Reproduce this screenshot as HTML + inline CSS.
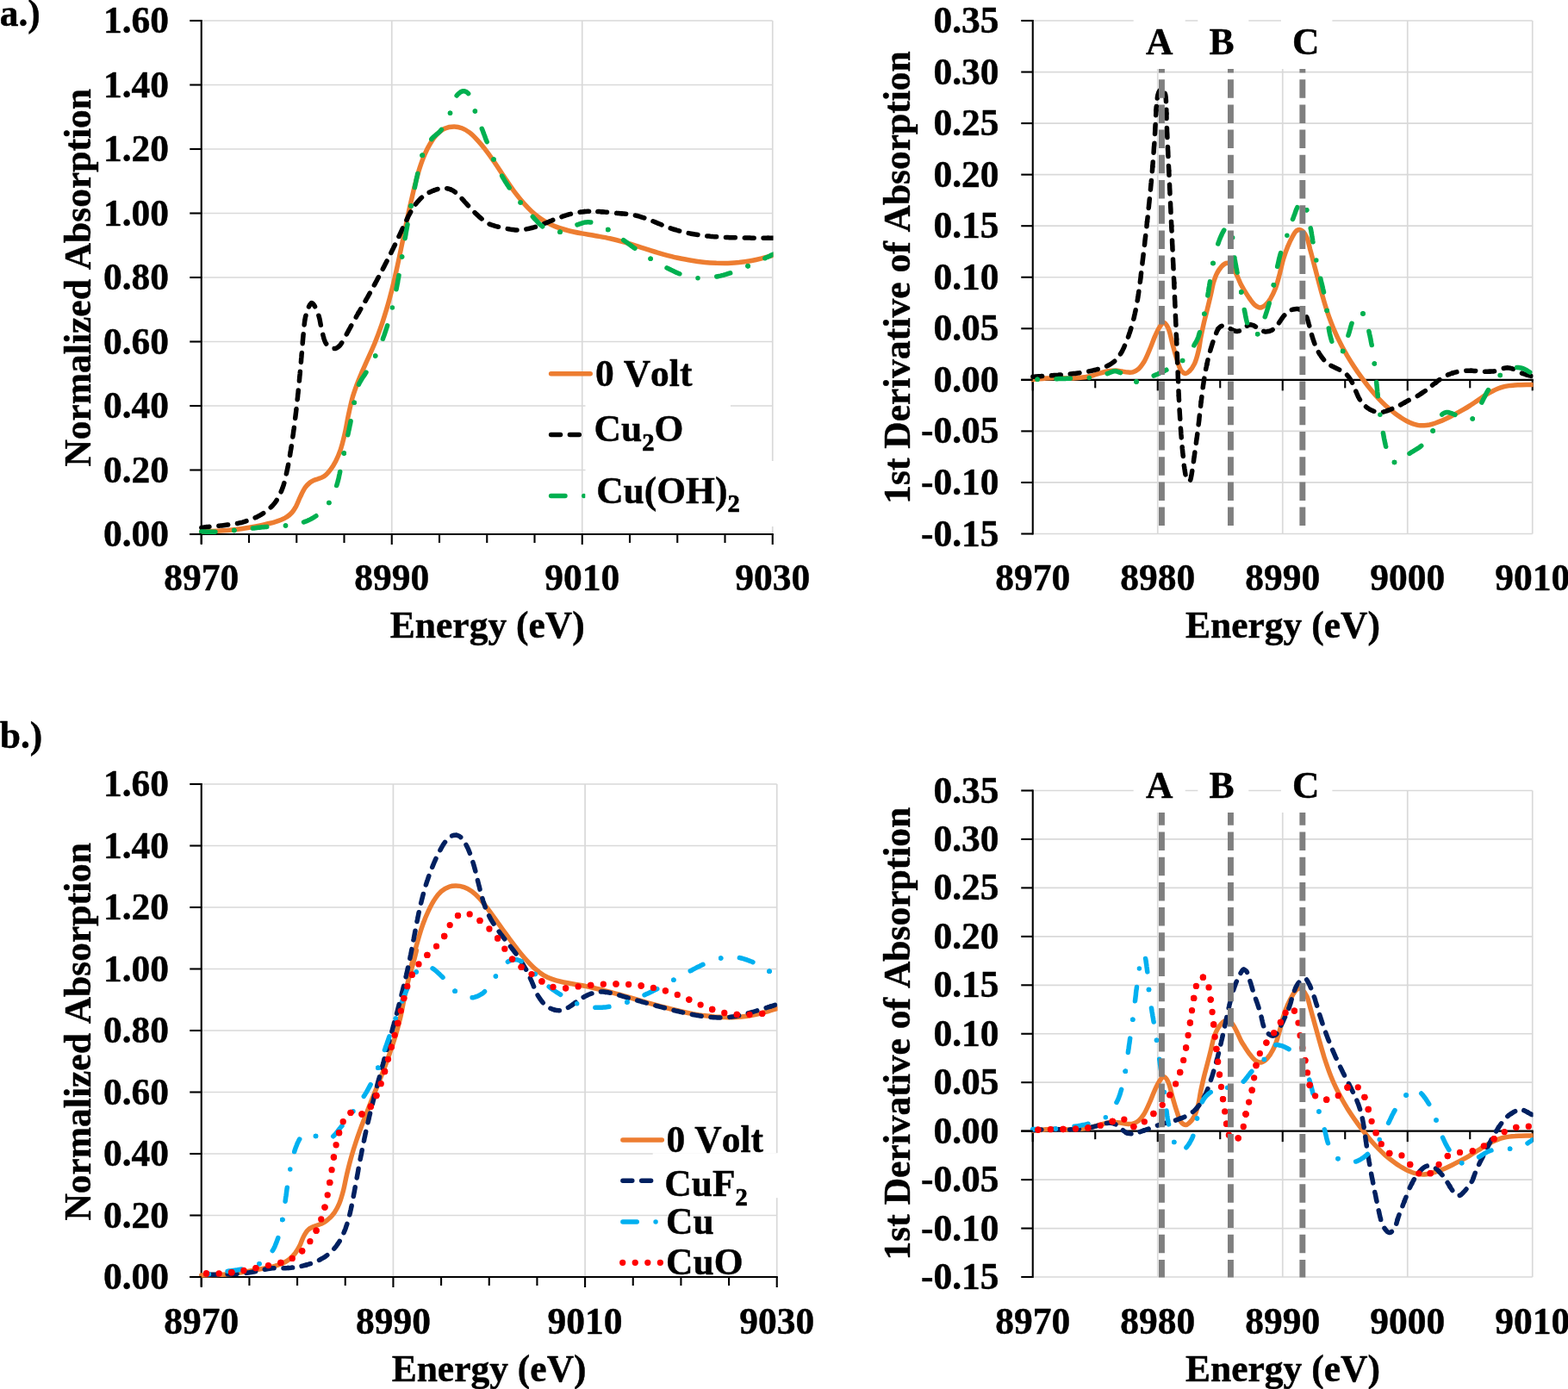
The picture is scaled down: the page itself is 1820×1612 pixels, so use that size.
<!DOCTYPE html>
<html><head><meta charset="utf-8"><title>Figure</title><style>html,body{margin:0;padding:0;background:#fff}svg{display:block}text{font-kerning:none;font-variant-ligatures:none;stroke:#000;stroke-width:.45px;stroke-linejoin:round}</style></head><body>
<svg width="1820" height="1612" viewBox="0 0 1820 1612" font-family="Liberation Serif, serif" font-weight="bold" fill="#000">
<rect width="1820" height="1612" fill="#fff"/>
<line x1="233.75" y1="24.00" x2="896.75" y2="24.00" stroke="#d9d9d9" stroke-width="1.70" />
<line x1="233.75" y1="98.50" x2="896.75" y2="98.50" stroke="#d9d9d9" stroke-width="1.70" />
<line x1="233.75" y1="173.00" x2="896.75" y2="173.00" stroke="#d9d9d9" stroke-width="1.70" />
<line x1="233.75" y1="247.50" x2="896.75" y2="247.50" stroke="#d9d9d9" stroke-width="1.70" />
<line x1="233.75" y1="322.00" x2="896.75" y2="322.00" stroke="#d9d9d9" stroke-width="1.70" />
<line x1="233.75" y1="396.50" x2="896.75" y2="396.50" stroke="#d9d9d9" stroke-width="1.70" />
<line x1="233.75" y1="471.00" x2="896.75" y2="471.00" stroke="#d9d9d9" stroke-width="1.70" />
<line x1="233.75" y1="545.50" x2="896.75" y2="545.50" stroke="#d9d9d9" stroke-width="1.70" />
<line x1="454.75" y1="24.00" x2="454.75" y2="620.00" stroke="#d9d9d9" stroke-width="1.70" />
<line x1="675.75" y1="24.00" x2="675.75" y2="620.00" stroke="#d9d9d9" stroke-width="1.70" />
<line x1="896.75" y1="24.00" x2="896.75" y2="620.00" stroke="#d9d9d9" stroke-width="1.70" />
<rect x="679.5" y="455.0" width="168.5" height="80.0" fill="#fff"/>
<rect x="679.5" y="535.0" width="230.0" height="76.0" fill="#fff"/>
<line x1="233.75" y1="22.95" x2="233.75" y2="631.00" stroke="#000" stroke-width="2.10" />
<line x1="220.25" y1="620.00" x2="897.80" y2="620.00" stroke="#000" stroke-width="2.10" />
<line x1="233.75" y1="620.00" x2="233.75" y2="632.00" stroke="#000" stroke-width="2.10" />
<line x1="289.00" y1="620.00" x2="289.00" y2="630.00" stroke="#000" stroke-width="2.10" />
<line x1="344.25" y1="620.00" x2="344.25" y2="630.00" stroke="#000" stroke-width="2.10" />
<line x1="399.50" y1="620.00" x2="399.50" y2="630.00" stroke="#000" stroke-width="2.10" />
<line x1="454.75" y1="620.00" x2="454.75" y2="632.00" stroke="#000" stroke-width="2.10" />
<line x1="510.00" y1="620.00" x2="510.00" y2="630.00" stroke="#000" stroke-width="2.10" />
<line x1="565.25" y1="620.00" x2="565.25" y2="630.00" stroke="#000" stroke-width="2.10" />
<line x1="620.50" y1="620.00" x2="620.50" y2="630.00" stroke="#000" stroke-width="2.10" />
<line x1="675.75" y1="620.00" x2="675.75" y2="632.00" stroke="#000" stroke-width="2.10" />
<line x1="731.00" y1="620.00" x2="731.00" y2="630.00" stroke="#000" stroke-width="2.10" />
<line x1="786.25" y1="620.00" x2="786.25" y2="630.00" stroke="#000" stroke-width="2.10" />
<line x1="841.50" y1="620.00" x2="841.50" y2="630.00" stroke="#000" stroke-width="2.10" />
<line x1="896.75" y1="620.00" x2="896.75" y2="632.00" stroke="#000" stroke-width="2.10" />
<clipPath id="cp1"><rect x="228.75" y="4.00" width="668.80" height="700.00"/></clipPath><g clip-path="url(#cp1)">
<path d="M233.8 616.8C241.0 616.6 248.8 616.5 255.5 616.1C261.3 615.8 266.3 615.4 271.8 614.8C277.5 614.1 284.1 613.2 289.3 612.3C293.5 611.6 296.8 611.0 300.6 610.2C304.5 609.4 309.1 608.4 312.4 607.5C314.9 606.9 316.7 606.5 318.9 605.8C321.3 605.1 324.0 604.3 326.4 603.3C328.6 602.3 330.6 601.5 332.6 600.1C334.7 598.7 337.0 597.0 338.8 594.9C340.7 592.7 342.2 590.1 343.8 587.3C345.5 584.0 346.9 579.9 348.6 576.4C350.3 572.9 351.9 569.1 353.9 566.2C355.7 563.8 357.8 561.6 359.8 560.0C361.4 558.8 363.0 558.0 364.6 557.3C366.2 556.6 367.8 556.3 369.4 555.7C370.9 555.2 372.6 554.7 374.1 553.9C375.7 553.1 377.2 552.1 378.7 550.7C380.5 549.1 382.2 547.0 383.9 544.7C385.9 541.9 387.9 538.7 389.7 535.2C391.7 531.2 393.6 526.6 395.3 521.8C397.1 516.4 398.6 510.3 400.0 504.1C401.6 497.5 402.7 490.2 404.1 483.3C405.6 476.4 407.0 469.2 408.8 462.6C410.5 456.5 412.7 450.6 414.7 445.1C416.5 440.2 418.5 435.7 420.3 431.4C422.0 427.5 423.4 424.5 425.3 420.2C428.0 414.1 431.9 405.7 434.9 398.5C437.8 391.3 440.5 384.0 443.0 376.8C445.5 369.6 447.7 362.2 449.8 355.1C451.8 348.3 453.5 341.7 455.2 335.0C456.9 328.2 458.4 321.7 459.9 314.8C461.6 307.4 463.2 299.6 464.8 292.0C466.4 284.4 468.0 276.8 469.5 269.2C471.1 261.8 472.6 254.2 474.1 247.2C475.5 241.0 476.7 235.4 478.1 229.6C479.4 223.7 480.8 217.8 482.4 211.9C483.9 206.0 485.5 199.9 487.3 194.3C489.1 189.0 490.9 183.9 493.0 179.1C495.0 174.6 497.1 170.3 499.6 166.3C501.9 162.5 504.3 158.7 507.2 155.8C509.9 153.1 512.7 150.6 516.0 149.2C519.4 147.7 523.7 147.0 527.2 147.0C530.3 147.0 533.2 147.6 536.1 148.7C539.2 149.8 542.2 151.7 545.1 153.9C548.2 156.2 551.1 159.3 553.9 162.4C557.0 165.7 560.1 169.4 563.0 173.2C566.0 177.1 569.0 181.2 571.8 185.3C574.8 189.5 577.6 193.8 580.4 198.1C583.3 202.4 586.0 206.6 589.0 210.9C592.2 215.6 595.8 220.9 599.1 225.2C602.1 229.1 604.8 232.5 607.9 235.9C610.9 239.2 614.1 242.6 617.2 245.5C620.2 248.2 623.1 250.6 626.1 252.8C628.9 254.8 631.5 256.5 634.5 258.1C637.5 259.8 640.4 261.2 644.0 262.6C648.4 264.4 654.0 266.1 659.2 267.5C664.4 268.9 669.8 269.9 675.1 270.9C680.6 271.9 686.1 272.7 691.5 273.7C697.0 274.7 702.5 275.6 707.9 276.8C713.3 278.0 718.5 279.4 723.8 280.9C729.0 282.3 734.2 284.0 739.4 285.6C744.6 287.2 749.7 288.9 754.9 290.6C760.1 292.2 765.3 293.8 770.6 295.3C775.8 296.7 781.1 298.1 786.4 299.3C791.7 300.4 797.0 301.5 802.3 302.3C807.6 303.2 813.2 303.9 818.2 304.4C822.9 304.9 827.1 305.1 831.5 305.3C835.9 305.4 840.3 305.5 844.6 305.4C849.0 305.2 853.5 305.0 857.9 304.6C862.3 304.1 866.7 303.5 871.1 302.8C875.5 302.0 879.9 301.0 884.2 299.9C888.6 298.8 893.0 297.6 897.4 296.4" fill="none" stroke="#ED7D31" stroke-width="5.5" stroke-linecap="round" stroke-linejoin="round"/>
<path d="M233.8 612.4L235.4 612.2L236.9 612.0L238.5 611.8L240.1 611.6L241.6 611.4L243.2 611.3L244.8 611.1L246.5 610.9L248.0 610.7L249.5 610.6L251.1 610.5L252.6 610.3L254.2 610.2L255.8 610.1L257.4 609.9L259.1 609.7L260.8 609.5L262.4 609.3L263.9 609.1L265.4 608.9L267.0 608.7L268.6 608.5L270.2 608.3L271.8 608.0L273.4 607.7L275.1 607.5L276.7 607.2L278.3 606.8L279.9 606.5L281.5 606.1L283.1 605.6L284.7 605.1L286.2 604.6L287.8 604.1L289.4 603.6L291.0 603.0L292.5 602.4L294.1 601.7L295.6 601.1L297.1 600.4L298.6 599.7L300.1 598.9L301.5 598.2L302.9 597.4L304.3 596.5L305.7 595.6L307.0 594.7L308.4 593.7L309.7 592.7L311.0 591.7L312.2 590.7L313.4 589.6L314.6 588.5L315.8 587.3L316.9 586.1L317.9 584.9L318.9 583.7L319.9 582.4L320.8 581.1L321.6 579.8L322.4 578.4L323.2 577.0L324.0 575.6L324.7 574.2L325.4 572.7L326.0 571.2L326.7 569.7L327.3 568.1L327.9 566.6L328.4 565.1L329.0 563.6L329.4 562.0L329.9 560.4L330.3 558.8L330.7 557.2L331.1 555.6L331.5 553.9L331.9 552.3L332.2 550.6L332.6 549.0L332.9 547.3L333.3 545.7L333.6 544.1L334.0 542.5L334.3 540.9L334.6 539.3L334.9 537.7L335.2 536.2L335.5 534.6L335.8 533.0L336.0 531.4L336.3 529.9L336.6 528.3L336.8 526.7L337.1 525.1L337.3 523.5L337.6 521.9L337.9 520.3L338.1 518.7L338.4 517.1L338.6 515.4L338.9 513.8L339.1 512.2L339.3 510.5L339.6 508.9L339.8 507.3L340.0 505.6L340.3 504.0L340.5 502.3L340.7 500.7L340.9 499.1L341.2 497.4L341.4 495.8L341.6 494.2L341.8 492.6L342.0 490.9L342.2 489.3L342.4 487.7L342.6 486.1L342.8 484.4L343.0 482.8L343.2 481.2L343.4 479.6L343.6 478.0L343.8 476.3L344.0 474.7L344.1 473.1L344.3 471.5L344.5 469.8L344.7 468.2L344.9 466.6L345.0 465.0L345.2 463.4L345.4 461.7L345.6 460.1L345.7 458.5L345.9 456.9L346.1 455.3L346.2 453.6L346.4 452.0L346.6 450.4L346.7 448.8L346.9 447.1L347.0 445.5L347.2 443.9L347.4 442.2L347.5 440.5L347.7 438.8L347.8 437.1L348.0 435.4L348.2 433.7L348.3 432.0L348.5 430.3L348.6 428.7L348.8 427.0L348.9 425.4L349.0 423.9L349.2 422.4L349.3 420.9L349.5 419.3L349.6 417.6L349.7 416.0L349.9 414.5L350.0 412.9L350.1 411.4L350.3 409.9L350.4 408.4L350.5 406.8L350.7 405.2L350.8 403.6L350.9 402.1L351.1 400.5L351.2 398.9L351.3 397.2L351.4 395.6L351.6 393.9L351.7 392.3L351.9 390.6L352.0 389.0L352.2 387.4L352.3 385.7L352.5 384.1L352.7 382.5L352.8 380.8L353.0 379.1L353.1 377.5L353.3 375.8L353.5 374.2L353.7 372.6L354.0 371.0L354.2 369.5L354.5 368.0L354.9 366.5L355.4 364.7L355.9 363.0L356.4 361.3L357.0 359.6L357.6 358.1L358.1 356.7L358.7 355.5L359.3 354.4L360.3 352.9L361.3 351.8L361.8 351.7" fill="none" stroke="#000000" stroke-width="5.5" stroke-linecap="round" stroke-linejoin="round" stroke-dasharray="10.9 10.9" stroke-dashoffset="1.62"/>
<path d="M361.8 351.7L362.9 352.2L364.0 353.4L365.1 354.9L365.7 356.1L366.4 357.4L367.1 358.8L367.8 360.4L368.4 362.1L369.0 363.8L369.6 365.5L370.2 367.2L370.6 368.7L371.0 370.2L371.3 371.8L371.6 373.4L371.9 375.0L372.2 376.7L372.5 378.3L372.8 379.9L373.1 381.5L373.4 383.1L373.8 384.7L374.3 386.3L374.7 388.0L375.1 389.7L375.6 391.3L376.0 393.0L376.5 394.5L377.1 396.0L377.7 397.4L378.4 398.6L379.3 399.8L380.5 401.1L381.8 402.1L383.1 403.0L384.4 403.7L385.6 404.2L387.3 404.6L388.9 404.5L390.3 404.1L391.6 403.4L392.8 402.5L394.0 401.4L395.0 400.3L395.8 399.2L396.6 398.0L397.4 396.6L398.2 395.2L399.0 393.7L399.8 392.2L400.7 390.6L401.5 389.2L402.3 387.9L403.0 386.5L403.8 385.1L404.6 383.6L405.4 382.2L406.2 380.7L407.0 379.2L407.9 377.6L408.7 376.1L409.5 374.6L410.3 373.2L411.1 371.7L411.9 370.3L412.8 368.8L413.6 367.4L414.5 365.9L415.3 364.5L416.1 363.1" fill="none" stroke="#000000" stroke-width="5.5" stroke-linecap="round" stroke-linejoin="round" stroke-dasharray="10.9 10.9" stroke-dashoffset="5.45" pathLength="109.00"/>
<path d="M416.1 363.1L417.0 361.7L417.8 360.2L418.6 358.8L419.5 357.4L420.3 355.9L421.2 354.5L422.0 353.1L422.8 351.7L423.6 350.3L424.4 348.9L425.2 347.4L426.0 346.0L426.8 344.6L427.6 343.2L428.4 341.7L429.2 340.3L430.0 338.9L430.8 337.5L431.6 336.1L432.3 334.6L433.1 333.2L433.9 331.8L434.7 330.4L435.5 328.9L436.2 327.5L437.0 326.1L437.8 324.7L438.5 323.2L439.3 321.8L440.1 320.4L440.8 318.9L441.6 317.5L442.4 316.0L443.1 314.5L443.9 313.1L444.6 311.6L445.4 310.1L446.2 308.6L446.9 307.1L447.7 305.6L448.5 304.2L449.2 302.7L450.0 301.2L450.7 299.7L451.5 298.2L452.2 296.7L452.9 295.3L453.7 293.8L454.4 292.3L455.1 290.8L455.9 289.4L456.6 287.9L457.3 286.4L458.0 285.0L458.7 283.5L459.4 282.1L460.1 280.6L460.8 279.2L461.5 277.7L462.2 276.1L462.9 274.6L463.6 273.1L464.3 271.6L465.0 270.1L465.7 268.6L466.4 267.1L467.1 265.6L467.8 264.1L468.5 262.7L469.2 261.2L469.9 259.6L470.7 258.1L471.4 256.6L472.1 255.0L472.8 253.5L473.5 252.0L474.2 250.6L474.9 249.2L475.6 247.9L476.3 246.6L477.2 245.0L478.0 243.5L478.8 242.2L479.7 240.8L480.6 239.5L481.5 238.2L482.4 236.9L483.4 235.7L484.4 234.5L485.5 233.3L486.6 232.1L487.6 231.0L488.7 229.9L489.9 228.9L491.1 227.9L492.3 226.9L493.5 226.0L494.8 225.2L496.1 224.4L497.5 223.6L499.0 222.9L500.6 222.2L502.2 221.5L503.0 221.2" fill="none" stroke="#000000" stroke-width="5.5" stroke-linecap="round" stroke-linejoin="round" stroke-dasharray="10.9 10.9" stroke-dashoffset="5.45" pathLength="174.40"/>
<path d="M503.0 221.2L504.6 220.6L506.2 220.0L507.7 219.6L509.3 219.2L510.9 218.9L512.5 218.7L514.1 218.6L515.6 218.5L517.1 218.6L518.7 218.7L520.2 219.0L521.6 219.4L523.1 219.9L523.7 220.2" fill="none" stroke="#000000" stroke-width="5.5" stroke-linecap="round" stroke-linejoin="round" stroke-dasharray="10.9 10.9" stroke-dashoffset="5.45" pathLength="21.80"/>
<path d="M523.7 220.2L525.1 220.9L526.5 221.7L527.8 222.6L529.1 223.6L530.3 224.6L531.4 225.6L532.5 226.8L533.6 227.9L534.8 229.2L535.9 230.3L536.9 231.4L538.0 232.6L539.0 233.8L540.1 235.0L541.2 236.2L542.3 237.4L543.4 238.6L544.4 239.7L545.5 240.9L546.6 242.1L547.7 243.3L548.8 244.4L549.9 245.5L551.1 246.7L552.2 247.8L553.4 248.9L554.6 250.0L555.8 251.1L557.0 252.2L558.3 253.2L559.5 254.3L560.7 255.2L562.0 256.2L563.1 257.1L564.3 258.0L565.6 258.8L567.2 259.6L568.6 260.3L569.8 260.7L571.1 261.2L572.6 261.6L574.1 262.1L575.8 262.6L577.5 263.0L579.3 263.5L581.1 263.9L583.0 264.3L584.8 264.7L586.7 265.1L588.6 265.5L590.4 265.8L592.1 266.1L593.8 266.4L595.4 266.6L596.9 266.8L598.3 267.0L599.6 267.1L601.5 267.1L603.2 267.1L604.8 266.9L606.3 266.7L607.8 266.5L609.3 266.2L610.9 265.9L612.5 265.6L614.0 265.3L615.6 264.9L617.2 264.5L618.8 264.1L620.3 263.7L621.9 263.2L623.4 262.7L624.9 262.2L626.4 261.7L627.9 261.1L629.4 260.5L630.8 259.9L632.3 259.3L633.8 258.7L635.3 258.1L636.8 257.5L638.3 256.8L639.8 256.2L641.3 255.6L642.9 255.0L644.3 254.4L645.7 253.8L647.2 253.3L648.6 252.7L650.1 252.2L651.6 251.7L653.0 251.2L654.6 250.7L656.2 250.1L657.8 249.7L659.4 249.2L661.0 248.7L662.6 248.3L664.2 247.9L665.8 247.6L667.4 247.2L669.0 246.9L670.6 246.6L672.2 246.3L673.8 246.1L675.4 245.9L677.0 245.7L678.5 245.5" fill="none" stroke="#000000" stroke-width="5.5" stroke-linecap="round" stroke-linejoin="round" stroke-dasharray="10.9 10.9" stroke-dashoffset="5.45" pathLength="174.40"/>
<path d="M678.5 245.5L680.2 245.4L681.7 245.3L683.3 245.3L684.8 245.2L686.4 245.2L687.9 245.3L689.5 245.3L691.1 245.3L692.6 245.4L694.2 245.5L695.7 245.6L697.3 245.7L698.9 245.8" fill="none" stroke="#000000" stroke-width="5.5" stroke-linecap="round" stroke-linejoin="round" stroke-dasharray="10.9 10.9" stroke-dashoffset="5.45" pathLength="21.80"/>
<path d="M698.9 245.8L700.5 245.9L702.1 246.1L703.6 246.2L705.2 246.4L706.8 246.5L708.4 246.7L710.0 246.8L711.6 247.0L713.2 247.1L714.8 247.3L716.4 247.4L718.0 247.5L719.6 247.7L721.2 247.8" fill="none" stroke="#000000" stroke-width="5.5" stroke-linecap="round" stroke-linejoin="round" stroke-dasharray="10.9 10.9" stroke-dashoffset="5.45" pathLength="21.80"/>
<path d="M721.2 247.8L722.8 247.9L724.3 248.0L725.8 248.2L727.4 248.4L729.0 248.6L730.5 248.8L732.0 249.0L733.6 249.2L735.1 249.5L736.6 249.8L738.1 250.1L739.7 250.5L741.2 250.9L742.8 251.3L744.3 251.8L745.9 252.3L747.4 252.8L748.9 253.3L750.4 253.8L751.8 254.4L753.3 254.9L754.8 255.5L756.3 256.1L757.7 256.7L759.2 257.3L760.7 257.9L762.2 258.5L763.6 259.1L765.1 259.7L766.6 260.3L768.0 260.9L769.4 261.5L770.8 262.1L772.2 262.6L773.7 263.2L775.1 263.7L776.6 264.3L778.1 264.8L779.6 265.3L781.1 265.8L782.7 266.3L783.4 266.5" fill="none" stroke="#000000" stroke-width="5.5" stroke-linecap="round" stroke-linejoin="round" stroke-dasharray="10.9 10.9" stroke-dashoffset="5.45" pathLength="65.40"/>
<path d="M783.4 266.5L785.0 267.0L786.6 267.5L788.2 267.9L789.7 268.4L791.3 268.8L792.8 269.2L794.4 269.6L796.0 269.9L797.6 270.3L799.1 270.6L800.7 270.9L802.2 271.2L803.8 271.5L805.4 271.8L807.0 272.1L808.5 272.3L810.1 272.6L811.7 272.8L813.3 273.0L814.9 273.2L816.5 273.4L818.0 273.6L819.6 273.8L821.2 274.0L822.8 274.1L824.4 274.3L826.0 274.4L827.5 274.6L829.1 274.7L830.7 274.8L832.3 274.9L833.9 275.0L835.5 275.1L837.1 275.2L838.7 275.3L840.3 275.4L841.9 275.5L843.5 275.5L845.1 275.6L846.7 275.7L848.2 275.7L849.8 275.8L851.4 275.8L853.0 275.8L854.6 275.9L856.2 275.9L857.8 276.0L859.4 276.0L861.0 276.0L862.6 276.0L864.2 276.0L865.7 276.1L867.3 276.1L868.9 276.1L870.4 276.1L872.0 276.2L873.5 276.2L875.1 276.2L876.7 276.2L878.3 276.2L880.0 276.2L881.5 276.2L883.1 276.2L884.7 276.2L886.4 276.2L888.0 276.2L889.7 276.2L891.5 276.2" fill="none" stroke="#000000" stroke-width="5.5" stroke-linecap="round" stroke-linejoin="round" stroke-dasharray="10.9 10.9" stroke-dashoffset="5.45" pathLength="109.00"/>
<path d="M891.5 276.2L893.2 276.2L894.9 276.2L896.6 276.2L898.2 276.2" fill="none" stroke="#000000" stroke-width="5.5" stroke-linecap="round" stroke-linejoin="round" stroke-dasharray="10.9 10.9" stroke-dashoffset="5.45"/>
<path d="M233.8 617.1L235.4 617.1L237.0 617.1L238.6 617.2L240.1 617.2L241.7 617.2L243.3 617.3L244.9 617.3L246.6 617.3L248.3 617.2L249.9 617.2L251.4 617.1L253.0 617.1L254.5 617.0L256.2 616.9L257.8 616.8L259.4 616.7L261.1 616.5L262.8 616.4L264.4 616.3L266.1 616.1L267.7 616.0L269.4 615.8L271.0 615.7L271.8 615.6" fill="none" stroke="#00B050" stroke-width="5.5" stroke-linecap="round" stroke-linejoin="round" stroke-dasharray="16.36 21.82 0 21.82" stroke-dashoffset="0.12"/>
<path d="M271.8 615.6L273.5 615.4L275.1 615.3L276.8 615.1L278.4 614.9L280.1 614.7L281.7 614.5L283.4 614.2L285.0 614.0L286.6 613.8L288.2 613.6L289.8 613.4L291.4 613.2L293.0 613.0L294.7 612.9L296.3 612.7L298.0 612.5L299.6 612.3L301.2 612.2L302.8 612.0L304.5 611.8L306.1 611.7L307.7 611.5L309.4 611.4L311.1 611.2L312.7 611.1L314.3 611.0L315.9 611.0L317.5 610.9L319.2 610.8L320.8 610.7L322.5 610.7L324.1 610.6L325.8 610.5L327.4 610.4L329.1 610.3L330.7 610.1L331.5 610.0" fill="none" stroke="#00B050" stroke-width="5.5" stroke-linecap="round" stroke-linejoin="round" stroke-dasharray="16.36 21.82 0 21.82" stroke-dashoffset="38.18" pathLength="60.00"/>
<path d="M331.5 610.0L333.2 609.8L334.8 609.6L336.5 609.4L338.1 609.2L339.8 608.9L341.4 608.7L343.1 608.4L344.7 608.1L346.3 607.7L347.9 607.4L349.4 607.0L350.9 606.5L352.5 606.0L354.0 605.4L355.5 604.9L357.0 604.3L358.5 603.6L359.9 602.9L361.3 602.2L362.7 601.4L364.1 600.6L365.4 599.7L366.8 598.8L368.1 597.9L369.3 596.9L370.6 595.9L371.8 594.8L373.1 593.7L374.3 592.5L375.5 591.3L376.7 590.1L377.8 588.8L378.9 587.6L379.9 586.2L380.9 584.9L381.9 583.5" fill="none" stroke="#00B050" stroke-width="5.5" stroke-linecap="round" stroke-linejoin="round" stroke-dasharray="16.36 21.82 0 21.82" stroke-dashoffset="38.18" pathLength="60.00"/>
<path d="M381.9 583.5L382.8 582.2L383.6 580.8L384.4 579.4L385.1 577.9L385.8 576.4L386.5 574.9L387.1 573.4L387.7 571.8L388.3 570.3L388.9 568.7L389.4 567.2L389.9 565.7L390.5 564.2L391.0 562.7L391.5 561.1L391.9 559.6L392.3 558.0L392.7 556.5L393.1 555.0L393.4 553.4L393.7 551.9L394.1 550.3L394.4 548.7L394.8 547.1L395.1 545.6L395.5 544.0L395.8 542.4L396.2 540.8L396.5 539.2L396.9 537.6L397.2 535.9L397.6 534.3L397.9 532.7L398.2 531.0L398.6 529.4L398.9 527.7L399.3 526.1" fill="none" stroke="#00B050" stroke-width="5.5" stroke-linecap="round" stroke-linejoin="round" stroke-dasharray="16.36 21.82 0 21.82" stroke-dashoffset="38.18" pathLength="60.00"/>
<path d="M399.3 526.1L399.6 524.5L400.0 522.8L400.3 521.2L400.7 519.5L401.0 517.9L401.4 516.2L401.7 514.6L402.1 512.9L402.4 511.3L402.7 509.7L403.1 508.1L403.4 506.5L403.7 505.0L404.1 503.3L404.4 501.7L404.7 500.2L405.1 498.6L405.4 497.1L405.7 495.6L406.0 494.0L406.4 492.5L406.7 490.9L407.0 489.3L407.3 487.7L407.7 486.1L407.9 484.6L408.2 483.0L408.5 481.3L408.8 479.7L409.1 478.0L409.4 476.4L409.7 474.7L410.1 473.1L410.4 471.4L410.7 469.8L411.1 468.2L411.2 467.3" fill="none" stroke="#00B050" stroke-width="5.5" stroke-linecap="round" stroke-linejoin="round" stroke-dasharray="16.36 21.82 0 21.82" stroke-dashoffset="38.18" pathLength="60.00"/>
<path d="M411.2 467.3L411.6 465.7L411.9 464.1L412.2 462.4L412.6 460.7L412.9 459.1L413.2 457.4L413.6 455.8L414.0 454.1L414.4 452.5L414.8 451.0L415.3 449.4L415.8 447.9L416.4 446.5L417.0 444.9L417.8 443.5L418.6 442.1L419.4 440.7L420.2 439.4L421.1 438.0L422.0 436.7L422.9 435.4L423.8 434.0L424.7 432.6L425.5 431.2L426.3 429.8L427.1 428.4L428.0 427.0L428.8 425.6L429.6 424.1L430.5 422.7L431.3 421.2L432.2 419.7L433.0 418.3L433.8 416.8L434.6 415.3L435.3 413.9L435.7 413.1" fill="none" stroke="#00B050" stroke-width="5.5" stroke-linecap="round" stroke-linejoin="round" stroke-dasharray="16.36 21.82 0 21.82" stroke-dashoffset="38.18" pathLength="60.00"/>
<path d="M435.7 413.1L436.4 411.7L437.2 410.2L437.9 408.6L438.6 407.1L439.3 405.6L439.9 404.1L440.6 402.6L441.2 401.1L441.9 399.5L442.5 398.0L443.1 396.5L443.7 395.0L444.3 393.5L444.8 392.0L445.4 390.5L446.0 388.9L446.5 387.4L447.0 385.9L447.5 384.4L448.0 382.9L448.5 381.3L449.0 379.8L449.5 378.2L450.0 376.6L450.5 375.1L450.9 373.6L451.4 372.1L451.8 370.5L452.3 368.9L452.7 367.3L453.1 365.7L453.6 364.1L454.0 362.5L454.4 360.9L454.8 359.3L455.2 357.8L455.4 357.0" fill="none" stroke="#00B050" stroke-width="5.5" stroke-linecap="round" stroke-linejoin="round" stroke-dasharray="16.36 21.82 0 21.82" stroke-dashoffset="38.18" pathLength="60.00"/>
<path d="M455.4 357.0L455.8 355.4L456.1 353.8L456.5 352.2L456.9 350.6L457.2 349.0L457.6 347.4L457.9 345.8L458.3 344.2L458.6 342.6L458.9 341.0L459.2 339.5L459.6 337.9L459.9 336.4L460.2 334.8L460.5 333.2L460.8 331.7L461.1 330.1L461.4 328.6L461.7 327.1L461.9 325.5L462.2 324.0L462.5 322.4L462.8 320.8L463.1 319.2L463.3 317.6L463.6 316.1L463.9 314.5L464.1 312.9L464.4 311.3L464.7 309.6L465.0 308.0L465.2 306.3L465.5 304.7L465.8 303.0L466.0 301.4L466.3 299.8L466.6 298.1" fill="none" stroke="#00B050" stroke-width="5.5" stroke-linecap="round" stroke-linejoin="round" stroke-dasharray="16.36 21.82 0 21.82" stroke-dashoffset="38.18" pathLength="60.00"/>
<path d="M466.6 298.1L466.8 296.5L467.1 294.9L467.4 293.3L467.6 291.7L467.9 290.0L468.2 288.4L468.4 286.8L468.7 285.2L469.0 283.6L469.2 282.0L469.5 280.4L469.8 278.9L470.0 277.4L470.3 275.7L470.6 274.0L470.9 272.4L471.1 270.8L471.4 269.2L471.7 267.6L472.0 266.0L472.3 264.4L472.6 262.8L472.9 261.1L473.2 259.4L473.5 257.9L473.8 256.3L474.1 254.7L474.4 253.1L474.7 251.4L475.0 249.8L475.3 248.1L475.6 246.5L475.9 244.8L476.3 243.1L476.6 241.5L476.9 239.9L477.1 239.1" fill="none" stroke="#00B050" stroke-width="5.5" stroke-linecap="round" stroke-linejoin="round" stroke-dasharray="16.36 21.82 0 21.82" stroke-dashoffset="38.18" pathLength="60.00"/>
<path d="M477.1 239.1L477.4 237.4L477.7 235.8L478.0 234.2L478.3 232.6L478.7 231.0L479.0 229.4L479.3 227.8L479.6 226.2L480.0 224.6L480.3 223.1L480.6 221.5L480.9 219.9L481.2 218.4L481.6 216.7L481.9 215.1L482.2 213.4L482.6 211.8L482.9 210.2L483.2 208.6L483.6 207.0L483.9 205.4L484.3 203.8L484.6 202.1L485.0 200.5L485.4 198.9L485.7 197.4L486.0 195.8L486.4 194.3L486.7 192.7L487.0 191.1L487.4 189.5L487.8 187.9L488.2 186.3L488.7 184.8L489.1 183.2L489.7 181.7L490.2 180.2" fill="none" stroke="#00B050" stroke-width="5.5" stroke-linecap="round" stroke-linejoin="round" stroke-dasharray="16.36 21.82 0 21.82" stroke-dashoffset="38.18" pathLength="60.00"/>
<path d="M490.2 180.2L490.8 178.7L491.5 177.2L492.2 175.7L492.9 174.2L493.7 172.7L494.5 171.2L495.3 169.8L496.1 168.4L497.0 167.0L497.8 165.6L498.7 164.3L499.6 163.0L500.6 161.8L501.6 160.5L502.7 159.4L503.9 158.3L505.1 157.3L506.3 156.3L507.5 155.3L508.7 154.3L509.9 153.2L511.0 152.1L512.1 150.8L513.0 149.6L513.9 148.3L514.8 147.0L515.6 145.6L516.4 144.2L517.2 142.7L517.9 141.2L518.7 139.7L519.4 138.2L520.1 136.7L520.8 135.1L521.5 133.6L522.2 132.1L522.5 131.3" fill="none" stroke="#00B050" stroke-width="5.5" stroke-linecap="round" stroke-linejoin="round" stroke-dasharray="16.36 21.82 0 21.82" stroke-dashoffset="38.18" pathLength="60.00"/>
<path d="M522.5 131.3L523.2 129.8L523.8 128.2L524.4 126.5L524.9 124.8L525.5 123.0L526.0 121.3L526.5 119.6L527.1 117.9L527.6 116.3L528.2 114.8L528.8 113.4L529.4 112.1L530.1 111.0L531.1 109.8L532.4 108.6L533.7 107.5L535.0 106.6L536.4 106.0L537.7 105.7L539.2 105.8L540.8 106.3L542.2 107.2L543.3 108.2L544.0 109.1L544.6 110.2L545.3 111.5L545.9 113.0L546.5 114.5L547.1 116.1L547.7 117.8L548.3 119.6L548.8 121.4L549.4 123.1L550.0 124.8L550.6 126.5L551.1 128.1L551.4 128.9" fill="none" stroke="#00B050" stroke-width="5.5" stroke-linecap="round" stroke-linejoin="round" stroke-dasharray="16.36 21.82 0 21.82" stroke-dashoffset="38.18" pathLength="60.00"/>
<path d="M551.4 128.9L552.0 130.4L552.6 131.9L553.2 133.5L553.8 135.0L554.4 136.6L555.0 138.1L555.6 139.6L556.2 141.1L556.8 142.7L557.4 144.2L557.9 145.6L558.5 147.1L559.1 148.6L559.6 150.1L560.2 151.6L560.8 153.1L561.3 154.6L561.9 156.0L562.4 157.5L563.0 158.9L563.5 160.4L564.1 161.9L564.7 163.4L565.3 164.9L565.8 166.4L566.4 167.9L567.0 169.5L567.5 171.0L568.1 172.6L568.7 174.1L569.3 175.7L569.9 177.3L570.5 178.8L571.1 180.4L571.7 181.9L572.4 183.5L573.0 185.0" fill="none" stroke="#00B050" stroke-width="5.5" stroke-linecap="round" stroke-linejoin="round" stroke-dasharray="16.36 21.82 0 21.82" stroke-dashoffset="38.18" pathLength="60.00"/>
<path d="M573.0 185.0L573.7 186.5L574.4 188.0L575.0 189.5L575.7 190.9L576.5 192.4L577.2 193.9L577.9 195.4L578.7 196.8L579.4 198.2L580.1 199.7L580.9 201.1L581.6 202.4L582.4 203.8L583.2 205.2L584.0 206.6L584.9 208.0L585.7 209.4L586.5 210.7L587.4 212.1L588.2 213.4L589.1 214.7L590.0 216.1L590.9 217.5L591.8 218.8L592.7 220.1L593.6 221.4L594.6 222.7L595.5 224.0L596.5 225.3L597.5 226.6L598.5 227.9L599.5 229.3L600.5 230.6L601.5 231.9L602.6 233.2L603.6 234.5L604.1 235.1" fill="none" stroke="#00B050" stroke-width="5.5" stroke-linecap="round" stroke-linejoin="round" stroke-dasharray="16.36 21.82 0 21.82" stroke-dashoffset="38.18" pathLength="60.00"/>
<path d="M604.1 235.1L605.1 236.4L606.2 237.7L607.2 238.9L608.3 240.2L609.4 241.5L610.4 242.7L611.5 244.0L612.6 245.2L613.7 246.4L614.8 247.7L615.9 248.8L616.9 250.0L618.0 251.1L619.1 252.3L620.2 253.6L621.4 254.8L622.5 256.0L623.6 257.2L624.7 258.4L625.8 259.5L627.0 260.6L628.2 261.6L629.4 262.6L630.8 263.5L632.2 264.3L633.6 265.0L635.0 265.8L636.5 266.5L638.1 267.2L639.7 267.8L641.3 268.3L642.9 268.7L644.5 269.1L646.1 269.3L647.7 269.4L649.2 269.3L650.0 269.3" fill="none" stroke="#00B050" stroke-width="5.5" stroke-linecap="round" stroke-linejoin="round" stroke-dasharray="16.36 21.82 0 21.82" stroke-dashoffset="38.18" pathLength="60.00"/>
<path d="M650.0 269.3L651.5 269.0L653.1 268.5L654.7 268.0L656.3 267.3L657.9 266.6L659.5 265.9L661.1 265.1L662.6 264.3L664.1 263.5L665.6 262.8L667.0 262.2L668.3 261.6L669.8 261.0L671.5 260.4L673.0 259.8L674.5 259.3L676.0 258.8L677.4 258.4L678.8 258.1L680.4 257.9L681.9 257.8L683.4 257.7L685.0 257.9L686.8 258.2L688.1 258.5L689.4 258.9L690.8 259.3L692.3 259.9L693.9 260.5L695.5 261.2L697.1 261.9L698.7 262.7L700.3 263.5L701.9 264.3L703.5 265.1L705.0 266.0L705.7 266.4" fill="none" stroke="#00B050" stroke-width="5.5" stroke-linecap="round" stroke-linejoin="round" stroke-dasharray="16.36 21.82 0 21.82" stroke-dashoffset="38.18" pathLength="60.00"/>
<path d="M705.7 266.4L707.1 267.2L708.5 268.0L709.9 268.9L711.2 269.8L712.6 270.7L714.0 271.6L715.3 272.6L716.6 273.6L717.9 274.5L719.3 275.5L720.5 276.4L721.8 277.3L723.1 278.2L724.4 279.2L725.8 280.1L727.1 281.1L728.4 282.0L729.6 283.0L730.9 283.9L732.2 284.8L733.4 285.8L734.7 286.7L736.1 287.7L737.5 288.6L738.7 289.5L740.0 290.4L741.3 291.3L742.7 292.2L744.0 293.1L745.4 294.0L746.8 294.9L748.1 295.8L749.5 296.7L750.9 297.6L752.3 298.5L753.7 299.4L755.1 300.2" fill="none" stroke="#00B050" stroke-width="5.5" stroke-linecap="round" stroke-linejoin="round" stroke-dasharray="16.36 21.82 0 21.82" stroke-dashoffset="38.18" pathLength="60.00"/>
<path d="M755.1 300.2L756.5 301.1L757.9 301.9L759.3 302.7L760.7 303.5L762.1 304.4L763.5 305.2L764.9 306.0L766.3 306.8L767.8 307.6L769.2 308.3L770.6 309.1L771.9 309.8L773.3 310.5L774.8 311.3L776.3 312.0L777.9 312.8L779.4 313.6L781.0 314.3L782.5 315.0L784.0 315.7L785.5 316.4L786.9 317.0L788.4 317.6L789.7 318.1L791.4 318.7L792.9 319.3L794.5 319.8L796.0 320.2L797.5 320.7L799.0 321.0L800.4 321.4L802.1 321.7L803.7 322.0L805.2 322.2L806.8 322.4L808.4 322.6L810.0 322.7" fill="none" stroke="#00B050" stroke-width="5.5" stroke-linecap="round" stroke-linejoin="round" stroke-dasharray="16.36 21.82 0 21.82" stroke-dashoffset="38.18" pathLength="60.00"/>
<path d="M810.0 322.7L811.6 322.8L813.1 322.9L814.7 322.9L816.2 322.9L817.8 322.8L819.4 322.7L821.0 322.6L822.5 322.5L824.0 322.3L825.6 322.1L827.1 321.9L828.7 321.7L830.4 321.4L831.9 321.0L833.4 320.7L834.8 320.4L836.3 320.1L837.9 319.7L839.4 319.3L841.0 318.8L842.6 318.4L844.2 317.9L845.8 317.4L847.4 316.9L848.9 316.4L850.4 315.9L851.9 315.3L853.4 314.8L855.0 314.2L856.5 313.6L858.1 312.9L859.6 312.3L861.2 311.7L862.8 311.0L864.3 310.4L865.8 309.7L867.4 309.1L868.1 308.8" fill="none" stroke="#00B050" stroke-width="5.5" stroke-linecap="round" stroke-linejoin="round" stroke-dasharray="16.36 21.82 0 21.82" stroke-dashoffset="38.18" pathLength="60.00"/>
<path d="M868.1 308.8L869.6 308.1L871.1 307.5L872.7 306.8L874.2 306.1L875.7 305.4L877.2 304.7L878.7 304.0L880.2 303.3L881.6 302.6L883.1 302.0L884.4 301.3L885.8 300.7L887.1 300.1L888.7 299.3L890.3 298.6L891.7 297.9L893.2 297.2L894.6 296.5L896.0 295.8L897.5 295.2L898.2 294.8" fill="none" stroke="#00B050" stroke-width="5.5" stroke-linecap="round" stroke-linejoin="round" stroke-dasharray="16.36 21.82 0 21.82" stroke-dashoffset="38.18"/>
<g fill="#00B050"><circle cx="271.8" cy="615.6" r="2.73"/><circle cx="331.5" cy="610.0" r="2.73"/><circle cx="381.9" cy="583.5" r="2.73"/><circle cx="399.3" cy="526.1" r="2.73"/><circle cx="411.2" cy="467.3" r="2.73"/><circle cx="435.7" cy="413.1" r="2.73"/><circle cx="455.4" cy="357.0" r="2.73"/><circle cx="466.6" cy="298.1" r="2.73"/><circle cx="477.1" cy="239.1" r="2.73"/><circle cx="490.2" cy="180.2" r="2.73"/><circle cx="522.5" cy="131.3" r="2.73"/><circle cx="551.4" cy="128.9" r="2.73"/><circle cx="573.0" cy="185.0" r="2.73"/><circle cx="604.1" cy="235.1" r="2.73"/><circle cx="650.0" cy="269.3" r="2.73"/><circle cx="705.7" cy="266.4" r="2.73"/><circle cx="755.1" cy="300.2" r="2.73"/><circle cx="810.0" cy="322.7" r="2.73"/><circle cx="868.1" cy="308.8" r="2.73"/></g>
</g>
<line x1="220.25" y1="24.00" x2="233.75" y2="24.00" stroke="#000" stroke-width="2.10" />
<text x="196.00" y="38.00" font-size="43.50" text-anchor="end" >1.60</text>
<line x1="220.25" y1="98.50" x2="233.75" y2="98.50" stroke="#000" stroke-width="2.10" />
<text x="196.00" y="112.50" font-size="43.50" text-anchor="end" >1.40</text>
<line x1="220.25" y1="173.00" x2="233.75" y2="173.00" stroke="#000" stroke-width="2.10" />
<text x="196.00" y="187.00" font-size="43.50" text-anchor="end" >1.20</text>
<line x1="220.25" y1="247.50" x2="233.75" y2="247.50" stroke="#000" stroke-width="2.10" />
<text x="196.00" y="261.50" font-size="43.50" text-anchor="end" >1.00</text>
<line x1="220.25" y1="322.00" x2="233.75" y2="322.00" stroke="#000" stroke-width="2.10" />
<text x="196.00" y="336.00" font-size="43.50" text-anchor="end" >0.80</text>
<line x1="220.25" y1="396.50" x2="233.75" y2="396.50" stroke="#000" stroke-width="2.10" />
<text x="196.00" y="410.50" font-size="43.50" text-anchor="end" >0.60</text>
<line x1="220.25" y1="471.00" x2="233.75" y2="471.00" stroke="#000" stroke-width="2.10" />
<text x="196.00" y="485.00" font-size="43.50" text-anchor="end" >0.40</text>
<line x1="220.25" y1="545.50" x2="233.75" y2="545.50" stroke="#000" stroke-width="2.10" />
<text x="196.00" y="559.50" font-size="43.50" text-anchor="end" >0.20</text>
<line x1="220.25" y1="620.00" x2="233.75" y2="620.00" stroke="#000" stroke-width="2.10" />
<text x="196.00" y="634.00" font-size="43.50" text-anchor="end" >0.00</text>
<text x="233.75" y="685.00" font-size="43.50" text-anchor="middle" >8970</text>
<text x="454.75" y="685.00" font-size="43.50" text-anchor="middle" >8990</text>
<text x="675.75" y="685.00" font-size="43.50" text-anchor="middle" >9010</text>
<text x="896.75" y="685.00" font-size="43.50" text-anchor="middle" >9030</text>
<text x="565.80" y="739.80" font-size="43.50" text-anchor="middle" >Energy (eV)</text>
<text transform="translate(104.50 322.30) rotate(-90)" font-size="43.50" text-anchor="middle">Normalized Absorption</text>
<text x="-0.30" y="30.00" font-size="43.50" text-anchor="start" >a.)</text>
<path d="M639.6 433.7H685.2" fill="none" stroke="#ED7D31" stroke-width="5.5" stroke-linecap="round"/>
<text x="691.00" y="447.50" font-size="43.50" text-anchor="start" >0 Volt</text>
<path d="M639.6 504.6H676.0" fill="none" stroke="#000000" stroke-width="5.5" stroke-linecap="round" stroke-dasharray="10.9 10.9"/>
<text x="689.60" y="511.80" font-size="43.50" text-anchor="start" >Cu<tspan font-size="28.5" dy="11.0" stroke="#000" stroke-width="0.7" stroke-linejoin="round">2</tspan><tspan dy="-11">O</tspan></text>
<path d="M639.6 575.6H678.5" fill="none" stroke="#00B050" stroke-width="5.5" stroke-linecap="round" stroke-dasharray="16.36 21.82 0 21.82"/>
<rect x="679.3" y="570" width="8" height="12" fill="#fff"/>
<text x="692.20" y="583.80" font-size="43.50" text-anchor="start" >Cu(OH)<tspan font-size="28.5" dy="10.3" stroke="#000" stroke-width="0.7" stroke-linejoin="round">2</tspan></text>
<line x1="233.75" y1="910.00" x2="901.75" y2="910.00" stroke="#d9d9d9" stroke-width="1.70" />
<line x1="233.75" y1="981.50" x2="901.75" y2="981.50" stroke="#d9d9d9" stroke-width="1.70" />
<line x1="233.75" y1="1053.00" x2="901.75" y2="1053.00" stroke="#d9d9d9" stroke-width="1.70" />
<line x1="233.75" y1="1124.50" x2="901.75" y2="1124.50" stroke="#d9d9d9" stroke-width="1.70" />
<line x1="233.75" y1="1196.00" x2="901.75" y2="1196.00" stroke="#d9d9d9" stroke-width="1.70" />
<line x1="233.75" y1="1267.50" x2="901.75" y2="1267.50" stroke="#d9d9d9" stroke-width="1.70" />
<line x1="233.75" y1="1339.00" x2="901.75" y2="1339.00" stroke="#d9d9d9" stroke-width="1.70" />
<line x1="233.75" y1="1410.50" x2="901.75" y2="1410.50" stroke="#d9d9d9" stroke-width="1.70" />
<line x1="456.42" y1="910.00" x2="456.42" y2="1482.00" stroke="#d9d9d9" stroke-width="1.70" />
<line x1="679.08" y1="910.00" x2="679.08" y2="1482.00" stroke="#d9d9d9" stroke-width="1.70" />
<line x1="901.75" y1="910.00" x2="901.75" y2="1482.00" stroke="#d9d9d9" stroke-width="1.70" />
<rect x="757.7" y="1338.2" width="160.0" height="52.0" fill="#fff"/>
<line x1="233.75" y1="908.95" x2="233.75" y2="1493.00" stroke="#000" stroke-width="2.10" />
<line x1="220.25" y1="1482.00" x2="902.80" y2="1482.00" stroke="#000" stroke-width="2.10" />
<line x1="233.75" y1="1482.00" x2="233.75" y2="1494.00" stroke="#000" stroke-width="2.10" />
<line x1="289.42" y1="1482.00" x2="289.42" y2="1492.00" stroke="#000" stroke-width="2.10" />
<line x1="345.08" y1="1482.00" x2="345.08" y2="1492.00" stroke="#000" stroke-width="2.10" />
<line x1="400.75" y1="1482.00" x2="400.75" y2="1492.00" stroke="#000" stroke-width="2.10" />
<line x1="456.42" y1="1482.00" x2="456.42" y2="1494.00" stroke="#000" stroke-width="2.10" />
<line x1="512.08" y1="1482.00" x2="512.08" y2="1492.00" stroke="#000" stroke-width="2.10" />
<line x1="567.75" y1="1482.00" x2="567.75" y2="1492.00" stroke="#000" stroke-width="2.10" />
<line x1="623.42" y1="1482.00" x2="623.42" y2="1492.00" stroke="#000" stroke-width="2.10" />
<line x1="679.08" y1="1482.00" x2="679.08" y2="1494.00" stroke="#000" stroke-width="2.10" />
<line x1="734.75" y1="1482.00" x2="734.75" y2="1492.00" stroke="#000" stroke-width="2.10" />
<line x1="790.42" y1="1482.00" x2="790.42" y2="1492.00" stroke="#000" stroke-width="2.10" />
<line x1="846.08" y1="1482.00" x2="846.08" y2="1492.00" stroke="#000" stroke-width="2.10" />
<line x1="901.75" y1="1482.00" x2="901.75" y2="1494.00" stroke="#000" stroke-width="2.10" />
<clipPath id="cp2"><rect x="228.75" y="890.00" width="673.80" height="700.00"/></clipPath><g clip-path="url(#cp2)">
<path d="M233.8 1480.1C245.2 1479.5 258.1 1479.5 268.1 1478.4C276.0 1477.6 282.6 1476.3 289.2 1475.1C295.1 1474.1 300.7 1473.1 305.9 1472.1C310.6 1471.1 315.0 1470.4 319.0 1469.3C322.6 1468.3 325.9 1467.3 328.8 1465.8C331.4 1464.5 333.7 1463.1 335.9 1461.3C338.3 1459.4 340.6 1457.0 342.6 1454.5C344.6 1451.8 346.3 1448.8 348.0 1445.6C349.7 1442.1 350.9 1437.7 352.7 1434.5C354.2 1431.7 355.7 1429.0 357.7 1427.2C359.4 1425.6 361.5 1424.7 363.4 1423.8C365.0 1423.0 366.6 1422.6 368.2 1422.0C369.8 1421.4 371.4 1420.9 372.9 1420.2C374.5 1419.4 376.1 1418.6 377.6 1417.6C379.4 1416.4 381.1 1415.1 382.8 1413.4C384.8 1411.5 386.7 1409.3 388.5 1406.8C390.5 1403.8 392.2 1400.5 393.8 1396.7C395.7 1392.2 397.2 1386.7 398.6 1381.4C400.1 1375.5 401.1 1369.1 402.6 1362.8C404.2 1356.1 406.0 1348.9 407.9 1342.3C409.7 1335.8 411.7 1329.5 413.7 1323.5C415.6 1318.0 417.6 1312.6 419.4 1307.5C421.1 1302.9 422.6 1299.0 424.4 1294.4C426.5 1289.1 428.8 1283.2 431.1 1277.5C433.5 1271.6 435.9 1265.6 438.3 1259.6C440.8 1253.3 443.3 1246.9 445.8 1240.5C448.3 1233.8 450.8 1227.0 453.1 1220.2C455.4 1213.5 457.6 1206.9 459.6 1200.2C461.5 1193.5 463.3 1186.8 464.9 1180.0C466.4 1173.3 467.6 1166.6 469.0 1159.7C470.6 1152.7 472.0 1145.4 473.8 1138.3C475.6 1131.1 478.2 1123.2 479.9 1116.8C481.3 1111.6 483.5 1102.8 483.4 1102.8C483.2 1102.7 476.6 1126.2 476.4 1126.1C476.2 1126.0 478.8 1115.3 480.2 1109.5C481.8 1102.9 483.8 1095.3 485.8 1088.7C487.5 1082.8 489.2 1077.2 491.2 1071.8C493.1 1066.6 495.1 1061.6 497.4 1056.9C499.6 1052.2 502.0 1047.4 504.7 1043.5C507.0 1040.0 509.5 1036.8 512.3 1034.4C514.9 1032.2 518.0 1030.3 521.0 1029.3C523.6 1028.3 526.3 1028.0 529.1 1028.0C532.2 1028.0 535.6 1028.6 538.6 1029.6C541.8 1030.7 544.8 1032.4 547.7 1034.4C550.8 1036.6 553.8 1039.6 556.6 1042.7C559.6 1045.9 562.4 1049.8 565.2 1053.5C568.2 1057.4 571.2 1061.6 574.1 1065.7C577.1 1069.8 580.0 1074.0 583.0 1078.1C586.0 1082.2 588.9 1086.4 591.9 1090.4C594.9 1094.4 597.8 1098.3 600.9 1102.2C604.0 1106.0 607.1 1109.9 610.5 1113.6C613.8 1117.2 617.2 1121.0 620.8 1124.1C624.1 1127.0 627.5 1129.7 631.0 1131.8C634.2 1133.7 637.6 1135.1 641.0 1136.4C644.3 1137.6 647.7 1138.5 651.1 1139.3C654.4 1140.1 657.8 1140.6 661.2 1141.2C664.6 1141.9 668.0 1142.4 671.4 1143.0C674.8 1143.6 678.2 1144.2 681.6 1144.9C685.0 1145.7 688.4 1146.4 691.8 1147.2C695.2 1148.0 698.5 1148.8 701.8 1149.7C705.2 1150.5 708.4 1151.4 711.9 1152.3C715.9 1153.4 720.3 1154.6 724.5 1155.8C728.7 1157.0 732.7 1158.2 737.1 1159.5C742.2 1161.0 748.1 1162.7 753.1 1164.1C757.6 1165.4 761.6 1166.5 765.9 1167.7C770.1 1168.8 774.4 1170.0 778.6 1171.0C782.9 1172.1 787.1 1173.1 791.3 1174.0C795.5 1174.9 799.8 1175.8 804.0 1176.6C808.2 1177.3 812.5 1178.0 816.7 1178.6C820.9 1179.1 825.1 1179.6 829.3 1180.0C833.5 1180.3 837.7 1180.5 841.9 1180.6C846.1 1180.7 850.3 1180.6 854.5 1180.4C858.7 1180.2 862.9 1179.8 867.1 1179.2C871.3 1178.6 875.6 1177.9 879.8 1176.9C884.1 1175.9 888.7 1174.4 892.6 1173.3C895.8 1172.3 898.6 1171.4 901.6 1170.5" fill="none" stroke="#ED7D31" stroke-width="5.5" stroke-linecap="round" stroke-linejoin="round"/>
<path d="M233.8 1479.5L235.4 1479.4L237.1 1479.4L238.7 1479.4L240.4 1479.3L242.0 1479.3L243.6 1479.3L245.3 1479.3L246.9 1479.2L248.6 1479.2L250.2 1479.2L251.9 1479.1L253.6 1479.1L255.3 1479.0L256.9 1479.0L258.5 1478.9L260.2 1478.9L261.9 1478.8L263.6 1478.8L265.3 1478.8L267.0 1478.7L268.7 1478.7L270.4 1478.6L272.0 1478.5L273.7 1478.5L275.3 1478.4L276.9 1478.3L278.4 1478.2L279.9 1478.1L281.5 1477.9L283.2 1477.7L284.9 1477.5L286.6 1477.3L288.2 1477.1L289.8 1476.8L291.3 1476.6L292.8 1476.3L294.3 1476.1L295.8 1475.8L297.5 1475.5L299.1 1475.1L300.7 1474.7L302.3 1474.3L303.9 1473.9L305.4 1473.6L307.0 1473.3L308.5 1473.0L310.0 1472.7L311.6 1472.4L313.1 1472.2L314.6 1472.0L316.2 1471.8L317.7 1471.7L319.2 1471.7L320.8 1471.7L322.3 1471.7L323.9 1471.8L325.5 1471.8L327.0 1471.8L328.7 1471.8L330.3 1471.7L331.9 1471.7L333.6 1471.6L334.4 1471.5" fill="none" stroke="#002060" stroke-width="5.5" stroke-linecap="round" stroke-linejoin="round" stroke-dasharray="10.9 10.9" stroke-dashoffset="13.23"/>
<path d="M334.4 1471.5L336.0 1471.4L337.7 1471.3L339.3 1471.1L340.9 1471.0L342.5 1470.8L344.1 1470.5L345.7 1470.3L347.3 1470.0L349.0 1469.6L350.5 1469.3L352.1 1468.9L353.6 1468.5L355.2 1468.1" fill="none" stroke="#002060" stroke-width="5.5" stroke-linecap="round" stroke-linejoin="round" stroke-dasharray="10.9 10.9" stroke-dashoffset="5.45" pathLength="21.80"/>
<path d="M355.2 1468.1L356.8 1467.6L358.4 1467.2L359.9 1466.7L361.4 1466.2L362.9 1465.7L364.4 1465.1L365.8 1464.6L367.2 1464.0L368.6 1463.3L370.0 1462.7L371.3 1462.0L372.7 1461.2L374.1 1460.4L375.5 1459.6L376.8 1458.8L378.2 1457.9L379.5 1456.9L380.7 1456.0L381.9 1455.0L383.1 1453.9L384.3 1452.8L385.4 1451.7L386.5 1450.6L387.6 1449.4L388.6 1448.2L389.7 1447.0L390.6 1445.7L391.5 1444.4L392.4 1443.1L393.3 1441.8L394.2 1440.4L394.9 1439.0L395.7 1437.7L396.4 1436.3L397.2 1434.8L397.9 1433.4L398.5 1431.9L399.2 1430.3L399.8 1428.8L400.4 1427.4L401.0 1425.9L401.5 1424.4L402.0 1422.8L402.6 1421.2L403.1 1419.7L403.5 1418.1L404.0 1416.5L404.5 1414.9L404.9 1413.4L405.3 1411.8L405.7 1410.2L406.1 1408.6L406.5 1407.0L406.8 1405.4L407.2 1403.8L407.5 1402.3L407.9 1400.7L408.2 1399.0L408.5 1397.4L408.9 1395.8L409.2 1394.2L409.5 1392.5L409.8 1390.9L410.1 1389.3L410.4 1387.7L410.7 1386.1L411.0 1384.5L411.3 1382.9L411.6 1381.3L411.9 1379.7L412.2 1378.1L412.4 1376.5L412.8 1374.8L413.0 1373.2L413.3 1371.7L413.6 1370.2L413.9 1368.6L414.2 1367.0L414.5 1365.4L414.8 1363.8L415.1 1362.2L415.4 1360.6L415.7 1359.0L415.9 1357.4L416.2 1355.8L416.5 1354.2L416.8 1352.6L417.1 1351.0L417.4 1349.4L417.7 1347.8L418.0 1346.2L418.3 1344.6L418.6 1343.1L418.9 1341.5L419.3 1339.8L419.6 1338.2L419.9 1336.6L420.2 1335.0L420.5 1333.4L420.8 1331.8L421.1 1330.2L421.5 1328.6L421.8 1327.0L422.1 1325.4L422.5 1323.8L422.8 1322.2L423.1 1320.6L423.5 1319.0L423.8 1317.4L424.2 1315.7L424.5 1314.1L424.9 1312.5L425.2 1310.9L425.6 1309.3L425.9 1307.6L426.3 1306.0L426.7 1304.4L427.0 1302.8L427.4 1301.3L427.8 1299.6L428.2 1298.0L428.5 1296.4L428.9 1294.8L429.3 1293.2L429.7 1291.6L430.1 1290.0L430.4 1288.5L430.8 1287.0L431.2 1285.4L431.6 1283.9L432.0 1282.3L432.4 1280.8L432.8 1279.1L433.2 1277.4L433.6 1276.0L433.9 1274.5L434.3 1273.0L434.7 1271.5L435.1 1269.9L435.5 1268.3L436.0 1266.7L436.4 1265.1L436.8 1263.5L437.2 1261.8L437.7 1260.2L438.1 1258.5L438.5 1257.0L438.9 1255.5L439.3 1253.9L439.8 1252.4L440.2 1250.8L440.6 1249.2L441.0 1247.6L441.5 1246.0L441.9 1244.4L442.3 1242.8L442.8 1241.2L443.2 1239.6L443.6 1238.1L444.0 1236.6L444.5 1235.0L444.9 1233.3L445.4 1231.7L445.8 1230.1L446.2 1228.5L446.7 1226.9L447.1 1225.3L447.6 1223.7L448.0 1222.1L448.4 1220.6L448.9 1219.0L449.3 1217.4L449.7 1215.8L450.2 1214.2L450.6 1212.6L451.0 1211.1L451.5 1209.5L451.9 1207.9L452.3 1206.3L452.8 1204.8L453.2 1203.2L453.7 1201.5L454.1 1199.9L454.6 1198.2L455.0 1196.6L455.4 1195.1L455.8 1193.6L456.2 1192.0L456.7 1190.4L457.1 1188.9L457.5 1187.2L458.0 1185.6L458.4 1184.0L458.8 1182.4L459.3 1180.8L459.7 1179.2L460.1 1177.5L460.6 1175.9L461.0 1174.4L461.4 1172.8L461.8 1171.2L462.2 1169.6L462.6 1168.0L463.1 1166.4L463.5 1164.8L463.9 1163.3L464.3 1161.7L464.7 1160.1L465.1 1158.5L465.5 1157.0L465.9 1155.4L466.2 1153.9L466.6 1152.3L467.0 1150.8L467.4 1149.2L467.8 1147.6L468.2 1146.0L468.6 1144.4L469.0 1142.8L469.3 1141.2L469.7 1139.6L470.1 1138.0L470.5 1136.4L470.9 1134.8L471.2 1133.2L471.6 1131.6L471.9 1130.1L472.3 1128.5L472.7 1126.9L473.0 1125.3L473.4 1123.7L473.7 1122.1L474.1 1120.5L474.4 1118.9L474.8 1117.3L475.1 1115.7L475.4 1114.1L475.8 1112.5L476.1 1110.8L476.4 1109.2L476.8 1107.6L477.1 1106.0L477.4 1104.4L477.7 1102.8L478.0 1101.2L478.3 1099.6L478.6 1097.9L478.9 1096.3L479.2 1094.7L479.5 1093.0L479.8 1091.4L480.2 1089.8L480.5 1088.2L480.8 1086.6L481.1 1085.0L481.4 1083.3L481.7 1081.7L482.0 1080.1L482.3 1078.5L482.6 1076.9L482.9 1075.3L483.2 1073.7L483.5 1072.1L483.8 1070.5L484.1 1068.9L484.5 1067.3L484.8 1065.7L485.1 1064.1L485.5 1062.5L485.8 1060.8L486.1 1059.2L486.5 1057.6L486.8 1056.0L487.2 1054.4L487.6 1052.7L487.9 1051.1L488.3 1049.5L488.7 1047.9L489.1 1046.3L489.5 1044.7L489.9 1043.1L490.3 1041.5L490.7 1039.9L491.1 1038.4L491.5 1036.8L492.0 1035.2L492.4 1033.6L492.8 1032.1L493.3 1030.5L493.8 1028.9L494.2 1027.4L494.7 1025.9L495.2 1024.3L495.7 1022.7L496.3 1021.1L496.8 1019.6L497.3 1018.0L497.9 1016.4L498.4 1014.9L499.0 1013.3L499.6 1011.8L500.2 1010.3L500.8 1008.7L501.4 1007.2L502.0 1005.7L502.6 1004.2L503.3 1002.6L503.9 1001.1L504.6 999.5L505.3 998.0L506.0 996.4L506.7 994.9L507.4 993.5L508.1 992.0L508.8 990.6L509.6 989.2L510.3 987.7L511.2 986.2L512.0 984.6L512.8 983.2L513.6 981.7L514.5 980.3L515.3 979.0L516.2 977.7L517.2 976.5L518.3 975.2L519.5 973.9L520.7 972.7L522.0 971.7L523.2 970.8L524.4 970.1L526.0 969.5L527.6 969.2L529.2 969.2L529.9 969.3" fill="none" stroke="#002060" stroke-width="5.5" stroke-linecap="round" stroke-linejoin="round" stroke-dasharray="10.9 10.9" stroke-dashoffset="5.45" pathLength="545.00"/>
<path d="M529.9 969.3L531.4 969.7L532.9 970.3L534.3 971.2L535.3 972.1L536.3 973.1L537.2 974.4L538.2 975.7L539.1 977.1L540.0 978.6L540.8 980.0L541.5 981.4L542.2 982.8L542.9 984.2L543.6 985.7L544.2 987.3L544.8 988.8L545.4 990.3L546.0 991.9L546.5 993.4L547.1 995.0L547.6 996.5L548.1 998.0L548.6 999.6L549.1 1001.2L549.6 1002.8L550.0 1004.4L550.5 1006.0L550.9 1007.6L551.4 1009.2L551.8 1010.8L552.2 1012.4L552.6 1014.0L553.0 1015.6L553.4 1017.2L553.8 1018.8L554.1 1020.4L554.5 1022.0L554.9 1023.6L555.3 1025.2L555.7 1026.8L556.1 1028.3L556.5 1029.9L556.9 1031.5L557.2 1033.0L557.6 1034.5L558.0 1036.1L558.4 1037.6L558.8 1039.0L559.3 1040.7L559.8 1042.3L560.3 1043.9L560.7 1045.5L561.2 1047.1L561.8 1048.6L562.3 1050.2L562.8 1051.7L563.4 1053.2L564.0 1054.8L564.6 1056.3L565.3 1057.7L565.9 1059.2L566.6 1060.6L567.3 1062.1L568.0 1063.5L568.7 1064.9L569.5 1066.4L570.3 1067.8L571.1 1069.1L571.9 1070.5L572.8 1071.8L573.6 1073.2L574.5 1074.5L575.3 1075.8L576.2 1077.1L577.1 1078.3L578.0 1079.6L579.0 1080.9L579.9 1082.1L580.8 1083.4L581.8 1084.7L582.8 1086.0L583.7 1087.2L584.7 1088.5L585.7 1089.7L586.6 1090.9L587.6 1092.1L588.5 1093.3L589.4 1094.5L590.3 1095.7L591.3 1096.9L592.2 1098.1L593.2 1099.4L594.2 1100.7L595.2 1102.0L596.2 1103.3L597.3 1104.7L598.3 1106.0L599.3 1107.4L600.2 1108.8L601.2 1110.1L602.1 1111.5L603.0 1112.9L604.0 1114.3L604.9 1115.6L605.7 1117.0L606.6 1118.4L607.4 1119.8L608.2 1121.1L609.0 1122.5L609.8 1123.9L610.6 1125.2L611.3 1126.6L612.1 1128.1L612.8 1129.5L613.5 1131.0L614.3 1132.5L615.0 1134.0L615.6 1135.5L616.3 1137.1L617.0 1138.6L617.6 1140.1L618.3 1141.7L618.9 1143.2L619.5 1144.8L620.2 1146.3L620.8 1147.8L621.5 1149.3L622.2 1150.8L622.8 1152.2L623.5 1153.7L624.2 1155.1L625.0 1156.5L625.9 1157.8L626.8 1159.2L627.8 1160.6L628.9 1162.0L629.9 1163.3L631.0 1164.5L632.2 1165.6L633.4 1166.7L634.7 1167.7L636.0 1168.6L637.4 1169.4L638.8 1170.2L640.2 1170.8L641.7 1171.4L643.3 1171.9L644.0 1172.1" fill="none" stroke="#002060" stroke-width="5.5" stroke-linecap="round" stroke-linejoin="round" stroke-dasharray="10.9 10.9" stroke-dashoffset="5.45" pathLength="239.80"/>
<path d="M644.0 1172.1L645.5 1172.4L647.0 1172.6L648.5 1172.7L649.9 1172.7L651.4 1172.5L652.9 1172.2L654.4 1171.7L655.9 1171.1L657.4 1170.4L659.0 1169.6L660.4 1168.8L661.6 1168.0L662.9 1167.2L664.2 1166.2L665.5 1165.2L666.8 1164.3L668.1 1163.3L669.4 1162.5L670.7 1161.6L672.0 1160.7L673.3 1159.8L674.6 1158.9L676.0 1158.1L677.3 1157.3L678.7 1156.5L680.2 1155.8L681.7 1155.0L683.2 1154.3L684.7 1153.7L686.2 1153.2L687.7 1152.7L689.3 1152.2L690.8 1151.8L692.4 1151.5L693.9 1151.3L695.4 1151.1L697.1 1151.0L698.7 1151.0L700.4 1151.1L702.0 1151.3L702.8 1151.4" fill="none" stroke="#002060" stroke-width="5.5" stroke-linecap="round" stroke-linejoin="round" stroke-dasharray="10.9 10.9" stroke-dashoffset="5.45" pathLength="65.40"/>
<path d="M702.8 1151.4L704.3 1151.5L705.8 1151.8L707.3 1152.1L708.8 1152.4L710.4 1152.8L711.8 1153.1L713.3 1153.5L714.8 1153.9L716.3 1154.3L717.9 1154.8L719.5 1155.2L720.9 1155.7L722.4 1156.1L723.9 1156.5L725.4 1157.0L726.9 1157.4L728.5 1157.9L730.2 1158.3L731.7 1158.8L733.2 1159.2L734.7 1159.6L736.3 1160.1L737.9 1160.5L739.5 1161.0L741.1 1161.5L742.7 1161.9L744.2 1162.3L745.7 1162.8L747.2 1163.2L748.9 1163.7L750.5 1164.1L752.0 1164.5L753.6 1165.0L755.1 1165.4L756.6 1165.8L758.2 1166.2L759.7 1166.6L761.3 1167.1L762.8 1167.5L764.3 1167.9L765.9 1168.3L767.4 1168.7L769.0 1169.1L770.5 1169.5L772.1 1169.9L773.7 1170.3L775.2 1170.8L776.8 1171.2L778.4 1171.6L780.0 1172.0L781.6 1172.4L783.2 1172.8L784.8 1173.2L786.4 1173.5L788.0 1173.9L789.6 1174.3L791.2 1174.7L792.8 1175.1L794.4 1175.4L796.0 1175.8L797.6 1176.1L799.2 1176.5L800.8 1176.8L802.4 1177.1L804.0 1177.5L805.6 1177.8L807.2 1178.1L808.8 1178.4L810.4 1178.6L811.9 1178.9L813.5 1179.1L815.1 1179.4L816.7 1179.6L818.3 1179.8L819.8 1180.0L821.4 1180.2L823.0 1180.3L824.6 1180.4L826.1 1180.6L827.7 1180.7L829.3 1180.8L830.8 1180.8L832.4 1180.9L834.0 1180.9L835.6 1180.9L837.1 1180.9L838.7 1180.9L840.3 1180.8L841.8 1180.7L843.4 1180.6L845.0 1180.5L846.6 1180.4L848.1 1180.2L849.7 1180.0L851.3 1179.8L852.9 1179.5L854.5 1179.2L856.1 1178.9L857.7 1178.6L859.3 1178.3L860.9 1177.9L862.5 1177.5L864.1 1177.1L865.7 1176.7L867.2 1176.3L868.8 1175.9L870.4 1175.4L872.0 1174.9L873.6 1174.5L875.2 1174.0L876.8 1173.5L878.4 1173.0L880.0 1172.5L881.6 1172.0L883.2 1171.5L884.7 1171.0L886.2 1170.6L887.8 1170.1L889.3 1169.6L890.8 1169.2L892.3 1168.7L893.7 1168.3L894.4 1168.0" fill="none" stroke="#002060" stroke-width="5.5" stroke-linecap="round" stroke-linejoin="round" stroke-dasharray="10.9 10.9" stroke-dashoffset="5.45" pathLength="196.20"/>
<path d="M894.4 1168.0L895.9 1167.6L897.4 1167.1L898.8 1166.6L900.2 1166.2L901.6 1165.7" fill="none" stroke="#002060" stroke-width="5.5" stroke-linecap="round" stroke-linejoin="round" stroke-dasharray="10.9 10.9" stroke-dashoffset="5.45"/>
<path d="M233.8 1479.5L235.4 1479.3L237.1 1479.2L238.7 1479.0L240.4 1478.9L242.0 1478.7L243.6 1478.6L245.3 1478.4L246.9 1478.2L248.4 1478.0L250.1 1477.8L251.7 1477.5L253.3 1477.3L254.9 1477.0L256.5 1476.7L258.1 1476.4L259.7 1476.1L261.4 1475.8L263.1 1475.5L264.6 1475.3L266.1 1475.1L267.7 1474.9L269.3 1474.7L271.0 1474.5L272.6 1474.3L274.3 1474.1L276.0 1473.8L277.6 1473.5L279.3 1473.2L281.0 1472.9L282.5 1472.5L284.0 1472.2L285.6 1471.8L287.2 1471.5L288.8 1471.1L290.5 1470.7L292.1 1470.2L293.6 1469.8L295.2 1469.3L296.7 1468.7L298.2 1468.1L299.6 1467.5L301.0 1466.7" fill="none" stroke="#00B0F0" stroke-width="5.5" stroke-linecap="round" stroke-linejoin="round" stroke-dasharray="16.36 21.82 0 21.82" stroke-dashoffset="29.49"/>
<path d="M301.0 1466.7L302.4 1465.9L303.7 1465.0L305.1 1464.0L306.4 1462.9L307.6 1461.8L308.8 1460.7L310.0 1459.5L311.1 1458.2L312.2 1457.0L313.3 1455.7L314.2 1454.4L315.2 1453.1L316.1 1451.8L317.0 1450.4L317.8 1449.0L318.5 1447.6L319.2 1446.1L319.8 1444.6L320.4 1443.1L321.0 1441.5L321.6 1439.9L322.2 1438.3L322.7 1436.8L323.2 1435.3L323.6 1433.8L324.0 1432.3L324.4 1430.7L324.8 1429.2L325.2 1427.6L325.6 1425.9L326.0 1424.3L326.3 1422.7L326.6 1421.1L327.0 1419.4L327.3 1417.8L327.6 1416.2L327.8 1415.5" fill="none" stroke="#00B0F0" stroke-width="5.5" stroke-linecap="round" stroke-linejoin="round" stroke-dasharray="16.36 21.82 0 21.82" stroke-dashoffset="38.18" pathLength="60.00"/>
<path d="M327.8 1415.5L328.1 1413.8L328.4 1412.2L328.7 1410.5L328.9 1408.9L329.2 1407.2L329.5 1405.6L329.7 1404.0L329.9 1402.3L330.2 1400.7L330.4 1399.1L330.6 1397.5L330.8 1396.0L331.1 1394.4L331.3 1392.7L331.5 1391.1L331.7 1389.5L332.0 1387.9L332.2 1386.3L332.4 1384.8L332.6 1383.2L332.8 1381.6L333.0 1380.0L333.3 1378.3L333.5 1376.7L333.7 1375.2L334.0 1373.6L334.2 1372.1L334.4 1370.5L334.7 1368.9L334.9 1367.3L335.2 1365.7L335.5 1364.1L335.7 1362.5L336.0 1360.9L336.3 1359.3L336.6 1357.7L336.8 1356.9" fill="none" stroke="#00B0F0" stroke-width="5.5" stroke-linecap="round" stroke-linejoin="round" stroke-dasharray="16.36 21.82 0 21.82" stroke-dashoffset="38.18" pathLength="60.00"/>
<path d="M336.8 1356.9L337.1 1355.3L337.4 1353.7L337.8 1352.0L338.1 1350.4L338.5 1348.8L338.8 1347.1L339.2 1345.5L339.6 1343.9L340.0 1342.3L340.4 1340.7L340.8 1339.2L341.3 1337.7L341.8 1336.2L342.3 1334.6L342.9 1332.9L343.5 1331.2L344.2 1329.5L344.8 1327.8L345.5 1326.2L346.3 1324.7L347.0 1323.2L347.8 1321.9L348.6 1320.8L349.4 1319.8L350.7 1318.7L352.1 1317.8L353.5 1317.2L355.1 1316.8L356.5 1316.6L358.0 1316.6L359.5 1316.9L361.0 1317.2L362.6 1317.6L364.2 1318.0L365.7 1318.4L366.5 1318.6" fill="none" stroke="#00B0F0" stroke-width="5.5" stroke-linecap="round" stroke-linejoin="round" stroke-dasharray="16.36 21.82 0 21.82" stroke-dashoffset="38.18" pathLength="60.00"/>
<path d="M366.5 1318.6L368.1 1319.0L369.7 1319.5L371.3 1320.0L372.9 1320.4L374.4 1320.8L375.9 1321.0L377.6 1321.2L379.3 1321.3L380.9 1321.3L382.5 1321.1L384.2 1320.5L385.2 1319.9L386.3 1319.1L387.3 1318.2L388.3 1317.2L389.4 1316.0L390.4 1314.8L391.5 1313.4L392.5 1312.0L393.7 1310.6L394.8 1309.1L396.0 1307.6L396.9 1306.6L397.8 1305.5L398.7 1304.4L399.7 1303.2L400.7 1301.9L401.7 1300.6L402.7 1299.3L403.8 1297.9L404.9 1296.5L405.9 1295.1L407.0 1293.7L408.1 1292.2L409.2 1290.7L410.3 1289.3L411.4 1287.8L412.5 1286.4L413.6 1284.9L414.6 1283.5L415.6 1282.1L416.6 1280.7L417.5 1279.4L418.4 1278.1L419.3 1276.9L420.1 1275.7L420.9 1274.5L421.6 1273.4L422.7 1271.8L423.7 1270.3L424.5 1268.8L425.4 1267.5L426.1 1266.1L426.9 1264.8L427.6 1263.4L428.3 1262.1L429.1 1260.6L429.9 1259.1L430.6 1257.7L431.2 1256.4L431.9 1254.9L432.6 1253.5L433.3 1252.0L433.9 1250.5L434.6 1249.0L435.3 1247.5L435.9 1246.0L436.6 1244.5L437.2 1242.9L437.9 1241.4L438.5 1239.9L438.8 1239.2" fill="none" stroke="#00B0F0" stroke-width="5.5" stroke-linecap="round" stroke-linejoin="round" stroke-dasharray="16.36 21.82 0 21.82" stroke-dashoffset="38.18" pathLength="120.00"/>
<path d="M438.8 1239.2L439.4 1237.6L440.0 1236.1L440.6 1234.5L441.2 1232.9L441.8 1231.3L442.4 1229.7L443.0 1228.1L443.6 1226.5L444.2 1225.0L444.7 1223.4L445.3 1221.9L445.8 1220.4L446.3 1218.9L446.9 1217.4L447.4 1215.8L448.0 1214.3L448.5 1212.8L449.0 1211.4L449.5 1209.9L450.0 1208.5L450.5 1207.0L451.1 1205.5L451.6 1203.9L452.1 1202.4L452.7 1200.9L453.2 1199.4L453.7 1197.9L454.3 1196.3L454.8 1194.7L455.4 1193.1L455.9 1191.5L456.5 1189.9L457.0 1188.3L457.6 1186.7L458.2 1185.2L458.7 1183.6L459.3 1182.0" fill="none" stroke="#00B0F0" stroke-width="5.5" stroke-linecap="round" stroke-linejoin="round" stroke-dasharray="16.36 21.82 0 21.82" stroke-dashoffset="38.18" pathLength="60.00"/>
<path d="M459.3 1182.0L459.9 1180.4L460.4 1178.9L461.0 1177.3L461.6 1175.7L462.2 1174.1L462.8 1172.6L463.4 1171.0L463.9 1169.4L464.5 1167.9L465.1 1166.3L465.7 1164.8L466.3 1163.3L466.9 1161.8L467.4 1160.3L468.0 1158.8L468.6 1157.3L469.1 1155.8L469.7 1154.4L470.3 1152.9L470.9 1151.4L471.5 1150.0L472.2 1148.5L472.8 1147.0L473.5 1145.5L474.2 1144.0L475.0 1142.5L475.7 1140.9L476.4 1139.4L477.2 1137.8L478.0 1136.2L478.8 1134.6L479.7 1133.1L480.5 1131.7L481.4 1130.4L482.2 1129.1L483.1 1128.0" fill="none" stroke="#00B0F0" stroke-width="5.5" stroke-linecap="round" stroke-linejoin="round" stroke-dasharray="16.36 21.82 0 21.82" stroke-dashoffset="38.18" pathLength="60.00"/>
<path d="M483.1 1128.0L484.0 1127.0L485.3 1125.8L486.7 1124.8L488.1 1123.9L489.6 1123.1L491.0 1122.5L492.4 1122.1L493.8 1121.8L495.4 1121.7L496.9 1121.8L498.4 1122.1L500.1 1122.7L501.2 1123.3L502.4 1124.0L503.7 1124.9L504.9 1125.9L506.2 1127.0L507.5 1128.1L508.9 1129.4L510.2 1130.6L511.5 1131.9L512.8 1133.1L514.0 1134.3L515.1 1135.5L516.2 1136.7L517.3 1138.0L518.4 1139.3L519.5 1140.6L520.5 1142.0L521.6 1143.3L522.7 1144.6L523.7 1145.9L524.8 1147.1L525.9 1148.3L527.0 1149.3L528.1 1150.3" fill="none" stroke="#00B0F0" stroke-width="5.5" stroke-linecap="round" stroke-linejoin="round" stroke-dasharray="16.36 21.82 0 21.82" stroke-dashoffset="38.18" pathLength="60.00"/>
<path d="M528.1 1150.3L529.5 1151.4L531.0 1152.4L532.4 1153.3L533.9 1154.1L535.4 1154.9L536.8 1155.5L538.2 1156.1L539.6 1156.6L541.2 1157.1L542.8 1157.5L544.3 1157.8L545.8 1157.9L547.4 1157.9L548.9 1157.8L550.4 1157.4L552.0 1156.9L553.6 1156.3L555.2 1155.7L556.7 1154.9L558.0 1154.2L559.2 1153.5L560.6 1152.6L561.6 1151.6L562.8 1150.5L563.8 1149.3L564.6 1148.3L565.4 1147.2L566.3 1146.0L567.3 1144.7L568.2 1143.3L569.2 1141.8L570.2 1140.3L571.2 1138.8L572.3 1137.3L573.3 1135.9L574.3 1134.4L575.4 1133.1" fill="none" stroke="#00B0F0" stroke-width="5.5" stroke-linecap="round" stroke-linejoin="round" stroke-dasharray="16.36 21.82 0 21.82" stroke-dashoffset="38.18" pathLength="60.00"/>
<path d="M575.4 1133.1L576.4 1131.8L577.4 1130.4L578.4 1129.0L579.5 1127.6L580.5 1126.1L581.6 1124.7L582.7 1123.3L583.7 1121.9L584.8 1120.7L585.9 1119.5L586.9 1118.4L588.0 1117.4L589.0 1116.5L590.3 1115.7L591.9 1114.9L593.4 1114.3L595.0 1114.0L596.5 1113.7L598.0 1113.7L599.5 1113.8L601.0 1114.0L602.4 1114.5L603.9 1115.1L605.5 1115.9L606.5 1116.6L607.6 1117.4L608.8 1118.4L609.9 1119.5L611.1 1120.6L612.4 1121.8L613.6 1123.1L614.8 1124.4L616.1 1125.7L617.3 1127.0L618.5 1128.2L619.8 1129.5L621.0 1130.6" fill="none" stroke="#00B0F0" stroke-width="5.5" stroke-linecap="round" stroke-linejoin="round" stroke-dasharray="16.36 21.82 0 21.82" stroke-dashoffset="38.18" pathLength="60.00"/>
<path d="M621.0 1130.6L622.2 1131.7L623.4 1132.9L624.6 1134.0L625.8 1135.1L627.0 1136.3L628.3 1137.4L629.5 1138.5L630.7 1139.6L631.9 1140.7L633.1 1141.8L634.4 1142.8L635.6 1143.8L636.9 1144.9L638.2 1145.8L639.5 1146.8L640.7 1147.7L642.0 1148.7L643.3 1149.6L644.6 1150.5L645.9 1151.3L647.3 1152.2L648.6 1153.1L650.0 1153.9L651.4 1154.8L652.8 1155.7L654.2 1156.5L655.6 1157.4L657.0 1158.3L658.4 1159.1L659.9 1160.0L661.4 1160.8L662.9 1161.6L664.4 1162.4L665.9 1163.1L667.4 1163.8L668.9 1164.5L669.7 1164.8" fill="none" stroke="#00B0F0" stroke-width="5.5" stroke-linecap="round" stroke-linejoin="round" stroke-dasharray="16.36 21.82 0 21.82" stroke-dashoffset="38.18" pathLength="60.00"/>
<path d="M669.7 1164.8L671.2 1165.3L672.8 1165.8L674.4 1166.3L676.0 1166.8L677.6 1167.2L679.3 1167.6L680.9 1167.9L682.6 1168.2L684.2 1168.5L685.8 1168.7L687.4 1168.9L689.0 1169.1L690.7 1169.2L692.3 1169.3L694.0 1169.3L695.7 1169.3L697.3 1169.2L698.9 1169.2L700.6 1169.0L702.2 1168.9L703.9 1168.7L705.5 1168.4L707.2 1168.2L708.8 1167.9L710.4 1167.6L712.0 1167.3L713.6 1167.0L715.2 1166.6L716.8 1166.2L718.4 1165.8L720.0 1165.4L721.6 1164.9L723.2 1164.4L724.8 1163.9L726.3 1163.4L727.9 1162.9" fill="none" stroke="#00B0F0" stroke-width="5.5" stroke-linecap="round" stroke-linejoin="round" stroke-dasharray="16.36 21.82 0 21.82" stroke-dashoffset="38.18" pathLength="60.00"/>
<path d="M727.9 1162.9L729.5 1162.4L731.0 1161.9L732.5 1161.3L734.0 1160.7L735.6 1160.1L737.1 1159.5L738.6 1158.9L740.1 1158.2L741.6 1157.6L743.1 1157.0L744.6 1156.3L746.0 1155.7L747.5 1155.0L749.0 1154.3L750.5 1153.6L752.0 1152.9L753.5 1152.2L755.0 1151.5L756.5 1150.8L757.9 1150.0L759.4 1149.3L760.9 1148.6L762.4 1147.8L763.9 1147.0L765.3 1146.3L766.7 1145.5L768.1 1144.8L769.6 1144.0L771.0 1143.3L772.5 1142.5L773.9 1141.7L775.4 1140.9L776.8 1140.1L778.3 1139.3L779.7 1138.5L781.2 1137.7L781.9 1137.3" fill="none" stroke="#00B0F0" stroke-width="5.5" stroke-linecap="round" stroke-linejoin="round" stroke-dasharray="16.36 21.82 0 21.82" stroke-dashoffset="38.18" pathLength="60.00"/>
<path d="M781.9 1137.3L783.3 1136.6L784.7 1135.8L786.2 1135.0L787.6 1134.2L789.0 1133.4L790.5 1132.6L791.9 1131.8L793.3 1131.0L794.8 1130.3L796.2 1129.5L797.6 1128.7L799.0 1128.0L800.4 1127.2L801.9 1126.5L803.4 1125.7L804.8 1124.9L806.3 1124.1L807.7 1123.4L809.1 1122.6L810.6 1121.9L812.1 1121.2L813.5 1120.5L815.0 1119.8L816.5 1119.1L818.1 1118.5L819.6 1117.8L821.2 1117.2L822.8 1116.6L824.4 1116.0L826.0 1115.4L827.7 1114.8L829.3 1114.3L830.9 1113.7L832.4 1113.3L833.9 1112.8L835.4 1112.4L836.7 1112.1" fill="none" stroke="#00B0F0" stroke-width="5.5" stroke-linecap="round" stroke-linejoin="round" stroke-dasharray="16.36 21.82 0 21.82" stroke-dashoffset="38.18" pathLength="60.00"/>
<path d="M836.7 1112.1L838.5 1111.7L840.1 1111.4L841.7 1111.1L843.2 1110.9L844.7 1110.8L846.3 1110.7L847.9 1110.6L849.4 1110.6L851.0 1110.6L852.6 1110.6L854.2 1110.8L855.9 1111.0L857.5 1111.3L858.9 1111.6L860.4 1112.0L861.9 1112.4L863.5 1112.8L865.1 1113.3L866.7 1113.9L868.3 1114.5L870.0 1115.1L871.6 1115.7L873.2 1116.3L874.7 1117.0L876.2 1117.7L877.6 1118.4L879.1 1119.2L880.6 1120.0L882.1 1120.8L883.6 1121.6L885.1 1122.5L886.5 1123.4L887.9 1124.2L889.3 1125.0L890.6 1125.8L891.8 1126.6L893.0 1127.3" fill="none" stroke="#00B0F0" stroke-width="5.5" stroke-linecap="round" stroke-linejoin="round" stroke-dasharray="16.36 21.82 0 21.82" stroke-dashoffset="38.18" pathLength="60.00"/>
<path d="M893.0 1127.3L894.5 1128.2L895.9 1129.0L897.2 1129.8L898.5 1130.6L899.7 1131.3L901.0 1132.1L901.6 1132.5" fill="none" stroke="#00B0F0" stroke-width="5.5" stroke-linecap="round" stroke-linejoin="round" stroke-dasharray="16.36 21.82 0 21.82" stroke-dashoffset="38.18"/>
<g fill="#00B0F0"><circle cx="301.0" cy="1466.7" r="2.73"/><circle cx="327.8" cy="1415.5" r="2.73"/><circle cx="336.8" cy="1356.9" r="2.73"/><circle cx="366.5" cy="1318.6" r="2.73"/><circle cx="438.8" cy="1239.2" r="2.73"/><circle cx="459.3" cy="1182.0" r="2.73"/><circle cx="483.1" cy="1128.0" r="2.73"/><circle cx="528.1" cy="1150.3" r="2.73"/><circle cx="575.4" cy="1133.1" r="2.73"/><circle cx="621.0" cy="1130.6" r="2.73"/><circle cx="669.7" cy="1164.8" r="2.73"/><circle cx="727.9" cy="1162.9" r="2.73"/><circle cx="781.9" cy="1137.3" r="2.73"/><circle cx="836.7" cy="1112.1" r="2.73"/><circle cx="893.0" cy="1127.3" r="2.73"/></g>
<path d="M239.5 1477.9" fill="none" stroke="#FF0000" stroke-width="7.3" stroke-linecap="round" stroke-linejoin="round" stroke-dasharray="0 14.55" stroke-dashoffset="0.00"/>
<path d="M239.5 1477.9L241.1 1478.0L242.8 1478.0L244.4 1478.0L246.1 1478.0L247.7 1478.0L249.4 1478.0L251.0 1478.0L252.7 1478.0L254.3 1477.9L255.9 1477.8L257.5 1477.7L259.2 1477.6L260.8 1477.5L262.4 1477.4L264.0 1477.2L265.6 1477.1L267.2 1476.9L268.8 1476.7" fill="none" stroke="#FF0000" stroke-width="7.3" stroke-linecap="round" stroke-linejoin="round" stroke-dasharray="0 14.55" stroke-dashoffset="0.00" pathLength="29.10"/>
<path d="M268.8 1476.7L270.3 1476.5L271.9 1476.3L273.5 1476.0L275.1 1475.8L276.7 1475.5L278.2 1475.3L279.8 1475.0L281.4 1474.7L282.9 1474.4L284.5 1474.1L286.1 1473.8L287.6 1473.5L289.2 1473.2L290.8 1472.9L292.3 1472.6L293.9 1472.2L295.5 1471.9L297.0 1471.6" fill="none" stroke="#FF0000" stroke-width="7.3" stroke-linecap="round" stroke-linejoin="round" stroke-dasharray="0 14.55" stroke-dashoffset="0.00" pathLength="29.10"/>
<path d="M297.0 1471.6L298.7 1471.2L300.3 1470.9L301.9 1470.6L303.5 1470.2L305.2 1469.9L306.8 1469.5L308.5 1469.2L310.1 1468.8L311.7 1468.5L313.3 1468.2L314.9 1467.8L316.5 1467.5L318.1 1467.2L319.6 1466.9L321.2 1466.6L322.8 1466.2L324.3 1465.8L325.9 1465.4" fill="none" stroke="#FF0000" stroke-width="7.3" stroke-linecap="round" stroke-linejoin="round" stroke-dasharray="0 14.55" stroke-dashoffset="0.00" pathLength="29.10"/>
<path d="M325.9 1465.4L327.4 1465.0L328.9 1464.5L330.5 1464.0L332.0 1463.5L333.5 1463.0L335.0 1462.4L336.5 1461.8L337.9 1461.2L339.3 1460.4L340.7 1459.6L342.0 1458.8L343.3 1457.9L344.6 1457.0L345.9 1456.0L347.1 1455.0L348.3 1454.0L349.5 1452.9L350.7 1451.8" fill="none" stroke="#FF0000" stroke-width="7.3" stroke-linecap="round" stroke-linejoin="round" stroke-dasharray="0 14.55" stroke-dashoffset="0.00" pathLength="29.10"/>
<path d="M350.7 1451.8L351.8 1450.7L352.9 1449.6L354.0 1448.3L355.0 1447.1L356.0 1445.9L357.0 1444.6L358.0 1443.3L358.9 1442.0L359.9 1440.7L360.8 1439.3L361.6 1438.0L362.5 1436.6L363.3 1435.2L364.1 1433.8L364.9 1432.4L365.7 1431.0L366.4 1429.6L367.1 1428.2" fill="none" stroke="#FF0000" stroke-width="7.3" stroke-linecap="round" stroke-linejoin="round" stroke-dasharray="0 14.55" stroke-dashoffset="0.00" pathLength="29.10"/>
<path d="M367.1 1428.2L367.8 1426.7L368.5 1425.3L369.2 1423.8L369.8 1422.3L370.5 1420.8L371.1 1419.3L371.6 1417.8L372.2 1416.3L372.8 1414.8L373.3 1413.3L373.8 1411.7L374.3 1410.2L374.8 1408.7L375.2 1407.2L375.7 1405.7L376.1 1404.1L376.5 1402.6L377.0 1401.1" fill="none" stroke="#FF0000" stroke-width="7.3" stroke-linecap="round" stroke-linejoin="round" stroke-dasharray="0 14.55" stroke-dashoffset="0.00" pathLength="29.10"/>
<path d="M377.0 1401.1L377.4 1399.5L377.7 1398.0L378.1 1396.4L378.5 1394.8L378.8 1393.3L379.2 1391.7L379.5 1390.1L379.8 1388.5L380.2 1386.9L380.5 1385.3L380.8 1383.7L381.1 1382.1L381.4 1380.5L381.7 1378.9L382.0 1377.3L382.2 1375.6L382.5 1374.0L382.8 1372.4" fill="none" stroke="#FF0000" stroke-width="7.3" stroke-linecap="round" stroke-linejoin="round" stroke-dasharray="0 14.55" stroke-dashoffset="0.00" pathLength="29.10"/>
<path d="M382.8 1372.4L383.1 1370.8L383.3 1369.1L383.6 1367.5L383.8 1365.8L384.1 1364.2L384.3 1362.5L384.6 1360.9L384.8 1359.2L385.1 1357.6L385.4 1356.0L385.6 1354.3L385.9 1352.7L386.1 1351.1L386.4 1349.5L386.6 1347.9L386.9 1346.3L387.2 1344.6L387.4 1343.0" fill="none" stroke="#FF0000" stroke-width="7.3" stroke-linecap="round" stroke-linejoin="round" stroke-dasharray="0 14.55" stroke-dashoffset="0.00" pathLength="29.10"/>
<path d="M387.4 1343.0L387.7 1341.4L388.0 1339.8L388.3 1338.3L388.6 1336.7L388.8 1335.1L389.1 1333.5L389.5 1331.9L389.8 1330.4L390.1 1328.8L390.5 1327.2L390.8 1325.6L391.2 1324.1L391.5 1322.5L391.9 1320.9L392.3 1319.4L392.7 1317.8L393.1 1316.3L393.6 1314.7" fill="none" stroke="#FF0000" stroke-width="7.3" stroke-linecap="round" stroke-linejoin="round" stroke-dasharray="0 14.55" stroke-dashoffset="0.00" pathLength="29.10"/>
<path d="M393.6 1314.7L394.1 1313.1L394.6 1311.5L395.1 1309.9L395.6 1308.3L396.1 1306.7L396.7 1305.1L397.3 1303.6L398.0 1302.1L398.8 1300.7L399.6 1299.3L400.5 1297.9L401.4 1296.5L402.4 1295.2L403.4 1293.9L404.6 1292.8L405.8 1292.0L407.0 1291.3" fill="none" stroke="#FF0000" stroke-width="7.3" stroke-linecap="round" stroke-linejoin="round" stroke-dasharray="0 14.55" stroke-dashoffset="0.00" pathLength="29.10"/>
<path d="M407.0 1291.3L408.4 1291.0L410.0 1291.1L411.6 1291.4L413.4 1291.9L415.1 1292.4L416.8 1292.8L418.5 1293.0L420.0 1293.0" fill="none" stroke="#FF0000" stroke-width="7.3" stroke-linecap="round" stroke-linejoin="round" stroke-dasharray="0 14.55" stroke-dashoffset="0.00" pathLength="14.55"/>
<path d="M420.0 1293.0L421.5 1292.5L422.8 1291.8L424.1 1290.9L425.4 1289.9L426.6 1288.7L427.7 1287.4L428.8 1286.1L429.8 1284.8L430.3 1284.2" fill="none" stroke="#FF0000" stroke-width="7.3" stroke-linecap="round" stroke-linejoin="round" stroke-dasharray="0 14.55" stroke-dashoffset="0.00" pathLength="14.55"/>
<path d="M430.3 1284.2L431.2 1282.9L432.1 1281.6L432.8 1280.2L433.6 1278.8L434.3 1277.4L434.9 1275.9L435.6 1274.4L436.2 1273.0L436.9 1271.5" fill="none" stroke="#FF0000" stroke-width="7.3" stroke-linecap="round" stroke-linejoin="round" stroke-dasharray="0 14.55" stroke-dashoffset="0.00" pathLength="14.55"/>
<path d="M436.9 1271.5L437.5 1270.0L438.2 1268.5L438.8 1267.0L439.4 1265.4L440.0 1263.9L440.6 1262.4L441.1 1260.8L441.7 1259.2L442.2 1257.7L442.8 1256.1L443.3 1254.6L443.8 1253.0L444.3 1251.4L444.8 1249.8L445.3 1248.3L445.7 1246.7L446.2 1245.1L446.6 1243.5" fill="none" stroke="#FF0000" stroke-width="7.3" stroke-linecap="round" stroke-linejoin="round" stroke-dasharray="0 14.55" stroke-dashoffset="0.00" pathLength="29.10"/>
<path d="M446.6 1243.5L447.1 1241.9L447.5 1240.4L448.0 1238.8L448.4 1237.2L448.8 1235.6L449.3 1234.1L449.7 1232.5L450.1 1230.9L450.5 1229.3L451.0 1227.8L451.4 1226.2L451.8 1224.6L452.3 1223.0L452.7 1221.4L453.1 1219.8L453.5 1218.3L454.0 1216.7L454.4 1215.1" fill="none" stroke="#FF0000" stroke-width="7.3" stroke-linecap="round" stroke-linejoin="round" stroke-dasharray="0 14.55" stroke-dashoffset="0.00" pathLength="29.10"/>
<path d="M454.4 1215.1L454.8 1213.6L455.2 1212.0L455.6 1210.5L456.0 1209.0L456.5 1207.4L456.9 1205.9L457.3 1204.4L457.7 1202.8L458.1 1201.3L458.5 1199.8L458.9 1198.3L459.3 1196.7L459.7 1195.2L460.1 1193.7L460.5 1192.2L460.9 1190.6L461.3 1189.1L461.7 1187.5" fill="none" stroke="#FF0000" stroke-width="7.3" stroke-linecap="round" stroke-linejoin="round" stroke-dasharray="0 14.55" stroke-dashoffset="0.00" pathLength="29.10"/>
<path d="M461.7 1187.5L462.1 1185.9L462.5 1184.3L462.9 1182.7L463.3 1181.1L463.7 1179.5L464.1 1177.9L464.5 1176.3L464.9 1174.7L465.3 1173.1L465.7 1171.5L466.1 1169.9L466.5 1168.2L466.8 1166.6L467.2 1165.0L467.6 1163.4L468.0 1161.8L468.4 1160.2L468.8 1158.6" fill="none" stroke="#FF0000" stroke-width="7.3" stroke-linecap="round" stroke-linejoin="round" stroke-dasharray="0 14.55" stroke-dashoffset="0.00" pathLength="29.10"/>
<path d="M468.8 1158.6L469.2 1157.0L469.6 1155.5L470.1 1153.9L470.5 1152.3L470.9 1150.8L471.4 1149.2L471.8 1147.7L472.3 1146.1L472.8 1144.6L473.4 1143.1L473.9 1141.6L474.5 1140.1L475.0 1138.6L475.6 1137.1L476.2 1135.6L476.9 1134.1L477.6 1132.7L478.3 1131.2" fill="none" stroke="#FF0000" stroke-width="7.3" stroke-linecap="round" stroke-linejoin="round" stroke-dasharray="0 14.55" stroke-dashoffset="0.00" pathLength="29.10"/>
<path d="M478.3 1131.2L479.0 1129.8L479.8 1128.4L480.6 1127.0L481.4 1125.6L482.2 1124.3L483.1 1123.0L484.0 1121.6L484.9 1120.3L485.9 1119.1L486.9 1117.8L487.9 1116.6L489.0 1115.4L490.1 1114.2L491.3 1113.0L492.4 1111.9L493.6 1110.7L494.8 1109.6L495.9 1108.4" fill="none" stroke="#FF0000" stroke-width="7.3" stroke-linecap="round" stroke-linejoin="round" stroke-dasharray="0 14.55" stroke-dashoffset="0.00" pathLength="29.10"/>
<path d="M495.9 1108.4L497.1 1107.3L498.2 1106.2L499.4 1105.0L500.7 1103.9L501.9 1102.8L503.1 1101.7L504.2 1100.6L505.4 1099.4L506.5 1098.2L507.6 1097.0L508.7 1095.7L509.8 1094.5L510.8 1093.2L511.8 1091.9L512.8 1090.6L513.8 1089.2L514.8 1087.9L515.7 1086.5" fill="none" stroke="#FF0000" stroke-width="7.3" stroke-linecap="round" stroke-linejoin="round" stroke-dasharray="0 14.55" stroke-dashoffset="0.00" pathLength="29.10"/>
<path d="M515.7 1086.5L516.5 1085.1L517.3 1083.7L518.0 1082.2L518.7 1080.7L519.4 1079.2L520.0 1077.7L520.7 1076.2L521.5 1074.8L522.3 1073.4L523.2 1072.1L524.1 1070.7L525.0 1069.4L526.0 1068.0L527.0 1066.7L528.0 1065.5L529.1 1064.4L530.3 1063.4L531.5 1062.6" fill="none" stroke="#FF0000" stroke-width="7.3" stroke-linecap="round" stroke-linejoin="round" stroke-dasharray="0 14.55" stroke-dashoffset="0.00" pathLength="29.10"/>
<path d="M531.5 1062.6L533.0 1062.0L534.5 1061.4L536.1 1060.9L537.7 1060.6L539.4 1060.4L541.1 1060.3L542.7 1060.4L544.3 1060.7L545.8 1061.1L547.2 1061.6L548.7 1062.4L550.1 1063.3L551.5 1064.2L552.9 1065.3L554.3 1066.3L555.7 1067.3L557.0 1068.4" fill="none" stroke="#FF0000" stroke-width="7.3" stroke-linecap="round" stroke-linejoin="round" stroke-dasharray="0 14.55" stroke-dashoffset="0.00" pathLength="29.10"/>
<path d="M557.0 1068.4L558.3 1069.4L559.6 1070.4L560.9 1071.4L562.1 1072.5L563.4 1073.7L564.6 1074.8L565.8 1075.9L567.0 1077.1L568.1 1078.2L569.2 1079.4L570.3 1080.5L571.4 1081.7L572.5 1082.8L573.5 1084.0L574.6 1085.2L575.6 1086.4L576.6 1087.7L577.6 1088.9" fill="none" stroke="#FF0000" stroke-width="7.3" stroke-linecap="round" stroke-linejoin="round" stroke-dasharray="0 14.55" stroke-dashoffset="0.00" pathLength="29.10"/>
<path d="M577.6 1088.9L578.6 1090.2L579.5 1091.5L580.4 1092.9L581.3 1094.3L582.2 1095.7L583.1 1097.0L584.0 1098.4L584.9 1099.8L585.8 1101.2L586.7 1102.5L587.7 1103.9L588.6 1105.3L589.6 1106.6L590.5 1108.0L591.5 1109.3L592.5 1110.6L593.6 1111.9L594.6 1113.1" fill="none" stroke="#FF0000" stroke-width="7.3" stroke-linecap="round" stroke-linejoin="round" stroke-dasharray="0 14.55" stroke-dashoffset="0.00" pathLength="29.10"/>
<path d="M594.6 1113.1L595.8 1114.3L596.9 1115.5L598.1 1116.6L599.4 1117.6L600.6 1118.7L601.9 1119.7L603.2 1120.7L604.5 1121.7L605.1 1122.3" fill="none" stroke="#FF0000" stroke-width="7.3" stroke-linecap="round" stroke-linejoin="round" stroke-dasharray="0 14.55" stroke-dashoffset="0.00" pathLength="14.55"/>
<path d="M605.1 1122.3L606.4 1123.2L607.7 1124.2L609.0 1125.1L610.4 1126.0L611.7 1126.9L613.1 1127.8L614.4 1128.7L615.8 1129.7L617.1 1130.6L618.4 1131.5L619.7 1132.5L621.0 1133.4L622.3 1134.4L623.6 1135.3L624.9 1136.3L626.2 1137.2L627.5 1138.1L628.9 1138.9" fill="none" stroke="#FF0000" stroke-width="7.3" stroke-linecap="round" stroke-linejoin="round" stroke-dasharray="0 14.55" stroke-dashoffset="0.00" pathLength="29.10"/>
<path d="M628.9 1138.9L630.3 1139.8L631.7 1140.6L633.1 1141.4L634.6 1142.2L636.0 1143.0L637.5 1143.7L639.0 1144.4L640.5 1145.0L642.0 1145.5L643.6 1145.9L645.1 1146.2L646.7 1146.5L648.4 1146.7L650.0 1146.8L651.6 1146.8L653.3 1146.9L654.9 1146.8L656.6 1146.8" fill="none" stroke="#FF0000" stroke-width="7.3" stroke-linecap="round" stroke-linejoin="round" stroke-dasharray="0 14.55" stroke-dashoffset="0.00" pathLength="29.10"/>
<path d="M656.6 1146.8L658.2 1146.7L659.7 1146.6L661.3 1146.4L662.9 1146.2L664.5 1146.0L666.1 1145.7L667.7 1145.5L669.3 1145.3L670.9 1145.0L672.6 1144.8L674.2 1144.6L675.8 1144.4L677.5 1144.2L679.1 1144.0L680.8 1143.8L682.4 1143.6L684.1 1143.4L685.7 1143.3" fill="none" stroke="#FF0000" stroke-width="7.3" stroke-linecap="round" stroke-linejoin="round" stroke-dasharray="0 14.55" stroke-dashoffset="0.00" pathLength="29.10"/>
<path d="M685.7 1143.3L687.3 1143.1L689.0 1143.0L690.6 1142.8L692.2 1142.7L693.8 1142.6L695.5 1142.5L697.1 1142.4L698.7 1142.3L700.4 1142.2L702.0 1142.2L703.6 1142.1L705.2 1142.0L706.9 1142.0L708.5 1142.0L710.1 1141.9L711.7 1141.9L713.4 1141.9L715.0 1141.9" fill="none" stroke="#FF0000" stroke-width="7.3" stroke-linecap="round" stroke-linejoin="round" stroke-dasharray="0 14.55" stroke-dashoffset="0.00" pathLength="29.10"/>
<path d="M715.0 1141.9L716.6 1142.0L718.2 1142.0L719.8 1142.0L721.4 1142.1L723.1 1142.1L724.7 1142.2L726.3 1142.3L727.9 1142.4L729.5 1142.5L731.1 1142.6L732.8 1142.7L734.4 1142.9L736.1 1143.0L737.7 1143.2L739.3 1143.4L741.0 1143.5L742.6 1143.7L744.2 1144.0" fill="none" stroke="#FF0000" stroke-width="7.3" stroke-linecap="round" stroke-linejoin="round" stroke-dasharray="0 14.55" stroke-dashoffset="0.00" pathLength="29.10"/>
<path d="M744.2 1144.0L745.8 1144.2L747.4 1144.4L749.0 1144.7L750.6 1144.9L752.2 1145.2L753.8 1145.5L755.4 1145.8L756.9 1146.1L758.5 1146.4L760.1 1146.7L761.6 1147.1L763.2 1147.4L764.7 1147.8L766.2 1148.2L767.8 1148.6L769.3 1149.0L770.9 1149.4L772.4 1149.8" fill="none" stroke="#FF0000" stroke-width="7.3" stroke-linecap="round" stroke-linejoin="round" stroke-dasharray="0 14.55" stroke-dashoffset="0.00" pathLength="29.10"/>
<path d="M772.4 1149.8L773.9 1150.3L775.5 1150.8L777.1 1151.3L778.6 1151.8L780.2 1152.3L781.7 1152.8L783.3 1153.4L784.8 1154.0L786.4 1154.5L787.9 1155.1L789.4 1155.7L790.9 1156.3L792.4 1156.9L793.8 1157.6L795.3 1158.2L796.8 1158.8L798.3 1159.5L799.8 1160.1" fill="none" stroke="#FF0000" stroke-width="7.3" stroke-linecap="round" stroke-linejoin="round" stroke-dasharray="0 14.55" stroke-dashoffset="0.00" pathLength="29.10"/>
<path d="M799.8 1160.1L801.2 1160.8L802.7 1161.4L804.2 1162.1L805.7 1162.8L807.2 1163.5L808.6 1164.1L810.1 1164.8L811.6 1165.4L813.1 1166.1L814.6 1166.7L816.1 1167.4L817.6 1168.0L819.1 1168.6L820.6 1169.2L822.1 1169.8L823.6 1170.4L825.2 1171.0L826.7 1171.5" fill="none" stroke="#FF0000" stroke-width="7.3" stroke-linecap="round" stroke-linejoin="round" stroke-dasharray="0 14.55" stroke-dashoffset="0.00" pathLength="29.10"/>
<path d="M826.7 1171.5L828.2 1172.0L829.8 1172.5L831.3 1173.0L832.9 1173.5L834.5 1173.9L836.0 1174.4L837.6 1174.8L839.2 1175.2L840.8 1175.5L842.4 1175.8L844.0 1176.1L845.6 1176.3L847.2 1176.6L848.8 1176.8L850.4 1177.0L852.0 1177.1L853.7 1177.3L855.3 1177.4" fill="none" stroke="#FF0000" stroke-width="7.3" stroke-linecap="round" stroke-linejoin="round" stroke-dasharray="0 14.55" stroke-dashoffset="0.00" pathLength="29.10"/>
<path d="M855.3 1177.4L856.9 1177.5L858.6 1177.5L860.2 1177.6L861.9 1177.6L863.5 1177.6L865.1 1177.6L866.8 1177.6L868.4 1177.5L870.1 1177.5L871.7 1177.4L873.3 1177.3L875.0 1177.2L876.6 1177.1L878.2 1176.9L879.9 1176.8L881.5 1176.6L883.1 1176.5L884.7 1176.3" fill="none" stroke="#FF0000" stroke-width="7.3" stroke-linecap="round" stroke-linejoin="round" stroke-dasharray="0 14.55" stroke-dashoffset="0.00" pathLength="29.10"/>
<path d="M884.7 1176.3L886.3 1176.1L887.9 1175.8L889.5 1175.6L891.0 1175.4L892.6 1175.1L894.2 1174.8L895.7 1174.6L897.3 1174.3L898.9 1174.1" fill="none" stroke="#FF0000" stroke-width="7.3" stroke-linecap="round" stroke-linejoin="round" stroke-dasharray="0 14.55" stroke-dashoffset="0.00"/>
<g fill="#FF0000"><circle cx="239.5" cy="1477.9" r="3.63"/><circle cx="268.8" cy="1476.7" r="3.63"/><circle cx="297.0" cy="1471.6" r="3.63"/><circle cx="325.9" cy="1465.4" r="3.63"/><circle cx="350.7" cy="1451.8" r="3.63"/><circle cx="367.1" cy="1428.2" r="3.63"/><circle cx="377.0" cy="1401.1" r="3.63"/><circle cx="382.8" cy="1372.4" r="3.63"/><circle cx="387.4" cy="1343.0" r="3.63"/><circle cx="393.6" cy="1314.7" r="3.63"/><circle cx="407.0" cy="1291.3" r="3.63"/><circle cx="420.0" cy="1293.0" r="3.63"/><circle cx="430.3" cy="1284.2" r="3.63"/><circle cx="436.9" cy="1271.5" r="3.63"/><circle cx="446.6" cy="1243.5" r="3.63"/><circle cx="454.4" cy="1215.1" r="3.63"/><circle cx="461.7" cy="1187.5" r="3.63"/><circle cx="468.8" cy="1158.6" r="3.63"/><circle cx="478.3" cy="1131.2" r="3.63"/><circle cx="495.9" cy="1108.4" r="3.63"/><circle cx="515.7" cy="1086.5" r="3.63"/><circle cx="531.5" cy="1062.6" r="3.63"/><circle cx="557.0" cy="1068.4" r="3.63"/><circle cx="577.6" cy="1088.9" r="3.63"/><circle cx="594.6" cy="1113.1" r="3.63"/><circle cx="605.1" cy="1122.3" r="3.63"/><circle cx="628.9" cy="1138.9" r="3.63"/><circle cx="656.6" cy="1146.8" r="3.63"/><circle cx="685.7" cy="1143.3" r="3.63"/><circle cx="715.0" cy="1141.9" r="3.63"/><circle cx="744.2" cy="1144.0" r="3.63"/><circle cx="772.4" cy="1149.8" r="3.63"/><circle cx="799.8" cy="1160.1" r="3.63"/><circle cx="826.7" cy="1171.5" r="3.63"/><circle cx="855.3" cy="1177.4" r="3.63"/><circle cx="884.7" cy="1176.3" r="3.63"/></g>
</g>
<line x1="220.25" y1="910.00" x2="233.75" y2="910.00" stroke="#000" stroke-width="2.10" />
<text x="196.00" y="924.00" font-size="43.50" text-anchor="end" >1.60</text>
<line x1="220.25" y1="981.50" x2="233.75" y2="981.50" stroke="#000" stroke-width="2.10" />
<text x="196.00" y="995.50" font-size="43.50" text-anchor="end" >1.40</text>
<line x1="220.25" y1="1053.00" x2="233.75" y2="1053.00" stroke="#000" stroke-width="2.10" />
<text x="196.00" y="1067.00" font-size="43.50" text-anchor="end" >1.20</text>
<line x1="220.25" y1="1124.50" x2="233.75" y2="1124.50" stroke="#000" stroke-width="2.10" />
<text x="196.00" y="1138.50" font-size="43.50" text-anchor="end" >1.00</text>
<line x1="220.25" y1="1196.00" x2="233.75" y2="1196.00" stroke="#000" stroke-width="2.10" />
<text x="196.00" y="1210.00" font-size="43.50" text-anchor="end" >0.80</text>
<line x1="220.25" y1="1267.50" x2="233.75" y2="1267.50" stroke="#000" stroke-width="2.10" />
<text x="196.00" y="1281.50" font-size="43.50" text-anchor="end" >0.60</text>
<line x1="220.25" y1="1339.00" x2="233.75" y2="1339.00" stroke="#000" stroke-width="2.10" />
<text x="196.00" y="1353.00" font-size="43.50" text-anchor="end" >0.40</text>
<line x1="220.25" y1="1410.50" x2="233.75" y2="1410.50" stroke="#000" stroke-width="2.10" />
<text x="196.00" y="1424.50" font-size="43.50" text-anchor="end" >0.20</text>
<line x1="220.25" y1="1482.00" x2="233.75" y2="1482.00" stroke="#000" stroke-width="2.10" />
<text x="196.00" y="1496.00" font-size="43.50" text-anchor="end" >0.00</text>
<text x="233.75" y="1547.50" font-size="43.50" text-anchor="middle" >8970</text>
<text x="456.42" y="1547.50" font-size="43.50" text-anchor="middle" >8990</text>
<text x="679.08" y="1547.50" font-size="43.50" text-anchor="middle" >9010</text>
<text x="901.75" y="1547.50" font-size="43.50" text-anchor="middle" >9030</text>
<text x="567.60" y="1603.30" font-size="43.50" text-anchor="middle" >Energy (eV)</text>
<text transform="translate(104.50 1197.30) rotate(-90)" font-size="43.50" text-anchor="middle">Normalized Absorption</text>
<text x="-0.30" y="867.50" font-size="43.50" text-anchor="start" >b.)</text>
<path d="M722.9 1323.1H768.3" fill="none" stroke="#ED7D31" stroke-width="5.5" stroke-linecap="round"/>
<text x="773.60" y="1336.60" font-size="43.50" text-anchor="start" >0 Volt</text>
<path d="M722.9 1370.3H757.0" fill="none" stroke="#002060" stroke-width="5.5" stroke-linecap="round" stroke-dasharray="10.9 10.9"/>
<text x="771.30" y="1388.20" font-size="43.50" text-anchor="start" >CuF<tspan font-size="28.5" dy="10.7" stroke="#000" stroke-width="0.7" stroke-linejoin="round">2</tspan></text>
<path d="M722.9 1418.0H762.0" fill="none" stroke="#00B0F0" stroke-width="5.5" stroke-linecap="round" stroke-dasharray="16.36 21.82 0 21.82"/>
<text x="773.10" y="1431.50" font-size="43.50" text-anchor="start" >Cu</text>
<path d="M722.7 1465.3H767.5" fill="none" stroke="#FF0000" stroke-width="7.3" stroke-linecap="round" stroke-dasharray="0 14.55"/>
<text x="773.10" y="1479.20" font-size="43.50" text-anchor="start" >CuO</text>
<line x1="1198.75" y1="24.00" x2="1778.75" y2="24.00" stroke="#d9d9d9" stroke-width="1.70" />
<line x1="1198.75" y1="83.55" x2="1778.75" y2="83.55" stroke="#d9d9d9" stroke-width="1.70" />
<line x1="1198.75" y1="143.10" x2="1778.75" y2="143.10" stroke="#d9d9d9" stroke-width="1.70" />
<line x1="1198.75" y1="202.65" x2="1778.75" y2="202.65" stroke="#d9d9d9" stroke-width="1.70" />
<line x1="1198.75" y1="262.20" x2="1778.75" y2="262.20" stroke="#d9d9d9" stroke-width="1.70" />
<line x1="1198.75" y1="321.75" x2="1778.75" y2="321.75" stroke="#d9d9d9" stroke-width="1.70" />
<line x1="1198.75" y1="381.30" x2="1778.75" y2="381.30" stroke="#d9d9d9" stroke-width="1.70" />
<line x1="1198.75" y1="440.85" x2="1778.75" y2="440.85" stroke="#d9d9d9" stroke-width="1.70" />
<line x1="1198.75" y1="500.40" x2="1778.75" y2="500.40" stroke="#d9d9d9" stroke-width="1.70" />
<line x1="1198.75" y1="559.95" x2="1778.75" y2="559.95" stroke="#d9d9d9" stroke-width="1.70" />
<line x1="1198.75" y1="619.50" x2="1778.75" y2="619.50" stroke="#d9d9d9" stroke-width="1.70" />
<line x1="1343.75" y1="24.00" x2="1343.75" y2="619.50" stroke="#d9d9d9" stroke-width="1.70" />
<line x1="1488.75" y1="24.00" x2="1488.75" y2="619.50" stroke="#d9d9d9" stroke-width="1.70" />
<line x1="1633.75" y1="24.00" x2="1633.75" y2="619.50" stroke="#d9d9d9" stroke-width="1.70" />
<line x1="1778.75" y1="24.00" x2="1778.75" y2="619.50" stroke="#d9d9d9" stroke-width="1.70" />
<line x1="1198.75" y1="22.95" x2="1198.75" y2="620.55" stroke="#000" stroke-width="2.10" />
<line x1="1185.25" y1="440.85" x2="1779.80" y2="440.85" stroke="#000" stroke-width="2.10" />
<line x1="1198.75" y1="440.85" x2="1198.75" y2="453.35" stroke="#000" stroke-width="2.10" />
<line x1="1271.25" y1="440.85" x2="1271.25" y2="450.35" stroke="#000" stroke-width="2.10" />
<line x1="1343.75" y1="440.85" x2="1343.75" y2="453.35" stroke="#000" stroke-width="2.10" />
<line x1="1416.25" y1="440.85" x2="1416.25" y2="450.35" stroke="#000" stroke-width="2.10" />
<line x1="1488.75" y1="440.85" x2="1488.75" y2="453.35" stroke="#000" stroke-width="2.10" />
<line x1="1561.25" y1="440.85" x2="1561.25" y2="450.35" stroke="#000" stroke-width="2.10" />
<line x1="1633.75" y1="440.85" x2="1633.75" y2="453.35" stroke="#000" stroke-width="2.10" />
<line x1="1706.25" y1="440.85" x2="1706.25" y2="450.35" stroke="#000" stroke-width="2.10" />
<line x1="1778.75" y1="440.85" x2="1778.75" y2="453.35" stroke="#000" stroke-width="2.10" />
<clipPath id="cp3"><rect x="1193.75" y="4.00" width="585.80" height="700.00"/></clipPath><g clip-path="url(#cp3)">
<path d="M1198.8 440.5C1205.9 439.9 1212.7 438.9 1220.2 438.7C1228.3 438.3 1237.9 439.3 1245.8 438.9C1252.6 438.5 1259.1 437.9 1264.7 436.7C1269.3 435.8 1273.2 434.1 1277.0 433.1C1280.3 432.2 1283.0 431.2 1286.1 430.7C1289.0 430.2 1292.1 430.0 1295.0 430.0C1297.7 430.1 1300.3 430.8 1302.7 431.1C1305.0 431.5 1307.2 432.0 1309.4 432.1C1311.3 432.2 1313.2 432.3 1315.0 431.8C1317.1 431.2 1319.3 430.1 1321.3 428.4C1323.7 426.3 1325.9 423.1 1328.0 419.8C1330.4 415.8 1332.4 410.6 1334.4 405.8C1336.5 401.0 1338.3 395.5 1340.3 390.9C1342.1 386.8 1343.9 382.6 1345.9 379.7C1347.4 377.4 1349.0 374.3 1350.6 374.3C1352.3 374.3 1354.3 377.6 1355.7 380.3C1358.0 384.7 1359.2 392.8 1360.9 398.9C1362.5 404.8 1364.0 410.8 1365.8 416.2C1367.4 421.1 1368.8 427.3 1371.1 430.2C1372.6 432.0 1374.6 433.4 1376.3 433.4C1377.7 433.4 1379.1 432.2 1380.4 430.9C1382.5 429.0 1384.8 425.6 1386.5 422.1C1388.6 417.9 1390.0 411.9 1391.2 406.8C1392.4 401.8 1392.7 397.2 1393.7 392.0C1394.8 386.4 1396.2 380.0 1397.5 374.2C1398.8 368.7 1400.2 363.6 1401.5 358.2C1402.8 352.8 1404.2 347.2 1405.4 341.9C1406.5 337.0 1407.4 331.9 1408.6 327.6C1409.8 323.8 1410.9 320.4 1412.5 317.3C1413.8 314.6 1415.5 312.1 1417.2 310.1C1418.5 308.5 1419.9 307.0 1421.4 306.2C1422.7 305.5 1424.2 304.9 1425.5 305.3C1427.1 305.7 1428.8 307.5 1430.3 309.4C1432.4 312.1 1434.3 316.6 1436.0 320.2C1437.7 323.7 1438.9 327.4 1440.6 330.6C1442.0 333.4 1443.5 335.6 1445.1 338.3C1446.9 341.1 1448.8 344.3 1450.8 347.0C1452.6 349.6 1454.6 352.4 1456.7 354.1C1458.2 355.4 1460.0 356.4 1461.5 356.8C1462.5 357.0 1463.4 357.0 1464.4 356.6C1465.7 356.2 1467.3 355.3 1468.7 354.1C1470.6 352.4 1472.7 349.7 1474.5 346.9C1476.7 343.3 1478.8 338.9 1480.6 334.3C1482.5 329.2 1483.9 323.2 1485.4 317.6C1486.9 312.1 1487.9 306.3 1489.5 301.0C1491.0 295.8 1492.8 290.7 1494.7 286.1C1496.5 281.9 1498.6 277.6 1500.4 274.3C1501.8 271.8 1503.1 269.3 1504.6 268.0C1505.7 267.1 1506.9 266.4 1508.1 266.4C1509.4 266.5 1510.8 267.3 1512.0 268.4C1513.8 270.0 1515.7 273.2 1517.1 276.2C1518.7 279.8 1519.4 284.5 1520.5 288.7C1521.7 292.9 1522.6 296.7 1523.9 301.5C1525.5 307.6 1527.9 316.8 1529.4 322.5C1530.4 326.4 1530.9 328.5 1532.0 332.3C1533.3 337.4 1535.5 345.1 1537.0 350.3C1538.2 354.3 1539.1 357.4 1540.3 360.9C1541.5 364.4 1542.7 368.0 1544.0 371.5C1545.3 375.1 1546.8 378.7 1548.2 382.2C1549.7 385.6 1551.1 388.8 1552.7 392.2C1554.4 395.7 1556.3 399.3 1558.1 402.8C1559.9 406.1 1561.7 409.3 1563.6 412.6C1565.6 415.9 1567.6 419.2 1569.7 422.5C1571.8 425.8 1574.1 429.1 1576.3 432.4C1578.5 435.5 1580.5 438.3 1582.9 441.5C1585.6 445.2 1588.8 449.4 1591.8 453.0C1594.5 456.3 1597.2 459.4 1600.0 462.4C1602.7 465.3 1605.1 467.8 1608.1 470.5C1611.6 473.7 1616.4 477.7 1619.8 480.2C1622.2 482.0 1624.0 483.2 1626.2 484.7C1628.4 486.1 1630.7 487.5 1633.0 488.7C1635.3 489.9 1637.7 491.0 1640.1 491.9C1642.3 492.6 1644.5 493.2 1646.6 493.6C1648.7 493.9 1650.9 493.9 1653.0 493.8C1655.1 493.7 1657.1 493.4 1659.3 493.0C1661.5 492.5 1663.9 491.8 1666.2 491.0C1668.4 490.2 1670.7 489.3 1673.0 488.4C1675.1 487.4 1677.2 486.4 1679.4 485.4C1681.5 484.4 1683.6 483.3 1685.7 482.2C1688.0 481.1 1690.3 479.8 1692.6 478.6C1694.9 477.4 1697.1 476.2 1699.3 474.9C1701.4 473.7 1703.4 472.5 1705.5 471.1C1707.7 469.7 1709.9 468.2 1712.1 466.8C1714.4 465.2 1716.7 463.6 1719.0 462.1C1721.2 460.6 1723.4 459.1 1725.7 457.7C1727.8 456.4 1730.0 455.1 1732.3 454.0C1734.4 452.9 1736.5 451.9 1738.7 451.0C1740.8 450.2 1743.0 449.5 1745.1 448.9C1747.3 448.3 1749.5 448.0 1751.7 447.6C1753.9 447.3 1756.2 447.2 1758.4 447.0C1760.7 446.9 1762.9 446.8 1765.2 446.7C1767.4 446.7 1769.5 446.7 1771.8 446.6C1774.1 446.6 1776.5 446.6 1778.8 446.6" fill="none" stroke="#ED7D31" stroke-width="5.5" stroke-linecap="round" stroke-linejoin="round"/>
<path d="M1198.8 437.3L1200.4 437.2L1202.0 437.1L1203.5 437.0L1204.3 436.9" fill="none" stroke="#000000" stroke-width="5.5" stroke-linecap="round" stroke-linejoin="round" stroke-dasharray="10.9 10.9" stroke-dashoffset="21.70"/>
<path d="M1204.3 436.9L1205.9 436.8L1207.5 436.7L1209.1 436.6L1210.7 436.5L1212.3 436.4L1213.9 436.2L1215.4 436.1L1217.0 436.0L1218.6 435.9L1220.1 435.8L1221.8 435.7L1223.4 435.6L1225.0 435.5L1226.7 435.4L1228.2 435.3L1229.8 435.1L1231.4 435.0L1233.0 434.9L1234.6 434.8L1236.3 434.6L1237.9 434.5L1239.6 434.3L1241.3 434.2L1242.9 434.0L1244.6 433.8L1246.2 433.6L1247.8 433.4L1249.4 433.2L1251.0 433.0L1252.7 432.8L1254.3 432.5L1255.9 432.3L1257.6 432.1L1259.2 431.8L1260.8 431.5L1262.4 431.2L1264.0 430.9L1265.6 430.6L1267.1 430.3L1268.7 429.9L1270.4 429.5L1272.0 429.1L1273.6 428.7L1275.2 428.3L1276.8 427.8L1278.3 427.4L1279.8 426.9L1281.3 426.4L1282.7 425.8L1284.0 425.2L1285.6 424.5L1287.1 423.7L1288.6 422.9L1290.0 422.0L1291.3 421.1L1292.6 420.1L1293.9 419.1L1295.0 418.0L1296.1 416.8L1297.2 415.5L1298.2 414.2L1299.1 412.9L1300.1 411.5L1300.9 410.2L1301.8 408.8L1302.6 407.4L1303.3 405.9L1304.0 404.4L1304.7 403.0L1305.3 401.4L1306.0 399.9L1306.6 398.5L1307.3 397.0L1307.9 395.4L1308.4 393.9L1309.0 392.4L1309.6 390.9L1310.1 389.4L1310.6 387.8L1311.2 386.3L1311.7 384.7L1312.2 383.2L1312.6 381.7L1313.1 380.1L1313.6 378.5L1314.0 377.0L1314.4 375.5L1314.8 373.9L1315.3 372.3L1315.7 370.7L1316.1 369.1L1316.5 367.5L1316.8 365.9L1317.2 364.3L1317.5 362.7L1317.9 361.2L1318.2 359.5L1318.5 357.9L1318.8 356.3L1319.1 354.7L1319.4 353.1L1319.7 351.5L1320.0 349.8L1320.3 348.2L1320.6 346.5L1320.9 344.8L1321.1 343.2L1321.4 341.5L1321.6 339.9L1321.8 338.3L1322.1 336.7L1322.3 335.0L1322.5 333.4L1322.8 331.8L1323.0 330.2L1323.2 328.6L1323.4 327.0L1323.6 325.2L1323.8 323.8L1324.0 322.3L1324.2 320.7L1324.3 319.2L1324.5 317.6L1324.7 316.0L1324.9 314.4L1325.1 312.7L1325.3 310.9L1325.5 309.3L1325.7 307.9L1325.9 306.4L1326.0 304.8L1326.2 303.2L1326.4 301.6L1326.6 299.9L1326.8 298.2L1327.0 296.5L1327.2 294.8L1327.4 293.1L1327.6 291.5L1327.8 289.8L1328.0 288.1L1328.2 286.5L1328.4 284.9L1328.6 283.3L1328.8 281.6L1328.9 280.0L1329.1 278.3L1329.3 276.7L1329.5 275.1L1329.7 273.5L1329.9 271.9L1330.1 270.3L1330.2 268.7L1330.4 267.1L1330.6 265.5L1330.8 263.9L1331.0 262.3L1331.1 260.7L1331.3 259.0L1331.5 257.4" fill="none" stroke="#000000" stroke-width="5.5" stroke-linecap="round" stroke-linejoin="round" stroke-dasharray="10.9 10.9" stroke-dashoffset="5.45" pathLength="261.60"/>
<path d="M1331.5 257.4L1331.7 255.7L1331.9 254.0L1332.1 252.4L1332.2 250.7L1332.4 249.1L1332.6 247.4L1332.8 245.8L1333.0 244.1L1333.1 242.5L1333.3 240.8L1333.5 239.2L1333.6 237.6L1333.8 236.0L1334.0 234.4L1334.1 232.8L1334.3 231.2L1334.5 229.6L1334.6 228.0L1334.8 226.4L1334.9 224.8L1335.1 223.2L1335.3 221.6L1335.4 220.0L1335.6 218.4L1335.7 216.8L1335.9 215.2L1336.0 213.6L1336.2 212.0L1336.3 210.4L1336.5 208.8L1336.6 207.2L1336.8 205.6L1336.9 204.0L1337.0 202.4L1337.2 200.8L1337.3 199.2L1337.5 197.6L1337.6 196.0L1337.7 194.3L1337.8 193.5" fill="none" stroke="#000000" stroke-width="5.5" stroke-linecap="round" stroke-linejoin="round" stroke-dasharray="10.9 10.9" stroke-dashoffset="5.45" pathLength="65.40"/>
<path d="M1337.8 193.5L1337.9 191.8L1338.1 190.1L1338.2 188.5L1338.3 186.8L1338.5 185.2L1338.6 183.5L1338.7 181.8L1338.8 180.2L1339.0 178.6L1339.1 176.9L1339.2 175.3L1339.3 173.7L1339.4 172.0L1339.5 170.4L1339.7 168.8L1339.8 167.2L1339.9 165.6L1340.0 164.0L1340.1 162.4L1340.2 160.8L1340.3 159.2L1340.4 157.6L1340.5 156.0L1340.6 154.4L1340.7 152.7L1340.8 151.1L1340.8 149.4L1340.9 147.8L1341.0 146.1L1341.1 144.5L1341.2 142.9L1341.3 141.2L1341.4 139.6L1341.5 138.0L1341.5 136.4L1341.6 134.7L1341.7 133.1L1341.8 131.4L1341.9 129.8L1341.9 128.2" fill="none" stroke="#000000" stroke-width="5.5" stroke-linecap="round" stroke-linejoin="round" stroke-dasharray="10.9 10.9" stroke-dashoffset="5.45" pathLength="65.40"/>
<path d="M1341.9 128.2L1342.0 126.5L1342.1 124.9L1342.3 123.4L1342.4 121.8L1342.6 120.3L1342.8 118.5L1343.0 116.7L1343.2 114.9L1343.4 113.1L1343.7 111.4L1344.0 109.8L1344.5 108.4L1344.9 107.2L1345.9 105.5L1347.0 104.0L1348.1 103.2L1349.1 103.2L1350.1 104.1L1351.0 105.7L1351.9 107.5L1352.4 109.0L1352.8 110.3L1353.0 111.8L1353.2 113.3L1353.3 115.0L1353.4 116.7L1353.5 118.5L1353.5 120.3L1353.5 122.1L1353.6 123.9L1353.7 125.5L1353.8 127.2L1353.8 128.8L1353.9 130.4L1353.9 132.0" fill="none" stroke="#000000" stroke-width="5.5" stroke-linecap="round" stroke-linejoin="round" stroke-dasharray="10.9 10.9" stroke-dashoffset="5.45" pathLength="65.40"/>
<path d="M1353.9 132.0L1353.9 133.6L1354.0 135.3L1354.0 136.9L1354.0 138.5L1354.1 140.2L1354.1 141.8L1354.2 143.4L1354.2 145.0L1354.3 146.6L1354.4 148.2L1354.5 149.9L1354.5 151.5L1354.6 153.1L1354.7 154.7L1354.8 156.3L1354.8 157.9L1354.9 159.5L1355.0 161.1L1355.1 162.7L1355.2 164.3L1355.2 165.9L1355.3 167.5L1355.4 169.1L1355.5 170.7L1355.5 172.3L1355.6 173.9L1355.7 175.5L1355.8 177.1L1355.8 178.8L1355.9 180.4L1356.0 182.0L1356.1 183.6L1356.1 185.2L1356.2 186.8L1356.3 188.4L1356.4 190.0L1356.4 191.6L1356.5 193.2L1356.6 194.8L1356.7 196.4L1356.7 198.0" fill="none" stroke="#000000" stroke-width="5.5" stroke-linecap="round" stroke-linejoin="round" stroke-dasharray="10.9 10.9" stroke-dashoffset="5.45" pathLength="65.40"/>
<path d="M1356.7 198.0L1356.8 199.7L1356.9 201.3L1357.0 202.9L1357.0 204.5L1357.1 206.1L1357.2 207.7L1357.3 209.3L1357.3 210.9L1357.4 212.5L1357.5 214.1L1357.6 215.7L1357.6 217.3L1357.7 219.0L1357.8 220.6L1357.9 222.2L1357.9 223.8L1358.0 225.4L1358.1 227.0L1358.2 228.6L1358.2 230.2L1358.3 231.8L1358.4 233.5L1358.5 235.1L1358.6 236.7L1358.6 238.3L1358.7 239.9L1358.8 241.5L1358.9 243.1L1358.9 244.7L1359.0 246.3L1359.1 248.0L1359.2 249.6L1359.2 251.2L1359.3 252.8L1359.4 254.4L1359.5 256.0L1359.5 257.7L1359.6 259.3L1359.7 260.9L1359.8 262.5" fill="none" stroke="#000000" stroke-width="5.5" stroke-linecap="round" stroke-linejoin="round" stroke-dasharray="10.9 10.9" stroke-dashoffset="5.45" pathLength="65.40"/>
<path d="M1359.8 262.5L1359.8 264.1L1359.9 265.7L1360.0 267.3L1360.1 268.9L1360.1 270.5L1360.2 272.0L1360.3 273.5L1360.3 275.0L1360.4 276.5L1360.5 278.1L1360.6 279.7L1360.6 281.4L1360.7 283.1L1360.8 284.7L1360.9 286.2L1360.9 287.7L1361.0 289.3L1361.1 291.0L1361.2 292.6L1361.2 294.3L1361.3 296.1L1361.4 297.8L1361.5 299.6L1361.5 301.3L1361.6 303.1L1361.7 304.8L1361.8 306.5L1361.9 308.2L1361.9 309.9L1362.0 311.5L1362.1 313.0L1362.1 314.5L1362.2 316.1L1362.3 317.9L1362.4 319.6L1362.4 321.2L1362.5 322.8L1362.6 324.4L1362.7 325.9L1362.7 327.5L1362.8 328.3" fill="none" stroke="#000000" stroke-width="5.5" stroke-linecap="round" stroke-linejoin="round" stroke-dasharray="10.9 10.9" stroke-dashoffset="5.45" pathLength="65.40"/>
<path d="M1362.8 328.3L1362.8 329.8L1362.9 331.4L1363.0 333.0L1363.0 334.6L1363.1 336.2L1363.2 337.8L1363.3 339.5L1363.3 341.1L1363.4 342.7L1363.5 344.3L1363.5 346.0L1363.6 347.6L1363.7 349.1L1363.8 350.7L1363.8 352.3L1363.9 354.0L1364.0 355.6L1364.0 357.1L1364.1 358.7L1364.2 360.3L1364.2 361.9L1364.3 363.5L1364.4 365.1L1364.4 366.7L1364.5 368.3L1364.6 369.9L1364.7 371.6L1364.7 373.2L1364.8 374.9L1364.9 376.5L1364.9 378.2L1365.0 379.8L1365.1 381.5L1365.1 383.1L1365.2 384.7L1365.3 386.3L1365.3 387.9L1365.4 389.5L1365.5 391.1L1365.5 392.7L1365.6 393.5" fill="none" stroke="#000000" stroke-width="5.5" stroke-linecap="round" stroke-linejoin="round" stroke-dasharray="10.9 10.9" stroke-dashoffset="5.45" pathLength="65.40"/>
<path d="M1365.6 393.5L1365.6 395.1L1365.7 396.8L1365.8 398.4L1365.8 400.0L1365.9 401.6L1366.0 403.3L1366.0 404.9L1366.1 406.6L1366.2 408.2L1366.2 409.9L1366.3 411.5L1366.4 413.2L1366.4 414.9L1366.5 416.5L1366.6 418.2L1366.6 419.8L1366.7 421.5L1366.8 423.1L1366.8 424.8L1366.9 426.4L1367.0 428.0L1367.0 429.7L1367.1 431.3L1367.2 433.0L1367.2 434.6L1367.3 436.3L1367.3 437.9L1367.4 439.6L1367.5 441.2L1367.6 442.9L1367.6 444.5L1367.7 446.1L1367.8 447.8L1367.8 449.4L1367.9 451.1L1368.0 452.7L1368.0 454.4L1368.1 456.0L1368.2 457.7L1368.3 459.3" fill="none" stroke="#000000" stroke-width="5.5" stroke-linecap="round" stroke-linejoin="round" stroke-dasharray="10.9 10.9" stroke-dashoffset="5.45" pathLength="65.40"/>
<path d="M1368.3 459.3L1368.3 461.0L1368.4 462.6L1368.5 464.3L1368.6 465.9L1368.7 467.6L1368.7 469.2L1368.8 470.9L1368.9 472.5L1369.0 474.2L1369.1 475.8L1369.2 477.5L1369.3 479.1L1369.4 480.8L1369.5 482.4L1369.6 484.1L1369.7 485.7L1369.8 487.4L1369.9 489.1L1370.0 490.7L1370.1 492.4L1370.2 494.0L1370.3 495.7L1370.4 497.3L1370.6 499.0L1370.7 500.7L1370.8 502.4L1370.9 504.0L1371.1 505.7L1371.2 507.4L1371.3 509.0L1371.5 510.7L1371.6 512.3L1371.7 513.9L1371.9 515.6L1372.0 517.2L1372.2 518.9L1372.3 520.5L1372.5 522.1L1372.6 523.7L1372.8 525.3L1373.0 526.8L1373.1 528.4L1373.3 529.9L1373.4 531.4L1373.6 533.0L1373.7 534.6L1373.9 536.2L1374.1 537.7L1374.2 539.2L1374.4 540.7L1374.7 542.2L1374.9 543.9L1375.2 545.6L1375.4 547.3L1375.7 549.0L1376.0 550.7L1376.4 552.2L1376.9 553.5L1377.6 555.3L1378.5 556.9L1379.4 558.0L1380.5 558.3L1381.4 557.5L1381.8 556.6L1382.2 555.3L1382.5 553.7L1382.9 551.9L1383.2 550.1L1383.5 548.1L1383.8 546.3L1384.1 544.5L1384.4 543.0L1384.6 541.4L1384.8 539.9L1385.1 538.2L1385.3 536.6L1385.5 535.0L1385.7 533.3L1385.9 531.7L1386.2 530.0L1386.4 528.4L1386.6 526.9L1386.8 525.3L1387.0 523.6L1387.3 522.0L1387.5 520.3L1387.7 518.7L1388.0 517.1L1388.2 515.6L1388.4 514.0L1388.6 512.3L1388.8 510.7L1389.1 509.1L1389.3 507.6L1389.5 506.0L1389.7 504.4L1389.9 502.8L1390.1 501.2L1390.3 499.6L1390.5 498.0L1390.7 496.4L1390.9 494.8L1391.1 493.1L1391.3 491.5L1391.5 489.9L1391.7 488.3L1391.9 486.7L1392.0 485.1L1392.2 483.4L1392.4 481.8L1392.6 480.2L1392.8 478.7L1393.0 477.0L1393.1 475.5L1393.3 473.9L1393.5 472.3L1393.7 470.7L1393.8 469.1L1394.0 467.5L1394.2 466.0" fill="none" stroke="#000000" stroke-width="5.5" stroke-linecap="round" stroke-linejoin="round" stroke-dasharray="10.9 10.9" stroke-dashoffset="5.45" pathLength="196.20"/>
<path d="M1394.2 466.0L1394.4 464.4L1394.6 462.8L1394.8 461.2L1395.0 459.6L1395.1 458.0L1395.3 456.4L1395.5 454.8L1395.8 453.2L1396.0 451.6L1396.2 450.0L1396.4 448.4L1396.6 446.8L1396.9 445.2L1397.1 443.5L1397.4 441.9L1397.6 440.3L1397.9 438.6L1398.1 437.0L1398.4 435.4L1398.7 433.7L1399.0 432.1L1399.3 430.5L1399.6 428.9L1399.9 427.2L1400.3 425.6L1400.6 424.0L1400.8 423.1" fill="none" stroke="#000000" stroke-width="5.5" stroke-linecap="round" stroke-linejoin="round" stroke-dasharray="10.9 10.9" stroke-dashoffset="5.45" pathLength="43.60"/>
<path d="M1400.8 423.1L1401.1 421.6L1401.5 420.0L1401.8 418.5L1402.1 417.1L1402.5 415.6L1402.8 414.0L1403.2 412.6L1403.6 411.2L1403.9 409.8L1404.3 408.3L1404.8 406.8L1405.2 405.3L1405.7 403.7L1406.2 402.1L1406.7 400.5L1407.2 398.9L1407.7 397.3L1408.2 395.8L1408.8 394.3L1409.3 392.7L1409.9 391.1L1410.4 389.7L1411.0 388.2L1411.6 386.8L1412.2 385.2L1412.9 383.7L1413.6 382.3L1414.0 381.6" fill="none" stroke="#000000" stroke-width="5.5" stroke-linecap="round" stroke-linejoin="round" stroke-dasharray="10.9 10.9" stroke-dashoffset="5.45" pathLength="43.60"/>
<path d="M1414.0 381.6L1414.9 380.5L1416.0 379.5L1417.3 378.6L1418.7 378.1L1420.1 378.1L1421.6 378.4L1423.2 379.1L1424.8 379.9L1426.3 380.6L1427.8 381.3L1429.3 382.2L1430.8 383.0L1432.3 383.7L1433.7 384.2L1435.3 384.4L1436.8 384.4L1438.4 384.1L1439.6 383.5L1440.8 382.7L1442.1 381.8L1443.4 380.8L1444.7 380.0L1446.0 379.1L1447.4 378.2L1448.8 377.5L1450.2 376.9L1451.6 376.8L1453.1 377.1L1454.6 377.6L1456.1 378.3L1457.4 379.1L1458.8 380.1L1460.2 381.2L1461.6 382.2L1462.9 383.1L1464.4 383.7L1466.0 384.3L1467.6 384.7L1469.1 384.9L1470.7 384.8L1472.4 384.6L1474.0 384.1L1475.6 383.5L1476.9 382.8L1478.1 381.9L1479.3 380.9L1480.4 379.8L1481.5 378.6L1482.5 377.4L1483.4 376.2L1484.4 375.0L1485.3 373.6L1486.2 372.2L1487.1 370.8L1488.1 369.4L1489.0 368.1L1489.9 366.9L1491.0 365.8L1492.1 364.6L1493.3 363.4L1494.5 362.3L1495.7 361.4L1496.9 360.6L1498.3 359.9L1499.9 359.3L1501.5 358.9L1503.2 358.7L1504.7 358.6L1506.2 358.6L1507.7 358.8L1509.1 359.3L1510.5 359.9L1511.6 360.7L1512.7 361.6L1513.8 362.7L1514.7 364.0L1515.5 365.3L1516.2 366.6L1516.7 368.1L1517.3 369.6L1517.8 371.3L1518.3 372.9L1518.8 374.6L1519.2 376.2L1519.7 377.8L1520.1 379.4L1520.6 381.0L1521.0 382.6L1521.4 384.2L1521.8 385.8L1522.2 387.4L1522.6 388.9L1523.1 390.5L1523.6 392.1L1524.1 393.7L1524.6 395.2L1525.1 396.8L1525.7 398.3L1526.2 399.8L1526.9 401.3L1527.5 402.7L1528.1 404.1L1528.8 405.6L1529.5 407.0L1530.2 408.3L1531.0 409.7L1531.8 411.0L1532.7 412.3L1533.6 413.6L1534.5 414.9L1535.4 416.1L1536.4 417.3L1537.5 418.5L1538.6 419.6L1539.8 420.7L1541.0 421.7L1542.3 422.7L1543.6 423.6L1544.9 424.3L1546.3 425.1L1547.8 425.8L1549.3 426.5L1550.8 427.2L1552.3 427.9L1553.7 428.6L1555.0 429.3L1556.5 430.1L1558.0 430.9L1559.4 431.7L1560.7 432.6L1562.0 433.6L1563.2 434.7L1564.2 435.9L1565.3 437.2L1566.2 438.5L1567.2 440.0L1568.0 441.4L1568.9 442.8L1569.6 444.3L1570.3 445.8L1570.9 447.3L1571.5 448.8L1572.1 450.3L1572.8 451.9L1573.5 453.4L1574.1 454.9L1574.8 456.4L1575.4 457.9L1576.1 459.5L1576.8 461.0L1577.6 462.4L1578.4 463.8L1579.3 465.2L1580.3 466.5L1581.4 467.8L1582.5 469.1L1583.6 470.3L1584.8 471.4L1585.9 472.4L1587.2 473.4L1588.6 474.3L1590.0 475.2L1591.4 475.9L1592.8 476.5L1594.2 477.1L1595.6 477.5L1597.1 477.9L1598.5 478.2L1599.9 478.4L1601.3 478.5L1602.8 478.5L1604.5 478.3L1605.6 478.1L1607.0 477.7L1608.4 477.3L1609.9 476.7L1610.7 476.5" fill="none" stroke="#000000" stroke-width="5.5" stroke-linecap="round" stroke-linejoin="round" stroke-dasharray="10.9 10.9" stroke-dashoffset="5.45" pathLength="283.40"/>
<path d="M1610.7 476.5L1612.3 475.8L1613.9 475.2L1615.6 474.5L1617.3 473.7L1618.9 473.0L1620.5 472.3L1622.0 471.6L1623.4 471.0L1625.0 470.2L1626.5 469.3L1628.1 468.5L1629.6 467.6L1630.3 467.2" fill="none" stroke="#000000" stroke-width="5.5" stroke-linecap="round" stroke-linejoin="round" stroke-dasharray="10.9 10.9" stroke-dashoffset="5.45" pathLength="21.80"/>
<path d="M1630.3 467.2L1631.8 466.4L1633.2 465.5L1634.5 464.8L1635.9 464.1L1637.3 463.3L1638.7 462.7L1640.1 462.1L1641.5 461.5L1642.9 460.8L1644.3 460.1L1645.6 459.3L1647.1 458.4L1648.5 457.5L1650.0 456.5" fill="none" stroke="#000000" stroke-width="5.5" stroke-linecap="round" stroke-linejoin="round" stroke-dasharray="10.9 10.9" stroke-dashoffset="5.45" pathLength="21.80"/>
<path d="M1650.0 456.5L1651.4 455.5L1652.8 454.6L1654.1 453.7L1655.3 452.8L1656.7 451.8L1657.9 450.8L1659.1 449.8L1660.3 448.8L1661.6 447.8L1662.7 446.9L1664.0 445.9L1665.3 444.9L1666.7 443.9" fill="none" stroke="#000000" stroke-width="5.5" stroke-linecap="round" stroke-linejoin="round" stroke-dasharray="10.9 10.9" stroke-dashoffset="5.45" pathLength="21.80"/>
<path d="M1666.7 443.9L1668.0 442.8L1669.4 441.8L1670.7 440.8L1671.9 439.9L1673.1 439.2L1674.6 438.2L1675.9 437.3L1677.3 436.6L1678.7 435.8L1680.2 435.2L1681.6 434.6L1683.1 434.0L1684.7 433.5L1685.6 433.2" fill="none" stroke="#000000" stroke-width="5.5" stroke-linecap="round" stroke-linejoin="round" stroke-dasharray="10.9 10.9" stroke-dashoffset="5.45" pathLength="21.80"/>
<path d="M1685.6 433.2L1687.2 432.7L1688.9 432.2L1690.4 431.8L1691.9 431.4L1693.4 431.1L1694.9 430.8L1696.4 430.6L1697.8 430.5L1699.3 430.4L1700.9 430.3L1702.3 430.2L1703.9 430.2L1705.6 430.2L1707.3 430.3" fill="none" stroke="#000000" stroke-width="5.5" stroke-linecap="round" stroke-linejoin="round" stroke-dasharray="10.9 10.9" stroke-dashoffset="5.45" pathLength="21.80"/>
<path d="M1707.3 430.3L1709.1 430.3L1710.7 430.4L1712.3 430.4L1713.8 430.5L1715.4 430.6L1717.0 430.8L1718.4 431.0L1719.9 431.1L1721.6 431.2L1723.1 431.2L1724.6 431.3L1726.3 431.3L1728.0 431.2L1728.9 431.2" fill="none" stroke="#000000" stroke-width="5.5" stroke-linecap="round" stroke-linejoin="round" stroke-dasharray="10.9 10.9" stroke-dashoffset="5.45" pathLength="21.80"/>
<path d="M1728.9 431.2L1730.6 431.1L1732.3 431.0L1733.9 430.9L1735.4 430.6L1737.1 430.2L1738.7 429.7L1740.2 429.1L1741.7 428.5L1743.2 428.1L1744.8 427.6L1746.4 427.2L1748.0 426.9L1749.7 426.8L1751.1 426.9L1752.7 427.2L1754.2 427.6L1755.7 428.0L1757.3 428.6L1758.7 429.2L1760.0 429.9L1761.4 430.7L1762.8 431.5L1764.3 432.2L1765.8 432.8L1767.2 433.4L1768.7 433.9L1770.3 434.3L1771.9 434.8" fill="none" stroke="#000000" stroke-width="5.5" stroke-linecap="round" stroke-linejoin="round" stroke-dasharray="10.9 10.9" stroke-dashoffset="5.45" pathLength="43.60"/>
<path d="M1771.9 434.8L1773.5 435.3L1775.1 435.8L1776.7 436.2L1778.2 436.7" fill="none" stroke="#000000" stroke-width="5.5" stroke-linecap="round" stroke-linejoin="round" stroke-dasharray="10.9 10.9" stroke-dashoffset="5.45"/>
<path d="M1198.8 440.3L1200.2 440.2L1201.6 440.2L1203.2 440.2L1204.1 440.2" fill="none" stroke="#00B050" stroke-width="5.5" stroke-linecap="round" stroke-linejoin="round" stroke-dasharray="16.36 21.82 0 21.82" stroke-dashoffset="32.84"/>
<path d="M1204.1 440.2L1205.3 440.1L1206.7 440.1L1208.2 440.1L1209.8 440.1L1211.5 440.0L1213.2 440.0L1215.0 440.0L1216.9 439.9L1218.7 439.9L1220.5 439.8L1222.2 439.8L1223.9 439.8L1225.6 439.7L1227.2 439.7L1228.8 439.6L1230.4 439.6L1231.9 439.5L1233.5 439.5L1235.1 439.4L1236.6 439.4L1238.2 439.3L1239.8 439.3L1241.4 439.2L1243.1 439.2L1244.7 439.1L1246.3 439.1L1247.9 439.1L1249.5 439.1L1251.2 439.1L1252.8 439.1L1254.5 439.1L1256.1 439.1L1257.8 439.0L1259.4 439.0L1261.0 438.9L1262.7 438.7L1264.3 438.5" fill="none" stroke="#00B050" stroke-width="5.5" stroke-linecap="round" stroke-linejoin="round" stroke-dasharray="16.36 21.82 0 21.82" stroke-dashoffset="38.18" pathLength="60.00"/>
<path d="M1264.3 438.5L1265.9 438.3L1267.6 438.0L1269.2 437.7L1270.9 437.4L1272.6 437.0L1274.3 436.6L1275.9 436.2L1277.6 435.8L1279.1 435.3L1280.7 434.9L1282.1 434.5L1283.5 434.1L1284.8 433.7L1286.5 433.2L1288.1 432.5L1289.6 431.8L1291.0 431.3L1292.4 430.8L1293.8 430.7L1295.3 430.8L1296.7 431.1L1298.1 431.6L1299.6 432.2L1301.2 432.9L1302.4 433.5L1303.7 434.3L1305.0 435.2L1306.3 436.2L1307.8 437.2L1309.2 438.3L1310.7 439.3L1312.2 440.3L1313.7 441.2L1315.2 442.0L1316.8 442.6L1318.3 443.0L1319.0 443.1" fill="none" stroke="#00B050" stroke-width="5.5" stroke-linecap="round" stroke-linejoin="round" stroke-dasharray="16.36 21.82 0 21.82" stroke-dashoffset="38.18" pathLength="60.00"/>
<path d="M1319.0 443.1L1320.5 443.1L1322.0 443.0L1323.6 442.6L1325.2 442.2L1326.7 441.6L1328.3 441.0L1329.9 440.3L1331.4 439.5L1333.0 438.8L1334.6 438.0L1336.1 437.3L1337.6 436.7L1339.1 436.1L1340.6 435.4L1342.1 434.8L1343.6 434.2L1345.0 433.5L1346.5 432.8L1348.0 432.2L1349.4 431.5L1350.9 430.8L1352.3 430.0L1353.8 429.3L1355.2 428.5L1356.6 427.8L1358.0 427.1L1359.5 426.4L1360.9 425.8L1362.4 425.1L1363.8 424.3L1365.2 423.6L1366.6 422.8L1368.0 422.0L1369.4 421.1L1370.7 420.1L1372.0 419.1L1372.6 418.6" fill="none" stroke="#00B050" stroke-width="5.5" stroke-linecap="round" stroke-linejoin="round" stroke-dasharray="16.36 21.82 0 21.82" stroke-dashoffset="38.18" pathLength="60.00"/>
<path d="M1372.6 418.6L1373.8 417.5L1374.9 416.4L1376.0 415.2L1377.1 413.9L1378.2 412.5L1379.3 411.1L1380.3 409.6L1381.4 408.1L1382.4 406.6L1383.3 405.1L1384.3 403.6L1385.2 402.2L1386.0 400.7L1386.8 399.3L1387.6 398.0L1388.3 396.7L1388.9 395.6L1389.6 394.2L1390.3 392.7L1390.8 391.3L1391.2 390.0L1391.6 388.6L1392.1 387.1L1392.5 385.6L1392.9 384.3L1393.3 382.9L1393.7 381.4L1394.1 379.9L1394.5 378.3L1395.0 376.6L1395.4 375.0L1395.8 373.3L1396.2 371.6L1396.6 369.9L1397.0 368.2L1397.3 366.6L1397.7 365.0L1397.9 364.2" fill="none" stroke="#00B050" stroke-width="5.5" stroke-linecap="round" stroke-linejoin="round" stroke-dasharray="16.36 21.82 0 21.82" stroke-dashoffset="38.18" pathLength="60.00"/>
<path d="M1397.9 364.2L1398.2 362.5L1398.5 360.9L1398.9 359.3L1399.2 357.7L1399.5 356.0L1399.8 354.4L1400.1 352.8L1400.4 351.2L1400.7 349.6L1400.9 348.0L1401.2 346.4L1401.5 344.9L1401.8 343.3L1402.0 341.7L1402.3 340.0L1402.6 338.4L1402.8 336.9L1403.1 335.3L1403.3 333.7L1403.6 332.2L1403.8 330.6L1404.1 329.0L1404.4 327.3L1404.6 325.7L1404.9 324.1L1405.1 322.6L1405.4 321.0L1405.6 319.3L1405.8 317.7L1406.1 316.1L1406.3 314.4L1406.6 312.8L1406.9 311.1L1407.2 309.5L1407.5 307.9L1407.8 306.3L1408.0 305.5" fill="none" stroke="#00B050" stroke-width="5.5" stroke-linecap="round" stroke-linejoin="round" stroke-dasharray="16.36 21.82 0 21.82" stroke-dashoffset="38.18" pathLength="60.00"/>
<path d="M1408.0 305.5L1408.3 303.8L1408.6 302.2L1409.0 300.6L1409.3 299.0L1409.7 297.4L1410.1 295.8L1410.5 294.1L1410.9 292.5L1411.3 291.0L1411.7 289.4L1412.2 287.8L1412.6 286.3L1413.1 284.8L1413.7 283.2L1414.3 281.5L1414.9 279.9L1415.5 278.2L1416.2 276.6L1416.8 275.0L1417.5 273.5L1418.2 272.0L1418.8 270.6L1419.5 269.4L1420.1 268.2L1421.0 266.6L1421.8 265.1L1422.7 263.8L1423.6 262.8L1424.7 261.9L1426.2 261.6L1427.0 262.3L1427.7 263.6L1428.4 265.3L1429.1 267.3L1429.6 269.2L1430.0 270.5L1430.2 272.0L1430.4 273.5L1430.6 275.1L1430.7 276.8L1430.8 278.5L1430.9 280.2L1431.1 282.0L1431.2 283.6L1431.3 285.3L1431.5 286.9L1431.7 288.5L1431.9 290.1L1432.1 291.8L1432.2 293.4L1432.4 295.0L1432.6 296.6L1432.8 298.1L1433.0 299.6L1433.2 301.0L1433.5 302.8L1433.8 304.5L1434.1 306.1L1434.4 307.6L1434.7 309.1L1434.9 310.6L1435.3 312.2L1435.5 313.6L1435.8 315.1L1436.2 316.7L1436.5 318.3L1436.8 319.5L1437.0 320.9L1437.4 322.4L1437.7 323.9L1438.0 325.5L1438.4 327.2L1438.7 328.8L1439.1 330.6L1439.4 332.3L1439.8 334.0L1440.1 335.7L1440.4 337.3L1440.7 338.9" fill="none" stroke="#00B050" stroke-width="5.5" stroke-linecap="round" stroke-linejoin="round" stroke-dasharray="16.36 21.82 0 21.82" stroke-dashoffset="38.18" pathLength="120.00"/>
<path d="M1440.7 338.9L1441.0 340.5L1441.3 342.2L1441.6 343.8L1441.9 345.4L1442.2 347.1L1442.4 348.7L1442.7 350.3L1443.0 352.0L1443.2 353.6L1443.5 355.2L1443.8 356.7L1444.1 358.3L1444.4 359.9L1444.7 361.5L1445.1 363.2L1445.4 364.9L1445.7 366.5L1446.0 368.2L1446.4 369.8L1446.7 371.4L1447.1 372.9L1447.5 374.4L1447.9 375.8L1448.4 377.2L1449.0 378.8L1449.6 380.5L1450.3 382.0L1451.0 383.4L1451.7 384.7L1452.5 385.8L1453.6 386.9L1454.9 387.9L1456.3 388.7L1457.7 389.0L1458.8 388.8L1459.7 387.8" fill="none" stroke="#00B050" stroke-width="5.5" stroke-linecap="round" stroke-linejoin="round" stroke-dasharray="16.36 21.82 0 21.82" stroke-dashoffset="38.18" pathLength="60.00"/>
<path d="M1459.7 387.8L1460.6 386.3L1461.4 385.0L1461.9 383.9L1462.5 382.6L1463.2 381.1L1463.8 379.6L1464.5 377.9L1465.1 376.2L1465.8 374.5L1466.4 372.7L1467.0 371.0L1467.6 369.4L1468.2 367.8L1468.8 366.2L1469.3 364.7L1469.8 363.1L1470.3 361.6L1470.8 360.0L1471.3 358.5L1471.8 356.9L1472.2 355.4L1472.7 353.8L1473.2 352.1L1473.6 350.5L1474.0 349.0L1474.4 347.5L1474.8 345.9L1475.2 344.3L1475.6 342.7L1476.0 341.1L1476.4 339.5L1476.8 337.9L1477.2 336.3L1477.5 334.7L1477.9 333.1L1478.3 331.5L1478.4 330.7" fill="none" stroke="#00B050" stroke-width="5.5" stroke-linecap="round" stroke-linejoin="round" stroke-dasharray="16.36 21.82 0 21.82" stroke-dashoffset="38.18" pathLength="60.00"/>
<path d="M1478.4 330.7L1478.8 329.0L1479.1 327.4L1479.4 325.8L1479.8 324.2L1480.1 322.5L1480.4 320.9L1480.7 319.2L1481.0 317.6L1481.3 316.0L1481.6 314.4L1482.0 312.8L1482.3 311.3L1482.6 309.7L1483.0 308.0L1483.4 306.4L1483.7 304.8L1484.1 303.2L1484.4 301.6L1484.8 300.0L1485.2 298.5L1485.6 296.9L1486.1 295.3L1486.5 293.7L1487.0 292.1L1487.5 290.6L1488.0 289.1L1488.5 287.7L1489.0 286.2L1489.6 284.7L1490.2 283.1L1490.7 281.6L1491.3 280.1L1491.9 278.6L1492.5 277.1L1493.0 275.5L1493.6 274.0L1493.9 273.2" fill="none" stroke="#00B050" stroke-width="5.5" stroke-linecap="round" stroke-linejoin="round" stroke-dasharray="16.36 21.82 0 21.82" stroke-dashoffset="38.18" pathLength="60.00"/>
<path d="M1493.9 273.2L1494.4 271.7L1495.0 270.2L1495.5 268.6L1496.0 267.0L1496.6 265.5L1497.1 263.9L1497.7 262.3L1498.2 260.8L1498.8 259.2L1499.3 257.7L1499.9 256.1L1500.4 254.7L1501.0 253.2L1501.6 251.6L1502.2 249.9L1502.9 248.2L1503.5 246.4L1504.1 244.6L1504.8 242.9L1505.5 241.3L1506.1 239.8L1506.8 238.5L1507.4 237.4L1508.1 236.5L1509.5 235.1L1510.8 234.4L1511.9 234.6L1512.7 235.3L1513.5 236.6L1514.3 238.1L1515.1 239.8L1515.8 241.6L1516.4 243.1L1516.6 243.8" fill="none" stroke="#00B050" stroke-width="5.5" stroke-linecap="round" stroke-linejoin="round" stroke-dasharray="16.36 21.82 0 21.82" stroke-dashoffset="38.18" pathLength="60.00"/>
<path d="M1516.6 243.8L1517.1 245.1L1517.5 246.6L1517.9 248.2L1518.3 249.8L1518.6 251.4L1519.0 253.2L1519.3 254.9L1519.7 256.6L1520.0 258.3L1520.3 260.0L1520.6 261.7L1520.9 263.3L1521.2 264.9L1521.6 266.6L1521.9 268.2L1522.1 269.8L1522.4 271.4L1522.7 273.0L1522.9 274.6L1523.2 276.2L1523.5 277.8L1523.7 279.4L1524.0 281.0L1524.3 282.6L1524.6 284.2L1524.8 285.8L1525.1 287.4L1525.4 289.0L1525.7 290.7L1526.0 292.3L1526.3 293.9L1526.5 295.6L1526.8 297.2L1527.2 298.8L1527.5 300.5L1527.8 302.1" fill="none" stroke="#00B050" stroke-width="5.5" stroke-linecap="round" stroke-linejoin="round" stroke-dasharray="16.36 21.82 0 21.82" stroke-dashoffset="38.18" pathLength="60.00"/>
<path d="M1527.8 302.1L1528.1 303.7L1528.5 305.2L1528.8 306.8L1529.2 308.4L1529.6 310.0L1529.9 311.6L1530.3 313.2L1530.7 314.8L1531.1 316.3L1531.5 317.9L1531.8 319.5L1532.2 321.0L1532.6 322.5L1532.9 324.2L1533.3 325.8L1533.7 327.4L1534.1 329.0L1534.5 330.5L1534.9 332.1L1535.3 333.7L1535.6 335.3L1536.0 336.9L1536.4 338.5L1536.7 340.2L1537.0 341.7L1537.3 343.3L1537.7 344.9L1538.0 346.5L1538.3 348.2L1538.5 349.8L1538.8 351.4L1539.1 353.1L1539.4 354.7L1539.6 356.4L1539.9 358.0L1540.1 359.7L1540.2 360.5" fill="none" stroke="#00B050" stroke-width="5.5" stroke-linecap="round" stroke-linejoin="round" stroke-dasharray="16.36 21.82 0 21.82" stroke-dashoffset="38.18" pathLength="60.00"/>
<path d="M1540.2 360.5L1540.4 362.1L1540.6 363.7L1540.8 365.4L1540.9 367.0L1541.1 368.7L1541.2 370.3L1541.3 372.0L1541.5 373.6L1541.6 375.3L1541.8 376.9L1541.9 378.5L1542.1 380.0L1542.4 381.6L1542.7 383.2L1543.0 384.9L1543.3 386.6L1543.7 388.3L1544.1 389.9L1544.5 391.5L1544.9 393.1L1545.4 394.7L1545.8 396.1L1546.3 397.5L1546.8 398.8L1547.5 400.5L1548.3 402.0L1549.1 403.4L1549.9 404.7L1550.8 405.9L1551.7 407.1L1552.9 408.4L1554.2 409.1L1555.7 409.2L1557.2 408.7L1558.3 407.9L1558.6 407.5" fill="none" stroke="#00B050" stroke-width="5.5" stroke-linecap="round" stroke-linejoin="round" stroke-dasharray="16.36 21.82 0 21.82" stroke-dashoffset="38.18" pathLength="60.00"/>
<path d="M1558.6 407.5L1559.2 406.5L1559.8 405.3L1560.4 404.0L1561.0 402.4L1561.5 400.7L1562.1 399.0L1562.6 397.2L1563.1 395.3L1563.6 393.5L1564.1 391.7L1564.7 390.0L1565.2 388.4L1565.7 386.9L1566.2 385.3L1566.6 383.6L1567.1 382.0L1567.5 380.4L1567.9 378.8L1568.4 377.2L1568.9 375.7L1569.4 374.3L1570.0 372.9L1570.6 371.6L1571.4 370.3L1572.4 368.8L1573.6 367.4L1574.7 366.1L1575.9 364.9L1577.1 364.0L1578.1 363.4L1579.4 363.1L1580.8 363.2L1582.0 364.0" fill="none" stroke="#00B050" stroke-width="5.5" stroke-linecap="round" stroke-linejoin="round" stroke-dasharray="16.36 21.82 0 21.82" stroke-dashoffset="38.18" pathLength="60.00"/>
<path d="M1582.0 364.0L1582.9 364.9L1583.5 366.3L1584.2 367.9L1584.7 369.6L1585.3 371.3L1585.8 372.6L1586.2 374.1L1586.6 375.5L1587.1 377.1L1587.5 378.6L1587.9 380.2L1588.3 381.9L1588.7 383.5L1589.0 385.0L1589.4 386.6L1589.7 388.1L1590.1 389.7L1590.4 391.4L1590.8 393.0L1591.1 394.7L1591.4 396.4L1591.7 398.1L1592.1 399.8L1592.4 401.5L1592.6 403.0L1592.9 404.6L1593.1 406.1L1593.4 407.7L1593.6 409.3L1593.8 410.9L1594.1 412.5L1594.3 414.1L1594.5 415.7L1594.7 417.3L1594.9 418.9L1595.1 420.5L1595.3 422.1" fill="none" stroke="#00B050" stroke-width="5.5" stroke-linecap="round" stroke-linejoin="round" stroke-dasharray="16.36 21.82 0 21.82" stroke-dashoffset="38.18" pathLength="60.00"/>
<path d="M1595.3 422.1L1595.5 423.8L1595.7 425.4L1595.9 427.1L1596.1 428.7L1596.3 430.4L1596.4 432.0L1596.6 433.7L1596.8 435.3L1596.9 436.9L1597.1 438.6L1597.3 440.2L1597.4 441.8L1597.6 443.4L1597.8 445.0L1597.9 446.6L1598.1 448.2L1598.3 449.8L1598.4 451.4L1598.6 452.9L1598.7 454.5L1598.9 456.1L1599.0 457.7L1599.2 459.3L1599.4 460.9L1599.6 462.5L1599.8 464.1L1600.0 465.7L1600.1 467.4L1600.3 469.0L1600.5 470.6L1600.7 472.3L1600.9 473.9L1601.2 475.6L1601.4 477.2L1601.6 478.9L1601.8 480.5L1601.9 481.3" fill="none" stroke="#00B050" stroke-width="5.5" stroke-linecap="round" stroke-linejoin="round" stroke-dasharray="16.36 21.82 0 21.82" stroke-dashoffset="38.18" pathLength="60.00"/>
<path d="M1601.9 481.3L1602.2 483.0L1602.4 484.6L1602.7 486.2L1602.9 487.9L1603.2 489.5L1603.4 491.2L1603.7 492.8L1604.0 494.5L1604.2 496.1L1604.5 497.7L1604.8 499.3L1605.1 500.9L1605.4 502.5L1605.7 504.1L1606.0 505.8L1606.3 507.5L1606.6 509.1L1607.0 510.8L1607.3 512.4L1607.6 514.0L1608.0 515.5L1608.3 517.1L1608.7 518.6L1609.0 520.0L1609.5 521.6L1609.9 523.3L1610.4 525.0L1610.8 526.6L1611.4 528.2L1611.9 529.6L1612.6 531.0L1613.5 532.3L1614.6 533.6L1615.9 534.8L1617.2 535.8L1618.5 536.5" fill="none" stroke="#00B050" stroke-width="5.5" stroke-linecap="round" stroke-linejoin="round" stroke-dasharray="16.36 21.82 0 21.82" stroke-dashoffset="38.18" pathLength="60.00"/>
<path d="M1618.5 536.5L1620.0 537.1L1621.5 537.5L1623.0 537.5L1624.4 537.1L1625.4 536.5L1626.5 535.7L1627.7 534.6L1628.8 533.5L1630.0 532.2L1631.3 530.9L1632.5 529.6L1633.8 528.4L1635.1 527.2L1636.3 526.2L1637.6 525.3L1639.0 524.4L1640.4 523.6L1641.8 522.7L1643.2 521.9L1644.6 521.0L1646.0 520.2L1647.4 519.2L1648.7 518.2L1650.0 517.2L1651.2 516.1L1652.3 514.9L1653.4 513.7L1654.4 512.5L1655.5 511.2L1656.5 509.9L1657.5 508.5L1658.5 507.1L1659.4 505.8L1660.4 504.4L1661.3 502.9L1662.3 501.5L1663.2 500.1" fill="none" stroke="#00B050" stroke-width="5.5" stroke-linecap="round" stroke-linejoin="round" stroke-dasharray="16.36 21.82 0 21.82" stroke-dashoffset="38.18" pathLength="60.00"/>
<path d="M1663.2 500.1L1664.0 498.7L1664.9 497.2L1665.7 495.6L1666.5 494.0L1667.3 492.3L1668.1 490.6L1668.8 489.0L1669.6 487.5L1670.3 486.0L1671.1 484.6L1671.9 483.4L1672.7 482.3L1673.4 481.4L1674.8 480.2L1676.2 479.4L1677.7 478.8L1679.3 478.5L1680.6 478.6L1682.1 478.8L1683.7 479.3L1685.3 479.9L1687.0 480.5L1688.6 481.2L1690.2 481.8L1691.7 482.4L1693.3 483.2L1694.9 483.9L1696.4 484.7L1697.9 485.4L1699.4 486.0L1700.8 486.4L1702.6 486.9L1704.3 487.2L1705.9 487.3L1707.5 487.0L1708.8 486.3L1709.2 486.0" fill="none" stroke="#00B050" stroke-width="5.5" stroke-linecap="round" stroke-linejoin="round" stroke-dasharray="16.36 21.82 0 21.82" stroke-dashoffset="38.18" pathLength="60.00"/>
<path d="M1709.2 486.0L1710.1 485.1L1711.0 484.1L1711.8 482.8L1712.7 481.4L1713.5 479.9L1714.4 478.2L1715.2 476.6L1716.0 474.9L1716.8 473.2L1717.6 471.5L1718.4 469.9L1719.1 468.4L1719.9 467.0L1720.7 465.4L1721.5 463.9L1722.2 462.4L1723.0 461.0L1723.7 459.5L1724.4 458.1L1725.1 456.6L1725.9 455.2L1726.7 453.8L1727.6 452.4L1728.5 451.0L1729.4 449.6L1730.4 448.3L1731.4 446.9L1732.5 445.5L1733.6 444.1L1734.7 442.7L1735.8 441.4L1736.9 440.1L1738.1 438.9L1739.2 437.7L1740.2 436.6L1741.3 435.6" fill="none" stroke="#00B050" stroke-width="5.5" stroke-linecap="round" stroke-linejoin="round" stroke-dasharray="16.36 21.82 0 21.82" stroke-dashoffset="38.18" pathLength="60.00"/>
<path d="M1741.3 435.6L1742.6 434.5L1743.9 433.4L1745.2 432.4L1746.4 431.5L1747.7 430.7L1749.0 429.9L1750.3 429.3L1751.8 428.6L1753.2 428.0L1754.7 427.5L1756.2 427.1L1757.7 426.8L1759.2 426.7L1760.8 426.6L1762.3 426.6L1763.8 426.8L1765.4 427.0L1766.9 427.4L1768.4 427.9L1769.9 428.6L1771.3 429.3L1772.8 430.2L1774.2 431.1L1775.7 432.0L1777.1 432.9" fill="none" stroke="#00B050" stroke-width="5.5" stroke-linecap="round" stroke-linejoin="round" stroke-dasharray="16.36 21.82 0 21.82" stroke-dashoffset="38.18"/>
<g fill="#00B050"><circle cx="1204.1" cy="440.2" r="2.73"/><circle cx="1264.3" cy="438.5" r="2.73"/><circle cx="1319.0" cy="443.1" r="2.73"/><circle cx="1372.6" cy="418.6" r="2.73"/><circle cx="1397.9" cy="364.2" r="2.73"/><circle cx="1408.0" cy="305.5" r="2.73"/><circle cx="1440.7" cy="338.9" r="2.73"/><circle cx="1459.7" cy="387.8" r="2.73"/><circle cx="1478.4" cy="330.7" r="2.73"/><circle cx="1493.9" cy="273.2" r="2.73"/><circle cx="1516.6" cy="243.8" r="2.73"/><circle cx="1527.8" cy="302.1" r="2.73"/><circle cx="1540.2" cy="360.5" r="2.73"/><circle cx="1558.6" cy="407.5" r="2.73"/><circle cx="1582.0" cy="364.0" r="2.73"/><circle cx="1595.3" cy="422.1" r="2.73"/><circle cx="1601.9" cy="481.3" r="2.73"/><circle cx="1618.5" cy="536.5" r="2.73"/><circle cx="1663.2" cy="500.1" r="2.73"/><circle cx="1709.2" cy="486.0" r="2.73"/><circle cx="1741.3" cy="435.6" r="2.73"/></g>
</g>
<line x1="1185.25" y1="24.00" x2="1198.75" y2="24.00" stroke="#000" stroke-width="2.10" />
<text x="1159.60" y="38.00" font-size="43.50" text-anchor="end" >0.35</text>
<line x1="1185.25" y1="83.55" x2="1198.75" y2="83.55" stroke="#000" stroke-width="2.10" />
<text x="1159.60" y="97.55" font-size="43.50" text-anchor="end" >0.30</text>
<line x1="1185.25" y1="143.10" x2="1198.75" y2="143.10" stroke="#000" stroke-width="2.10" />
<text x="1159.60" y="157.10" font-size="43.50" text-anchor="end" >0.25</text>
<line x1="1185.25" y1="202.65" x2="1198.75" y2="202.65" stroke="#000" stroke-width="2.10" />
<text x="1159.60" y="216.65" font-size="43.50" text-anchor="end" >0.20</text>
<line x1="1185.25" y1="262.20" x2="1198.75" y2="262.20" stroke="#000" stroke-width="2.10" />
<text x="1159.60" y="276.20" font-size="43.50" text-anchor="end" >0.15</text>
<line x1="1185.25" y1="321.75" x2="1198.75" y2="321.75" stroke="#000" stroke-width="2.10" />
<text x="1159.60" y="335.75" font-size="43.50" text-anchor="end" >0.10</text>
<line x1="1185.25" y1="381.30" x2="1198.75" y2="381.30" stroke="#000" stroke-width="2.10" />
<text x="1159.60" y="395.30" font-size="43.50" text-anchor="end" >0.05</text>
<line x1="1185.25" y1="440.85" x2="1198.75" y2="440.85" stroke="#000" stroke-width="2.10" />
<text x="1159.60" y="454.85" font-size="43.50" text-anchor="end" >0.00</text>
<line x1="1185.25" y1="500.40" x2="1198.75" y2="500.40" stroke="#000" stroke-width="2.10" />
<text x="1159.60" y="514.40" font-size="43.50" text-anchor="end" >-0.05</text>
<line x1="1185.25" y1="559.95" x2="1198.75" y2="559.95" stroke="#000" stroke-width="2.10" />
<text x="1159.60" y="573.95" font-size="43.50" text-anchor="end" >-0.10</text>
<line x1="1185.25" y1="619.50" x2="1198.75" y2="619.50" stroke="#000" stroke-width="2.10" />
<text x="1159.60" y="633.50" font-size="43.50" text-anchor="end" >-0.15</text>
<path d="M1348.45 80.0V610.3" stroke="#7f7f7f" stroke-width="6.9" stroke-dasharray="21.5 7.7" stroke-dashoffset="17.0" fill="none"/>
<path d="M1428.45 80.0V610.3" stroke="#7f7f7f" stroke-width="6.9" stroke-dasharray="21.5 7.7" stroke-dashoffset="17.0" fill="none"/>
<path d="M1511.85 80.0V610.3" stroke="#7f7f7f" stroke-width="6.9" stroke-dasharray="21.5 7.7" stroke-dashoffset="17.0" fill="none"/>
<rect x="1315.7" y="5.0" width="60.0" height="75.0" fill="#fff"/>
<rect x="1390.3" y="5.0" width="59.0" height="75.0" fill="#fff"/>
<rect x="1486.9" y="5.0" width="59.5" height="75.0" fill="#fff"/>
<text x="1345.60" y="62.90" font-size="43.50" text-anchor="middle" >A</text>
<text x="1418.00" y="62.90" font-size="43.50" text-anchor="middle" >B</text>
<text x="1515.70" y="62.90" font-size="43.50" text-anchor="middle" >C</text>
<text x="1198.75" y="684.50" font-size="43.50" text-anchor="middle" >8970</text>
<text x="1343.75" y="684.50" font-size="43.50" text-anchor="middle" >8980</text>
<text x="1488.75" y="684.50" font-size="43.50" text-anchor="middle" >8990</text>
<text x="1633.75" y="684.50" font-size="43.50" text-anchor="middle" >9000</text>
<text x="1778.75" y="684.50" font-size="43.50" text-anchor="middle" >9010</text>
<text x="1489.00" y="740.00" font-size="43.50" text-anchor="middle" >Energy (eV)</text>
<text transform="translate(1055.50 322.00) rotate(-90)" font-size="43.50" text-anchor="middle">1st Derivative of Absorption</text>
<line x1="1198.75" y1="917.50" x2="1778.75" y2="917.50" stroke="#d9d9d9" stroke-width="1.70" />
<line x1="1198.75" y1="973.95" x2="1778.75" y2="973.95" stroke="#d9d9d9" stroke-width="1.70" />
<line x1="1198.75" y1="1030.40" x2="1778.75" y2="1030.40" stroke="#d9d9d9" stroke-width="1.70" />
<line x1="1198.75" y1="1086.85" x2="1778.75" y2="1086.85" stroke="#d9d9d9" stroke-width="1.70" />
<line x1="1198.75" y1="1143.30" x2="1778.75" y2="1143.30" stroke="#d9d9d9" stroke-width="1.70" />
<line x1="1198.75" y1="1199.75" x2="1778.75" y2="1199.75" stroke="#d9d9d9" stroke-width="1.70" />
<line x1="1198.75" y1="1256.20" x2="1778.75" y2="1256.20" stroke="#d9d9d9" stroke-width="1.70" />
<line x1="1198.75" y1="1312.65" x2="1778.75" y2="1312.65" stroke="#d9d9d9" stroke-width="1.70" />
<line x1="1198.75" y1="1369.10" x2="1778.75" y2="1369.10" stroke="#d9d9d9" stroke-width="1.70" />
<line x1="1198.75" y1="1425.55" x2="1778.75" y2="1425.55" stroke="#d9d9d9" stroke-width="1.70" />
<line x1="1198.75" y1="1482.00" x2="1778.75" y2="1482.00" stroke="#d9d9d9" stroke-width="1.70" />
<line x1="1343.75" y1="917.50" x2="1343.75" y2="1482.00" stroke="#d9d9d9" stroke-width="1.70" />
<line x1="1488.75" y1="917.50" x2="1488.75" y2="1482.00" stroke="#d9d9d9" stroke-width="1.70" />
<line x1="1633.75" y1="917.50" x2="1633.75" y2="1482.00" stroke="#d9d9d9" stroke-width="1.70" />
<line x1="1778.75" y1="917.50" x2="1778.75" y2="1482.00" stroke="#d9d9d9" stroke-width="1.70" />
<line x1="1198.75" y1="916.45" x2="1198.75" y2="1483.05" stroke="#000" stroke-width="2.10" />
<line x1="1185.25" y1="1312.65" x2="1779.80" y2="1312.65" stroke="#000" stroke-width="2.10" />
<line x1="1198.75" y1="1312.65" x2="1198.75" y2="1325.15" stroke="#000" stroke-width="2.10" />
<line x1="1271.25" y1="1312.65" x2="1271.25" y2="1322.15" stroke="#000" stroke-width="2.10" />
<line x1="1343.75" y1="1312.65" x2="1343.75" y2="1325.15" stroke="#000" stroke-width="2.10" />
<line x1="1416.25" y1="1312.65" x2="1416.25" y2="1322.15" stroke="#000" stroke-width="2.10" />
<line x1="1488.75" y1="1312.65" x2="1488.75" y2="1325.15" stroke="#000" stroke-width="2.10" />
<line x1="1561.25" y1="1312.65" x2="1561.25" y2="1322.15" stroke="#000" stroke-width="2.10" />
<line x1="1633.75" y1="1312.65" x2="1633.75" y2="1325.15" stroke="#000" stroke-width="2.10" />
<line x1="1706.25" y1="1312.65" x2="1706.25" y2="1322.15" stroke="#000" stroke-width="2.10" />
<line x1="1778.75" y1="1312.65" x2="1778.75" y2="1325.15" stroke="#000" stroke-width="2.10" />
<clipPath id="cp4"><rect x="1193.75" y="897.50" width="585.80" height="700.00"/></clipPath><g clip-path="url(#cp4)">
<path d="M1198.8 1312.3C1205.9 1311.7 1212.7 1310.8 1220.2 1310.6C1228.3 1310.3 1237.9 1311.2 1245.8 1310.8C1252.6 1310.4 1259.1 1309.8 1264.7 1308.7C1269.3 1307.9 1273.2 1306.3 1277.0 1305.3C1280.3 1304.4 1283.0 1303.5 1286.1 1303.0C1289.0 1302.6 1292.1 1302.3 1295.0 1302.4C1297.7 1302.5 1300.3 1303.1 1302.7 1303.4C1305.0 1303.8 1307.2 1304.3 1309.4 1304.4C1311.3 1304.5 1313.2 1304.6 1315.0 1304.1C1317.1 1303.5 1319.3 1302.4 1321.3 1300.9C1323.7 1298.9 1325.9 1295.9 1328.0 1292.7C1330.4 1288.9 1332.4 1284.0 1334.4 1279.5C1336.5 1274.8 1338.3 1269.6 1340.3 1265.3C1342.1 1261.4 1343.9 1257.4 1345.9 1254.6C1347.4 1252.5 1349.0 1249.6 1350.6 1249.6C1352.3 1249.6 1354.3 1252.6 1355.7 1255.3C1358.0 1259.4 1359.2 1267.1 1360.9 1272.9C1362.5 1278.5 1364.0 1284.1 1365.8 1289.3C1367.4 1294.0 1368.8 1299.9 1371.1 1302.5C1372.6 1304.3 1374.6 1305.6 1376.3 1305.6C1377.7 1305.6 1379.0 1304.4 1380.4 1303.2C1382.5 1301.4 1384.8 1298.2 1386.5 1294.9C1388.6 1290.9 1390.0 1285.2 1391.2 1280.3C1392.3 1275.7 1392.7 1271.2 1393.7 1266.4C1394.8 1261.0 1396.2 1255.0 1397.5 1249.5C1398.8 1244.3 1400.2 1239.4 1401.5 1234.3C1402.8 1229.2 1404.2 1223.9 1405.4 1218.9C1406.5 1214.2 1407.4 1209.4 1408.6 1205.3C1409.8 1201.7 1410.9 1198.4 1412.5 1195.6C1413.8 1193.0 1415.5 1190.6 1417.2 1188.7C1418.5 1187.2 1419.9 1185.7 1421.4 1185.0C1422.7 1184.3 1424.2 1183.8 1425.5 1184.1C1427.1 1184.5 1428.8 1186.3 1430.3 1188.1C1432.3 1190.6 1434.3 1194.9 1436.0 1198.3C1437.7 1201.6 1439.0 1205.1 1440.6 1208.1C1442.0 1210.8 1443.5 1212.9 1445.1 1215.4C1446.9 1218.1 1448.8 1221.2 1450.8 1223.7C1452.6 1226.1 1454.7 1228.8 1456.7 1230.4C1458.2 1231.6 1460.0 1232.6 1461.5 1233.0C1462.5 1233.2 1463.4 1233.1 1464.4 1232.8C1465.7 1232.4 1467.3 1231.6 1468.7 1230.4C1470.6 1228.8 1472.6 1226.3 1474.5 1223.6C1476.7 1220.2 1478.8 1216.0 1480.6 1211.6C1482.5 1206.8 1483.9 1201.1 1485.4 1195.8C1486.9 1190.6 1487.9 1185.1 1489.5 1180.1C1491.0 1175.2 1492.8 1170.3 1494.7 1165.9C1496.5 1161.9 1498.6 1157.9 1500.4 1154.8C1501.8 1152.4 1503.1 1150.1 1504.6 1148.8C1505.7 1147.9 1506.9 1147.3 1508.1 1147.3C1509.4 1147.3 1510.8 1148.1 1512.0 1149.1C1513.8 1150.7 1515.7 1153.7 1517.1 1156.6C1518.7 1160.0 1519.4 1164.4 1520.5 1168.4C1521.7 1172.4 1522.6 1176.0 1523.9 1180.6C1525.5 1186.4 1527.9 1195.0 1529.4 1200.4C1530.4 1204.1 1530.9 1206.2 1532.0 1209.8C1533.3 1214.6 1535.5 1221.9 1537.0 1226.9C1538.2 1230.6 1539.1 1233.5 1540.3 1236.8C1541.5 1240.2 1542.7 1243.6 1544.0 1246.9C1545.3 1250.3 1546.8 1253.8 1548.2 1257.1C1549.7 1260.3 1551.1 1263.4 1552.7 1266.5C1554.4 1269.8 1556.3 1273.3 1558.1 1276.5C1559.9 1279.7 1561.7 1282.8 1563.6 1285.9C1565.6 1289.0 1567.6 1292.1 1569.7 1295.2C1571.8 1298.4 1574.1 1301.5 1576.3 1304.6C1578.5 1307.6 1580.5 1310.3 1582.9 1313.3C1585.6 1316.8 1588.8 1320.8 1591.8 1324.2C1594.5 1327.3 1597.2 1330.3 1600.0 1333.1C1602.7 1335.8 1605.1 1338.2 1608.1 1340.8C1611.6 1343.8 1616.4 1347.5 1619.8 1350.0C1622.2 1351.7 1624.0 1352.8 1626.2 1354.2C1628.4 1355.5 1630.7 1356.9 1633.0 1358.0C1635.3 1359.1 1637.7 1360.2 1640.1 1361.0C1642.3 1361.7 1644.5 1362.3 1646.6 1362.6C1648.8 1362.9 1650.9 1363.0 1653.0 1362.9C1655.1 1362.8 1657.1 1362.5 1659.3 1362.0C1661.5 1361.6 1663.9 1360.9 1666.2 1360.2C1668.4 1359.5 1670.7 1358.6 1673.0 1357.7C1675.1 1356.8 1677.2 1355.9 1679.4 1354.9C1681.5 1353.9 1683.6 1352.9 1685.7 1351.9C1688.0 1350.8 1690.3 1349.6 1692.6 1348.4C1694.9 1347.3 1697.1 1346.1 1699.3 1344.9C1701.4 1343.8 1703.4 1342.6 1705.5 1341.4C1707.7 1340.0 1709.9 1338.6 1712.1 1337.2C1714.4 1335.8 1716.7 1334.2 1719.0 1332.8C1721.2 1331.4 1723.4 1329.9 1725.7 1328.7C1727.8 1327.4 1730.0 1326.2 1732.3 1325.1C1734.4 1324.0 1736.5 1323.1 1738.7 1322.3C1740.8 1321.5 1743.0 1320.8 1745.1 1320.3C1747.3 1319.8 1749.5 1319.4 1751.7 1319.1C1753.9 1318.8 1756.2 1318.6 1758.4 1318.5C1760.7 1318.3 1762.9 1318.3 1765.2 1318.2C1767.4 1318.2 1769.5 1318.2 1771.8 1318.1C1774.1 1318.1 1776.5 1318.1 1778.8 1318.1" fill="none" stroke="#ED7D31" stroke-width="5.5" stroke-linecap="round" stroke-linejoin="round"/>
<path d="M1198.8 1311.5L1200.5 1311.4L1202.1 1311.4L1203.8 1311.3L1205.5 1311.2L1207.1 1311.1L1208.8 1311.1L1210.4 1311.0L1212.1 1310.9L1213.8 1310.8L1215.4 1310.8L1217.1 1310.7L1218.8 1310.7L1220.4 1310.7L1222.1 1310.6L1223.7 1310.6L1225.4 1310.7L1227.1 1310.7L1228.8 1310.7L1230.4 1310.8L1232.1 1310.8L1233.8 1310.9L1235.4 1310.9L1237.0 1310.9L1238.7 1310.9L1240.2 1310.9L1241.8 1310.9L1243.5 1310.8L1245.2 1310.8L1246.9 1310.7L1248.6 1310.6L1250.2 1310.6L1251.9 1310.5L1253.5 1310.3L1255.1 1310.2L1256.6 1310.0L1258.2 1309.8L1259.8 1309.6L1261.5 1309.3L1263.1 1309.0L1264.7 1308.7L1266.3 1308.4L1267.8 1308.0L1269.4 1307.6L1270.9 1307.2L1272.5 1306.8L1274.2 1306.3L1275.8 1305.8L1277.4 1305.3L1279.0 1304.8L1280.5 1304.4L1282.0 1304.0L1283.5 1303.7L1285.1 1303.4L1286.7 1303.2L1288.2 1303.2L1289.6 1303.3L1291.0 1303.5L1292.4 1303.8L1293.8 1304.3L1295.1 1305.0L1296.4 1305.8L1297.6 1306.8L1298.8 1307.9L1300.0 1309.0L1301.2 1310.1L1302.4 1311.0L1303.7 1312.0L1304.9 1312.9L1306.1 1313.8L1307.3 1314.5L1307.9 1314.8" fill="none" stroke="#002060" stroke-width="5.5" stroke-linecap="round" stroke-linejoin="round" stroke-dasharray="10.9 10.9" stroke-dashoffset="0.78"/>
<path d="M1307.9 1314.8L1309.5 1315.3L1311.0 1315.6L1312.8 1315.7L1314.2 1315.6L1315.8 1315.4L1317.5 1315.1L1319.2 1314.7L1320.8 1314.3L1322.4 1313.9L1323.8 1313.4L1325.2 1312.9L1326.6 1312.4L1328.0 1311.9" fill="none" stroke="#002060" stroke-width="5.5" stroke-linecap="round" stroke-linejoin="round" stroke-dasharray="10.9 10.9" stroke-dashoffset="5.45" pathLength="21.80"/>
<path d="M1328.0 1311.9L1329.5 1311.4L1331.0 1310.8L1332.6 1310.2L1334.2 1309.6L1335.5 1309.0L1336.9 1308.5L1338.4 1308.0L1339.9 1307.4L1341.4 1306.9L1342.9 1306.3L1344.4 1305.9L1345.9 1305.4L1347.5 1304.9L1349.1 1304.4L1350.7 1304.0L1352.3 1303.5L1353.8 1303.1L1355.3 1302.7L1356.8 1302.3L1358.3 1301.9L1359.8 1301.5L1361.3 1301.0L1362.9 1300.6L1364.4 1300.1L1365.9 1299.6L1367.4 1299.1L1369.0 1298.5L1369.7 1298.2" fill="none" stroke="#002060" stroke-width="5.5" stroke-linecap="round" stroke-linejoin="round" stroke-dasharray="10.9 10.9" stroke-dashoffset="5.45" pathLength="43.60"/>
<path d="M1369.7 1298.2L1371.3 1297.7L1372.8 1297.1L1374.3 1296.5L1375.6 1295.9L1377.1 1295.2L1378.5 1294.4L1379.9 1293.7L1381.2 1292.9L1382.5 1292.0L1383.8 1291.0L1385.0 1290.0L1386.2 1289.0L1387.3 1287.9L1388.5 1286.7" fill="none" stroke="#002060" stroke-width="5.5" stroke-linecap="round" stroke-linejoin="round" stroke-dasharray="10.9 10.9" stroke-dashoffset="5.45" pathLength="21.80"/>
<path d="M1388.5 1286.7L1389.6 1285.4L1390.7 1284.1L1391.8 1282.7L1392.7 1281.5L1393.5 1280.2L1394.4 1278.9L1395.2 1277.5L1396.0 1276.0L1396.8 1274.6L1397.6 1273.1L1398.3 1271.6L1399.1 1270.1L1399.8 1268.6L1400.4 1267.2L1401.1 1265.7L1401.7 1264.1L1402.3 1262.6L1402.9 1261.0L1403.4 1259.5L1403.9 1258.0L1404.4 1256.5L1404.9 1255.0L1405.4 1253.6L1405.9 1252.0L1406.4 1250.5L1406.9 1249.1L1407.3 1247.6L1407.8 1246.2L1408.2 1244.7L1408.7 1243.1L1409.2 1241.6L1409.6 1240.0L1410.1 1238.4L1410.5 1236.8L1411.0 1235.1L1411.5 1233.5L1411.9 1231.8L1412.3 1230.3L1412.7 1228.8L1413.2 1227.2L1413.6 1225.6L1414.0 1224.0L1414.4 1222.5L1414.7 1221.1L1415.1 1219.6L1415.5 1218.0L1415.8 1216.5L1416.2 1215.0L1416.6 1213.4L1416.9 1211.9L1417.3 1210.3L1417.6 1208.8L1418.0 1207.2L1418.4 1205.6L1418.7 1204.1L1419.1 1202.5L1419.4 1200.9L1419.8 1199.2L1420.2 1197.7L1420.5 1196.1L1420.9 1194.4L1421.2 1192.8L1421.6 1191.2L1421.9 1189.5L1422.3 1187.9L1422.6 1186.3L1422.9 1184.8L1423.3 1183.3L1423.6 1181.8L1423.9 1180.2L1424.3 1178.6L1424.6 1177.1L1425.0 1175.5L1425.3 1174.0L1425.6 1172.5L1426.0 1170.9L1426.3 1169.4L1426.7 1167.8L1427.0 1166.2L1427.4 1164.7L1427.8 1163.1L1428.2 1161.6L1428.5 1160.0L1428.9 1158.5L1429.3 1157.0L1429.7 1155.4L1430.2 1153.9L1430.6 1152.3L1431.1 1150.8L1431.6 1149.3L1432.1 1147.7L1432.6 1146.2L1433.2 1144.6L1433.8 1143.0L1434.3 1141.5L1434.9 1140.0L1435.5 1138.6L1436.1 1137.2L1436.8 1135.7L1437.5 1134.1L1438.3 1132.5L1439.1 1131.0L1439.9 1129.6L1440.6 1128.4L1441.4 1127.1L1442.3 1125.8L1443.3 1125.2" fill="none" stroke="#002060" stroke-width="5.5" stroke-linecap="round" stroke-linejoin="round" stroke-dasharray="10.9 10.9" stroke-dashoffset="5.45" pathLength="174.40"/>
<path d="M1443.3 1125.2L1444.7 1125.5L1446.2 1126.6L1447.2 1127.8L1447.9 1129.0L1448.5 1130.4L1449.0 1132.0L1449.5 1133.7L1450.0 1135.5L1450.5 1137.2L1451.0 1138.9L1451.5 1140.4L1452.0 1141.9L1452.4 1143.5L1452.9 1145.0L1453.3 1146.6L1453.8 1148.1L1454.2 1149.6L1454.7 1151.1L1455.2 1152.7L1455.7 1154.2L1456.3 1155.7L1456.8 1157.2L1457.3 1158.7L1457.8 1160.2L1458.3 1161.7L1458.9 1163.1L1459.4 1164.6L1459.9 1166.1L1460.4 1167.6L1460.9 1169.1L1461.3 1170.6L1461.8 1172.1L1462.3 1173.7L1462.7 1175.2L1463.1 1176.8L1463.5 1178.4L1464.0 1180.0L1464.4 1181.6L1464.7 1183.1L1465.1 1184.7L1465.4 1186.3L1465.8 1187.9L1466.2 1189.5L1466.7 1190.9L1467.4 1192.4L1468.2 1194.0L1469.0 1195.5L1470.0 1197.0L1470.9 1198.3L1471.9 1199.4L1473.1 1200.4L1474.5 1201.3L1475.9 1201.9L1477.3 1202.1" fill="none" stroke="#002060" stroke-width="5.5" stroke-linecap="round" stroke-linejoin="round" stroke-dasharray="10.9 10.9" stroke-dashoffset="5.45" pathLength="87.20"/>
<path d="M1477.3 1202.1L1478.7 1201.9L1480.1 1201.3L1481.4 1200.4L1482.2 1199.4L1483.0 1198.3L1483.8 1196.9L1484.5 1195.3L1485.2 1193.7L1486.0 1192.1L1486.7 1190.5L1487.4 1189.1L1488.1 1187.7L1488.8 1186.3L1489.5 1184.8L1490.1 1183.4L1490.8 1181.9L1491.4 1180.5L1492.1 1179.0L1492.7 1177.6L1493.4 1176.0L1494.1 1174.5L1494.7 1173.0L1495.4 1171.5L1496.0 1169.9L1496.6 1168.4L1497.1 1166.8L1497.6 1165.3L1498.1 1163.8L1498.5 1162.3L1498.9 1160.7L1499.4 1159.2L1499.8 1157.6L1500.3 1156.1L1500.8 1154.6L1501.3 1153.0L1501.8 1151.5L1502.4 1149.9L1503.0 1148.4L1503.5 1147.0L1504.2 1145.6L1504.9 1144.2L1505.8 1142.7L1506.7 1141.3L1507.7 1140.0L1508.6 1138.9L1509.9 1137.7L1511.3 1136.6L1512.6 1136.0L1514.1 1135.8L1515.7 1136.2L1516.6 1137.0L1517.5 1138.3L1518.4 1139.9L1519.2 1141.5L1520.0 1142.9L1520.6 1144.3L1521.2 1145.7L1521.8 1147.2L1522.4 1148.7L1523.0 1150.2L1523.5 1151.7L1524.1 1153.2L1524.6 1154.8L1525.1 1156.3L1525.7 1157.8L1526.2 1159.4L1526.7 1160.9L1527.1 1162.5L1527.6 1164.1L1528.1 1165.6L1528.6 1167.1L1529.0 1168.6L1529.5 1170.1L1529.9 1171.6L1530.4 1173.1L1530.8 1174.6L1531.3 1176.1L1531.7 1177.6L1532.2 1179.1L1532.7 1180.6L1533.2 1182.2L1533.7 1183.7L1534.1 1185.2L1534.6 1186.7L1535.1 1188.2L1535.7 1189.7L1536.2 1191.2L1536.7 1192.7L1537.3 1194.2L1537.8 1195.7L1538.3 1197.2L1538.9 1198.7L1539.4 1200.3L1540.0 1201.8L1540.6 1203.4L1541.2 1204.9L1541.8 1206.4L1542.4 1208.0L1543.0 1209.5L1543.6 1210.9L1544.2 1212.4L1544.7 1213.8L1545.3 1215.2L1545.9 1216.6L1546.5 1218.1L1547.1 1219.5L1547.8 1221.0L1548.4 1222.5L1549.1 1223.9L1549.7 1225.4L1550.3 1226.8L1551.0 1228.3L1551.7 1229.7L1552.4 1231.3L1553.0 1232.8L1553.7 1234.2L1554.4 1235.7L1555.2 1237.2L1555.9 1238.7L1556.6 1240.1L1557.3 1241.6L1558.0 1243.0L1558.7 1244.5L1559.4 1245.9L1560.2 1247.4L1560.9 1248.8L1561.6 1250.2L1562.4 1251.6L1563.1 1253.0L1563.8 1254.4L1564.6 1255.8L1565.3 1257.2L1566.0 1258.6L1566.7 1260.0L1567.4 1261.4L1568.2 1262.8L1568.8 1264.2L1569.5 1265.5L1570.2 1267.0L1570.9 1268.3L1571.6 1269.7L1572.2 1271.1L1572.9 1272.6L1573.5 1274.0L1574.2 1275.4L1574.8 1276.9L1575.3 1278.3L1575.9 1279.8L1576.5 1281.2L1577.0 1282.7L1577.5 1284.2L1578.0 1285.7L1578.5 1287.1L1579.0 1288.7L1579.4 1290.3L1579.9 1291.9L1580.3 1293.5L1580.7 1295.1L1581.0 1296.7L1581.4 1298.4L1581.7 1300.0L1582.0 1301.6L1582.3 1303.2L1582.6 1304.9L1582.9 1306.5L1583.1 1308.2L1583.4 1309.8L1583.6 1311.5L1583.9 1313.0L1584.1 1314.6L1584.3 1316.3L1584.5 1317.9L1584.8 1319.5L1585.0 1321.1L1585.2 1322.8L1585.4 1324.4L1585.7 1325.9L1585.9 1327.5L1586.1 1329.1L1586.4 1330.7L1586.6 1332.2L1586.8 1333.8L1587.1 1335.4L1587.3 1336.9L1587.6 1338.5L1587.8 1340.1L1588.1 1341.7L1588.3 1343.2L1588.6 1344.8L1588.9 1346.4L1589.1 1347.9L1589.4 1349.5L1589.7 1351.1L1589.9 1352.6L1590.2 1354.2L1590.5 1355.8L1590.8 1357.4L1591.1 1358.9L1591.4 1360.5L1591.6 1362.0L1591.9 1363.6L1592.2 1365.3L1592.5 1366.9L1592.9 1368.5L1593.2 1370.1L1593.5 1371.7L1593.8 1373.3L1594.1 1374.9L1594.4 1376.4L1594.7 1378.0L1595.0 1379.5L1595.3 1381.1L1595.6 1382.6L1595.9 1384.1L1596.3 1385.7L1596.6 1387.3L1596.9 1388.8L1597.2 1390.4L1597.5 1392.0L1597.9 1393.6L1598.2 1395.1L1598.5 1396.6L1598.8 1398.2L1599.1 1399.7L1599.5 1401.3L1599.8 1402.8L1600.1 1404.4L1600.5 1405.9L1600.8 1407.5L1601.2 1409.1L1601.5 1410.7L1601.9 1412.3L1602.3 1413.8L1602.7 1415.4L1603.2 1416.9L1603.8 1418.5L1604.4 1420.1L1605.0 1421.6L1605.6 1423.1L1606.4 1424.5L1607.2 1425.7L1608.2 1427.1L1609.4 1428.5L1610.6 1429.6L1611.7 1430.3L1613.0 1430.5L1614.3 1430.1L1615.5 1429.3L1616.5 1428.3L1617.5 1427.0L1618.4 1425.5L1619.2 1423.9L1619.9 1422.5L1620.5 1421.1L1621.0 1419.6L1621.4 1418.1L1621.8 1416.5L1622.3 1414.9" fill="none" stroke="#002060" stroke-width="5.5" stroke-linecap="round" stroke-linejoin="round" stroke-dasharray="10.9 10.9" stroke-dashoffset="5.45" pathLength="414.20"/>
<path d="M1622.3 1414.9L1622.8 1413.4L1623.3 1411.8L1623.8 1410.3L1624.3 1408.8L1624.9 1407.3L1625.5 1405.8L1626.1 1404.3L1626.7 1402.8L1627.3 1401.4L1627.9 1399.9L1628.4 1398.5L1629.0 1396.9L1629.6 1395.4L1629.9 1394.6" fill="none" stroke="#002060" stroke-width="5.5" stroke-linecap="round" stroke-linejoin="round" stroke-dasharray="10.9 10.9" stroke-dashoffset="5.45" pathLength="21.80"/>
<path d="M1629.9 1394.6L1630.5 1393.2L1631.0 1391.7L1631.6 1390.3L1632.2 1388.8L1632.7 1387.3L1633.3 1385.8L1633.9 1384.3L1634.5 1382.9L1635.0 1381.5L1635.7 1380.0L1636.3 1378.5L1637.0 1377.1L1637.7 1375.6L1638.4 1374.1L1638.8 1373.4" fill="none" stroke="#002060" stroke-width="5.5" stroke-linecap="round" stroke-linejoin="round" stroke-dasharray="10.9 10.9" stroke-dashoffset="5.45" pathLength="21.80"/>
<path d="M1638.8 1373.4L1639.5 1372.0L1640.3 1370.6L1641.1 1369.1L1641.9 1367.7L1642.8 1366.4L1643.7 1365.0L1644.6 1363.6L1645.5 1362.3L1646.5 1361.1L1647.5 1359.9L1648.5 1358.7L1649.6 1357.6L1650.7 1356.6L1651.8 1355.6L1653.0 1354.7L1654.5 1353.9L1655.9 1353.3L1657.3 1352.9L1658.8 1352.8L1660.2 1352.9L1661.6 1353.3L1663.1 1353.8L1664.6 1354.6L1665.7 1355.4L1666.8 1356.3L1668.1 1357.3L1669.3 1358.5L1670.5 1359.8" fill="none" stroke="#002060" stroke-width="5.5" stroke-linecap="round" stroke-linejoin="round" stroke-dasharray="10.9 10.9" stroke-dashoffset="5.45" pathLength="43.60"/>
<path d="M1670.5 1359.8L1671.7 1361.0L1672.8 1362.3L1673.8 1363.4L1674.9 1364.7L1675.8 1366.0L1676.7 1367.2L1677.5 1368.5L1678.4 1369.9L1679.3 1371.2L1680.2 1372.6L1681.1 1374.0L1682.0 1375.5L1682.9 1377.0" fill="none" stroke="#002060" stroke-width="5.5" stroke-linecap="round" stroke-linejoin="round" stroke-dasharray="10.9 10.9" stroke-dashoffset="5.45" pathLength="21.80"/>
<path d="M1682.9 1377.0L1683.8 1378.5L1684.8 1380.0L1685.7 1381.4L1686.6 1382.7L1687.6 1383.8L1688.7 1384.9L1690.2 1386.0L1691.6 1386.9L1692.8 1387.4L1693.9 1387.5L1694.9 1387.1L1695.7 1386.6L1696.7 1385.7L1697.7 1384.7L1698.9 1383.5L1700.2 1382.1L1701.4 1380.7L1702.7 1379.2L1703.9 1377.7L1705.1 1376.2L1706.2 1374.7L1707.1 1373.3L1707.9 1371.9L1708.8 1370.4L1709.5 1368.8L1710.1 1367.2L1710.4 1366.4" fill="none" stroke="#002060" stroke-width="5.5" stroke-linecap="round" stroke-linejoin="round" stroke-dasharray="10.9 10.9" stroke-dashoffset="5.45" pathLength="43.60"/>
<path d="M1710.4 1366.4L1710.9 1364.9L1711.4 1363.4L1712.0 1361.9L1712.6 1360.4L1713.2 1358.9L1713.9 1357.4L1714.6 1355.9L1715.2 1354.5L1715.9 1353.0L1716.6 1351.5L1717.3 1350.0L1718.0 1348.6L1718.8 1347.0L1719.6 1345.5L1720.4 1344.0L1721.1 1342.5L1721.8 1341.1L1722.6 1339.6L1723.3 1338.2L1724.0 1336.7L1724.7 1335.3L1725.4 1333.9L1726.1 1332.5L1726.8 1331.1L1727.5 1329.7L1728.2 1328.3L1728.9 1326.9L1729.6 1325.5L1730.4 1324.0L1731.1 1322.6L1731.8 1321.2L1732.6 1319.8L1733.4 1318.4L1734.2 1316.9L1735.1 1315.4L1735.9 1314.0L1736.8 1312.6L1737.7 1311.2L1738.6 1309.7L1739.5 1308.3" fill="none" stroke="#002060" stroke-width="5.5" stroke-linecap="round" stroke-linejoin="round" stroke-dasharray="10.9 10.9" stroke-dashoffset="5.45" pathLength="65.40"/>
<path d="M1739.5 1308.3L1740.5 1306.9L1741.4 1305.5L1742.4 1304.1L1743.3 1302.9L1744.3 1301.6L1745.3 1300.3L1746.3 1299.1L1747.3 1298.0L1748.3 1296.9L1749.5 1295.8L1750.7 1294.8L1752.0 1293.8L1753.5 1292.8L1754.2 1292.3" fill="none" stroke="#002060" stroke-width="5.5" stroke-linecap="round" stroke-linejoin="round" stroke-dasharray="10.9 10.9" stroke-dashoffset="5.45" pathLength="21.80"/>
<path d="M1754.2 1292.3L1755.8 1291.3L1757.2 1290.4L1758.6 1289.7L1759.8 1289.2L1761.5 1288.6L1763.0 1288.4L1764.6 1288.2L1766.2 1288.2L1768.0 1288.4L1769.2 1288.8L1770.5 1289.4L1771.9 1290.2L1773.4 1291.0" fill="none" stroke="#002060" stroke-width="5.5" stroke-linecap="round" stroke-linejoin="round" stroke-dasharray="10.9 10.9" stroke-dashoffset="5.45" pathLength="21.80"/>
<path d="M1773.4 1291.0L1774.9 1291.9L1776.4 1292.7L1777.9 1293.5L1778.6 1293.9" fill="none" stroke="#002060" stroke-width="5.5" stroke-linecap="round" stroke-linejoin="round" stroke-dasharray="10.9 10.9" stroke-dashoffset="5.45"/>
<path d="M1198.8 1310.5L1200.5 1310.5L1202.2 1310.5L1203.8 1310.5L1205.5 1310.4L1207.2 1310.4L1208.9 1310.4L1210.6 1310.4L1212.3 1310.4L1214.0 1310.4L1215.7 1310.4L1217.4 1310.4L1219.0 1310.3L1220.7 1310.3L1222.3 1310.2L1223.9 1310.1L1225.4 1310.0" fill="none" stroke="#00B0F0" stroke-width="5.5" stroke-linecap="round" stroke-linejoin="round" stroke-dasharray="16.36 21.82 0 21.82" stroke-dashoffset="11.55"/>
<path d="M1225.4 1310.0L1227.1 1309.9L1228.8 1309.7L1230.5 1309.6L1232.1 1309.4L1233.7 1309.2L1235.3 1309.0L1236.9 1308.8L1238.5 1308.6L1240.1 1308.4L1241.6 1308.2L1243.2 1307.9L1244.8 1307.7L1246.4 1307.4L1248.0 1307.2L1249.6 1306.9L1251.2 1306.7L1252.9 1306.4L1254.5 1306.1L1256.0 1305.8L1257.6 1305.5L1259.2 1305.2L1260.8 1304.8L1262.4 1304.4L1264.0 1304.0L1265.6 1303.6L1267.2 1303.1L1268.8 1302.7L1270.4 1302.2L1272.1 1301.8L1273.7 1301.3L1275.3 1300.8L1276.9 1300.2L1278.4 1299.5L1279.9 1298.8L1281.3 1298.0L1282.7 1297.2L1283.3 1296.7" fill="none" stroke="#00B0F0" stroke-width="5.5" stroke-linecap="round" stroke-linejoin="round" stroke-dasharray="16.36 21.82 0 21.82" stroke-dashoffset="38.18" pathLength="60.00"/>
<path d="M1283.3 1296.7L1284.6 1295.7L1285.8 1294.6L1286.9 1293.4L1288.0 1292.1L1289.1 1290.8L1290.1 1289.4L1291.0 1287.9L1292.0 1286.5L1292.9 1285.0L1293.7 1283.6L1294.5 1282.1L1295.3 1280.7L1296.1 1279.3L1296.8 1277.8L1297.5 1276.4L1298.1 1274.9L1298.7 1273.4L1299.2 1272.0L1299.8 1270.5L1300.3 1268.9L1300.7 1267.4L1301.2 1265.8L1301.7 1264.2L1302.1 1262.7L1302.5 1261.2L1302.9 1259.6L1303.3 1258.0L1303.7 1256.4L1304.1 1254.8L1304.4 1253.1L1304.7 1251.5L1305.1 1249.8L1305.4 1248.2L1305.7 1246.5L1306.0 1244.9L1306.3 1243.2" fill="none" stroke="#00B0F0" stroke-width="5.5" stroke-linecap="round" stroke-linejoin="round" stroke-dasharray="16.36 21.82 0 21.82" stroke-dashoffset="38.18" pathLength="60.00"/>
<path d="M1306.3 1243.2L1306.6 1241.6L1306.8 1240.0L1307.1 1238.3L1307.3 1236.7L1307.6 1235.0L1307.8 1233.3L1308.0 1231.7L1308.2 1230.0L1308.4 1228.4L1308.6 1226.8L1308.9 1225.2L1309.1 1223.6L1309.3 1222.0L1309.5 1220.4L1309.7 1218.8L1310.0 1217.2L1310.2 1215.6L1310.4 1214.1L1310.6 1212.5L1310.9 1211.0L1311.1 1209.4L1311.3 1207.8L1311.5 1206.2L1311.8 1204.6L1312.0 1203.0L1312.2 1201.4L1312.5 1199.8L1312.7 1198.2L1312.9 1196.5L1313.2 1194.9L1313.4 1193.2L1313.7 1191.5L1313.9 1189.9L1314.1 1188.2L1314.4 1186.6L1314.6 1184.9L1314.8 1183.3" fill="none" stroke="#00B0F0" stroke-width="5.5" stroke-linecap="round" stroke-linejoin="round" stroke-dasharray="16.36 21.82 0 21.82" stroke-dashoffset="38.18" pathLength="60.00"/>
<path d="M1314.8 1183.3L1315.0 1181.7L1315.2 1180.0L1315.4 1178.4L1315.6 1176.8L1315.8 1175.2L1316.0 1173.6L1316.2 1172.0L1316.4 1170.4L1316.6 1168.8L1316.8 1167.2L1317.0 1165.7L1317.2 1164.1L1317.4 1162.5L1317.6 1160.8L1317.8 1159.2L1318.0 1157.5L1318.2 1155.9L1318.4 1154.3L1318.5 1152.6L1318.7 1151.0L1318.9 1149.3L1319.2 1147.7L1319.4 1146.0L1319.6 1144.3L1319.8 1142.7L1320.0 1141.1L1320.2 1139.4L1320.4 1137.8L1320.6 1136.1L1320.8 1134.4L1321.1 1132.7L1321.3 1131.0L1321.5 1129.4L1321.8 1127.8L1322.0 1126.2L1322.3 1124.7L1322.4 1124.0" fill="none" stroke="#00B0F0" stroke-width="5.5" stroke-linecap="round" stroke-linejoin="round" stroke-dasharray="16.36 21.82 0 21.82" stroke-dashoffset="38.18" pathLength="60.00"/>
<path d="M1322.4 1124.0L1322.7 1122.4L1323.0 1120.6L1323.4 1118.9L1323.7 1117.2L1324.1 1115.5L1324.5 1114.0L1324.9 1112.7L1325.3 1111.6L1326.0 1110.3L1327.0 1109.2L1328.0 1109.0L1328.7 1109.6L1329.0 1110.5L1329.4 1111.6L1329.7 1113.0L1330.0 1114.6L1330.2 1116.3L1330.5 1118.2L1330.8 1120.1L1331.0 1122.1L1331.3 1124.0L1331.5 1125.8L1331.7 1127.4L1331.9 1128.9L1332.0 1130.5L1332.2 1132.1L1332.3 1133.7L1332.4 1135.4L1332.6 1137.0L1332.7 1138.7L1332.8 1140.3L1332.9 1142.0L1333.0 1143.6L1333.2 1145.3L1333.3 1146.9L1333.5 1148.5" fill="none" stroke="#00B0F0" stroke-width="5.5" stroke-linecap="round" stroke-linejoin="round" stroke-dasharray="16.36 21.82 0 21.82" stroke-dashoffset="38.18" pathLength="60.00"/>
<path d="M1333.5 1148.5L1333.7 1150.1L1333.9 1151.7L1334.1 1153.4L1334.3 1155.0L1334.5 1156.6L1334.7 1158.2L1335.0 1159.8L1335.2 1161.4L1335.4 1163.0L1335.7 1164.6L1335.9 1166.2L1336.1 1167.8L1336.4 1169.4L1336.6 1171.0L1336.9 1172.6L1337.1 1174.2L1337.4 1175.8L1337.7 1177.3L1337.9 1178.9L1338.2 1180.5L1338.5 1182.1L1338.7 1183.7L1339.0 1185.3L1339.3 1186.9L1339.5 1188.5L1339.8 1190.1L1340.0 1191.7L1340.3 1193.4L1340.6 1195.0L1340.8 1196.6L1341.1 1198.3L1341.3 1199.9L1341.6 1201.5L1341.9 1203.2L1342.1 1204.8L1342.4 1206.5L1342.5 1207.3" fill="none" stroke="#00B0F0" stroke-width="5.5" stroke-linecap="round" stroke-linejoin="round" stroke-dasharray="16.36 21.82 0 21.82" stroke-dashoffset="38.18" pathLength="60.00"/>
<path d="M1342.5 1207.3L1342.7 1208.9L1343.0 1210.5L1343.2 1212.1L1343.5 1213.8L1343.7 1215.4L1344.0 1217.0L1344.2 1218.6L1344.4 1220.3L1344.7 1221.9L1344.9 1223.5L1345.1 1225.1L1345.4 1226.7L1345.6 1228.4L1345.8 1230.0L1346.1 1231.6L1346.3 1233.3L1346.5 1234.9L1346.8 1236.5L1347.0 1238.2L1347.2 1239.8L1347.5 1241.4L1347.7 1243.0L1347.9 1244.6L1348.1 1246.3L1348.4 1247.9L1348.6 1249.5L1348.8 1251.2L1349.0 1252.8L1349.3 1254.5L1349.5 1256.1L1349.7 1257.7L1349.9 1259.4L1350.2 1261.0L1350.4 1262.6L1350.6 1264.3L1350.8 1265.9L1351.1 1267.6" fill="none" stroke="#00B0F0" stroke-width="5.5" stroke-linecap="round" stroke-linejoin="round" stroke-dasharray="16.36 21.82 0 21.82" stroke-dashoffset="38.18" pathLength="60.00"/>
<path d="M1351.1 1267.6L1351.3 1269.2L1351.5 1270.8L1351.7 1272.4L1351.9 1274.0L1352.1 1275.6L1352.3 1277.2L1352.6 1278.8L1352.8 1280.4L1353.0 1282.0L1353.2 1283.6L1353.4 1285.1L1353.6 1286.7L1353.9 1288.3L1354.1 1289.9L1354.3 1291.5L1354.5 1293.1L1354.7 1294.7L1355.0 1296.3L1355.2 1297.9L1355.5 1299.5L1355.8 1301.1L1356.1 1302.8L1356.5 1304.5L1356.8 1305.9L1357.2 1307.5L1357.6 1309.1L1358.0 1310.7L1358.4 1312.4L1358.8 1314.0L1359.3 1315.7L1359.8 1317.3L1360.3 1318.9L1360.8 1320.5L1361.3 1322.0L1361.9 1323.4L1362.5 1324.7L1362.8 1325.4" fill="none" stroke="#00B0F0" stroke-width="5.5" stroke-linecap="round" stroke-linejoin="round" stroke-dasharray="16.36 21.82 0 21.82" stroke-dashoffset="38.18" pathLength="60.00"/>
<path d="M1362.8 1325.4L1363.5 1326.8L1364.4 1328.5L1365.4 1330.1L1366.4 1331.6L1367.4 1333.0L1368.4 1334.2L1369.3 1335.1L1370.1 1335.6L1371.5 1335.7L1372.7 1335.3L1373.9 1334.8L1375.2 1333.8L1376.0 1333.0L1376.8 1332.0L1377.8 1330.8L1378.7 1329.5L1379.7 1328.1L1380.7 1326.6L1381.6 1325.0L1382.5 1323.3L1383.4 1321.7L1384.1 1320.1L1384.7 1318.7L1385.2 1317.3L1385.6 1315.8L1386.0 1314.3L1386.4 1312.7L1386.8 1311.1L1387.1 1309.5L1387.4 1307.8L1387.8 1306.2L1388.1 1304.5L1388.4 1302.9L1388.7 1301.3L1389.1 1299.7L1389.5 1298.1" fill="none" stroke="#00B0F0" stroke-width="5.5" stroke-linecap="round" stroke-linejoin="round" stroke-dasharray="16.36 21.82 0 21.82" stroke-dashoffset="38.18" pathLength="60.00"/>
<path d="M1389.5 1298.1L1389.9 1296.6L1390.4 1294.9L1390.8 1293.3L1391.3 1291.6L1391.7 1289.9L1392.1 1288.3L1392.6 1286.6L1393.1 1285.0L1393.5 1283.4L1394.1 1281.9L1394.6 1280.5L1395.2 1279.2L1395.8 1277.9L1396.5 1276.6L1397.5 1275.1L1398.5 1273.8L1399.5 1272.6L1400.5 1271.5L1401.6 1270.5L1402.6 1269.5L1403.8 1268.6L1405.1 1267.6L1406.4 1266.8L1407.8 1266.1L1409.3 1265.6L1410.6 1265.2L1412.0 1264.8L1413.6 1264.5L1415.2 1264.2L1416.9 1263.9L1418.6 1263.6L1420.3 1263.3L1422.0 1262.9L1423.6 1262.5L1425.1 1262.2L1426.7 1261.8L1428.3 1261.5L1429.9 1261.2L1431.4 1260.8L1433.0 1260.4L1434.6 1260.0L1436.1 1259.5L1437.6 1258.9L1439.0 1258.3L1440.4 1257.5L1441.7 1256.6L1442.8 1255.6L1444.0 1254.5L1445.1 1253.3L1446.1 1252.0L1447.1 1250.7L1448.1 1249.4L1449.1 1248.0L1450.2 1246.7L1451.2 1245.4L1452.3 1244.1L1453.5 1242.9L1454.6 1241.8L1455.8 1240.7L1457.0 1239.6L1458.2 1238.5L1459.5 1237.4L1460.7 1236.3L1461.9 1235.2L1463.1 1234.0L1464.2 1232.9L1465.3 1231.8L1466.4 1230.6L1467.4 1229.5" fill="none" stroke="#00B0F0" stroke-width="5.5" stroke-linecap="round" stroke-linejoin="round" stroke-dasharray="16.36 21.82 0 21.82" stroke-dashoffset="38.18" pathLength="120.00"/>
<path d="M1467.4 1229.5L1468.4 1228.1L1469.3 1226.6L1470.2 1225.1L1471.1 1223.6L1471.9 1222.1L1472.7 1220.6L1473.4 1219.2L1474.2 1217.9L1475.0 1216.8L1475.8 1215.8L1477.2 1214.5L1478.5 1213.6L1480.0 1212.9L1481.4 1212.6L1482.9 1212.6L1484.4 1212.9L1486.0 1213.3L1487.5 1213.7L1489.1 1214.2L1490.5 1214.8L1492.0 1215.5L1493.5 1216.2L1495.0 1217.0L1496.5 1217.9L1497.9 1218.7L1499.2 1219.7L1500.5 1220.6L1501.8 1221.6L1503.1 1222.7L1504.3 1223.8L1505.5 1224.9L1506.6 1226.1L1507.6 1227.3L1508.6 1228.5L1509.6 1229.8L1510.5 1231.1L1511.4 1232.6L1512.3 1234.2L1512.9 1235.4L1513.6 1236.7L1514.2 1238.1L1514.8 1239.6L1515.5 1241.1L1516.1 1242.7L1516.7 1244.3L1517.3 1245.9L1517.8 1247.5L1518.4 1249.1L1518.9 1250.7L1519.4 1252.2L1520.0 1253.8L1520.4 1255.4L1520.9 1257.0L1521.3 1258.6L1521.8 1260.2L1522.2 1261.8L1522.6 1263.4L1523.0 1265.0L1523.4 1266.6L1523.8 1268.2L1524.3 1269.8L1524.7 1271.4L1525.2 1272.9L1525.7 1274.4L1526.2 1276.0L1526.7 1277.5L1527.2 1279.0L1527.7 1280.6L1528.3 1282.1L1528.8 1283.7L1529.3 1285.2L1529.8 1286.8L1530.3 1288.3L1530.9 1289.9" fill="none" stroke="#00B0F0" stroke-width="5.5" stroke-linecap="round" stroke-linejoin="round" stroke-dasharray="16.36 21.82 0 21.82" stroke-dashoffset="38.18" pathLength="120.00"/>
<path d="M1530.9 1289.9L1531.3 1291.4L1531.8 1293.0L1532.3 1294.5L1532.8 1296.0L1533.3 1297.6L1533.8 1299.1L1534.3 1300.7L1534.8 1302.2L1535.3 1303.8L1535.8 1305.3L1536.2 1306.9L1536.7 1308.4L1537.1 1309.9L1537.6 1311.5L1538.0 1313.1L1538.4 1314.8L1538.8 1316.4L1539.2 1318.0L1539.5 1319.7L1539.9 1321.3L1540.3 1322.8L1540.7 1324.4L1541.2 1325.8L1541.7 1327.3L1542.2 1328.8L1542.9 1330.4L1543.6 1332.0L1544.3 1333.5L1545.0 1335.0L1545.8 1336.4L1546.6 1337.7L1547.3 1339.0L1548.1 1340.1L1549.1 1341.3L1550.2 1342.4L1551.2 1343.4L1552.4 1344.3L1553.0 1344.7" fill="none" stroke="#00B0F0" stroke-width="5.5" stroke-linecap="round" stroke-linejoin="round" stroke-dasharray="16.36 21.82 0 21.82" stroke-dashoffset="38.18" pathLength="60.00"/>
<path d="M1553.0 1344.7L1554.2 1345.5L1555.6 1346.3L1556.9 1347.0L1558.3 1347.6L1559.7 1348.1L1561.3 1348.6L1562.8 1348.9L1564.4 1349.2L1566.0 1349.3L1567.5 1349.2L1569.0 1349.1L1570.5 1348.9L1572.1 1348.6L1573.5 1348.1L1574.9 1347.6L1576.4 1347.0L1577.8 1346.3L1579.2 1345.6L1580.5 1344.7L1581.8 1343.9L1583.0 1343.1L1584.1 1342.2L1585.3 1341.3L1586.5 1340.2L1587.8 1339.1L1588.9 1337.9L1589.9 1336.9L1590.9 1335.8L1591.9 1334.6L1593.0 1333.4L1594.0 1332.1L1595.1 1330.8L1596.2 1329.5L1597.2 1328.1L1598.3 1326.7L1599.3 1325.3L1600.2 1323.9L1601.2 1322.6" fill="none" stroke="#00B0F0" stroke-width="5.5" stroke-linecap="round" stroke-linejoin="round" stroke-dasharray="16.36 21.82 0 21.82" stroke-dashoffset="38.18" pathLength="60.00"/>
<path d="M1601.2 1322.6L1602.1 1321.2L1602.9 1319.8L1603.7 1318.4L1604.5 1317.0L1605.3 1315.6L1606.1 1314.1L1606.9 1312.7L1607.6 1311.2L1608.3 1309.8L1609.1 1308.3L1609.8 1306.9L1610.5 1305.5L1611.2 1304.1L1612.0 1302.6L1612.7 1301.1L1613.4 1299.7L1614.1 1298.2L1614.8 1296.8L1615.4 1295.4L1616.1 1293.9L1616.9 1292.5L1617.6 1291.1L1618.4 1289.6L1619.3 1288.2L1620.1 1286.9L1621.0 1285.5L1621.9 1284.0L1622.9 1282.6L1623.9 1281.1L1624.9 1279.7L1626.0 1278.3L1627.0 1276.9L1628.0 1275.6L1629.1 1274.3L1630.1 1273.2L1631.1 1272.1L1632.1 1271.1" fill="none" stroke="#00B0F0" stroke-width="5.5" stroke-linecap="round" stroke-linejoin="round" stroke-dasharray="16.36 21.82 0 21.82" stroke-dashoffset="38.18" pathLength="60.00"/>
<path d="M1632.1 1271.1L1633.5 1269.9L1634.9 1268.7L1636.2 1267.7L1637.6 1266.8L1639.0 1266.2L1640.3 1265.7L1641.7 1265.4L1643.3 1265.4L1644.8 1265.8L1646.4 1266.4L1647.6 1267.2L1648.7 1268.0L1649.7 1269.0L1650.8 1270.2L1651.9 1271.4L1652.9 1272.8L1654.0 1274.2L1655.1 1275.7L1656.1 1277.3L1657.1 1278.8L1658.0 1280.3L1658.9 1281.7L1659.7 1283.1L1660.4 1284.5L1661.1 1286.0L1661.9 1287.5L1662.5 1289.1L1663.2 1290.6L1663.8 1292.2L1664.5 1293.8L1665.1 1295.4L1665.7 1296.9L1666.3 1298.5L1667.0 1300.0" fill="none" stroke="#00B0F0" stroke-width="5.5" stroke-linecap="round" stroke-linejoin="round" stroke-dasharray="16.36 21.82 0 21.82" stroke-dashoffset="38.18" pathLength="60.00"/>
<path d="M1667.0 1300.0L1667.6 1301.6L1668.2 1303.1L1668.8 1304.7L1669.3 1306.2L1669.9 1307.8L1670.4 1309.3L1671.0 1310.9L1671.5 1312.4L1672.1 1313.9L1672.6 1315.4L1673.2 1316.9L1673.8 1318.4L1674.4 1319.9L1675.1 1321.4L1675.8 1322.9L1676.5 1324.4L1677.2 1325.9L1677.9 1327.4L1678.7 1328.8L1679.4 1330.2L1680.2 1331.6L1681.0 1333.0L1681.8 1334.3L1682.6 1335.6L1683.5 1337.0L1684.5 1338.4L1685.5 1339.8L1686.5 1341.2L1687.5 1342.5L1688.5 1343.7L1689.6 1344.8L1690.6 1345.7L1691.9 1346.9L1693.3 1347.9L1694.6 1348.7L1696.0 1349.4L1696.7 1349.7" fill="none" stroke="#00B0F0" stroke-width="5.5" stroke-linecap="round" stroke-linejoin="round" stroke-dasharray="16.36 21.82 0 21.82" stroke-dashoffset="38.18" pathLength="60.00"/>
<path d="M1696.7 1349.7L1698.1 1350.1L1699.6 1350.2L1701.1 1350.2L1702.6 1350.0L1704.0 1349.7L1705.5 1349.3L1706.9 1348.6L1708.5 1347.9L1709.9 1347.1L1711.1 1346.4L1712.5 1345.6L1713.9 1344.6L1715.4 1343.7L1716.9 1342.6L1718.5 1341.6L1720.0 1340.6L1721.4 1339.7L1722.8 1338.8L1724.1 1338.1L1725.5 1337.3L1727.0 1336.6L1728.4 1335.9L1729.8 1335.4L1731.3 1334.9L1732.8 1334.5L1734.3 1334.1L1735.8 1333.8L1737.5 1333.6L1739.1 1333.4L1740.7 1333.2L1742.3 1333.1L1743.9 1333.1L1745.4 1333.1L1747.0 1333.2L1748.6 1333.3L1750.2 1333.3L1751.8 1333.4L1752.6 1333.3" fill="none" stroke="#00B0F0" stroke-width="5.5" stroke-linecap="round" stroke-linejoin="round" stroke-dasharray="16.36 21.82 0 21.82" stroke-dashoffset="38.18" pathLength="60.00"/>
<path d="M1752.6 1333.3L1754.2 1333.3L1755.9 1333.2L1757.5 1333.1L1759.1 1332.9L1760.7 1332.7L1762.3 1332.3L1763.8 1331.8L1765.3 1331.2L1766.7 1330.5L1768.2 1329.7L1769.6 1328.9L1770.9 1328.1L1772.2 1327.4L1773.6 1326.5L1774.9 1325.6L1776.1 1324.8L1777.4 1323.9L1778.6 1323.0" fill="none" stroke="#00B0F0" stroke-width="5.5" stroke-linecap="round" stroke-linejoin="round" stroke-dasharray="16.36 21.82 0 21.82" stroke-dashoffset="38.18"/>
<g fill="#00B0F0"><circle cx="1225.4" cy="1310.0" r="2.73"/><circle cx="1283.3" cy="1296.7" r="2.73"/><circle cx="1306.3" cy="1243.2" r="2.73"/><circle cx="1314.8" cy="1183.3" r="2.73"/><circle cx="1322.4" cy="1124.0" r="2.73"/><circle cx="1333.5" cy="1148.5" r="2.73"/><circle cx="1342.5" cy="1207.3" r="2.73"/><circle cx="1351.1" cy="1267.6" r="2.73"/><circle cx="1362.8" cy="1325.4" r="2.73"/><circle cx="1389.5" cy="1298.1" r="2.73"/><circle cx="1467.4" cy="1229.5" r="2.73"/><circle cx="1530.9" cy="1289.9" r="2.73"/><circle cx="1553.0" cy="1344.7" r="2.73"/><circle cx="1601.2" cy="1322.6" r="2.73"/><circle cx="1632.1" cy="1271.1" r="2.73"/><circle cx="1667.0" cy="1300.0" r="2.73"/><circle cx="1696.7" cy="1349.7" r="2.73"/><circle cx="1752.6" cy="1333.3" r="2.73"/></g>
<path d="M1204.9 1311.1" fill="none" stroke="#FF0000" stroke-width="7.3" stroke-linecap="round" stroke-linejoin="round" stroke-dasharray="0 14.55" stroke-dashoffset="0.00"/>
<path d="M1204.9 1311.1L1206.5 1311.1L1208.1 1311.0L1209.7 1311.0L1211.3 1310.9L1212.9 1310.9L1214.5 1310.8L1216.1 1310.8L1217.8 1310.7L1219.4 1310.7L1221.0 1310.7L1222.6 1310.6L1224.2 1310.6L1225.9 1310.6L1227.5 1310.6L1229.1 1310.6L1230.8 1310.5L1232.4 1310.5L1234.0 1310.5" fill="none" stroke="#FF0000" stroke-width="7.3" stroke-linecap="round" stroke-linejoin="round" stroke-dasharray="0 14.55" stroke-dashoffset="0.00" pathLength="29.10"/>
<path d="M1234.0 1310.5L1235.6 1310.5L1237.3 1310.4L1238.9 1310.4L1240.5 1310.3L1242.2 1310.3L1243.8 1310.3L1245.4 1310.2L1247.0 1310.1L1248.6 1310.0L1250.2 1310.0L1251.8 1309.9L1253.4 1309.8L1255.0 1309.7L1256.6 1309.5L1258.2 1309.4L1259.8 1309.3L1261.4 1309.1L1262.9 1308.9" fill="none" stroke="#FF0000" stroke-width="7.3" stroke-linecap="round" stroke-linejoin="round" stroke-dasharray="0 14.55" stroke-dashoffset="0.00" pathLength="29.10"/>
<path d="M1262.9 1308.9L1264.5 1308.7L1266.1 1308.4L1267.7 1308.2L1269.3 1307.9L1270.9 1307.6L1272.5 1307.3L1274.1 1307.0L1275.7 1306.6L1277.3 1306.2L1278.8 1305.8L1280.4 1305.3L1282.0 1304.7L1283.5 1304.2L1285.1 1303.6L1286.6 1303.0L1288.1 1302.4L1289.7 1301.9L1291.2 1301.5" fill="none" stroke="#FF0000" stroke-width="7.3" stroke-linecap="round" stroke-linejoin="round" stroke-dasharray="0 14.55" stroke-dashoffset="0.00" pathLength="29.10"/>
<path d="M1291.2 1301.5L1292.8 1301.0L1294.5 1300.4L1296.1 1299.9L1297.8 1299.3L1299.4 1298.9L1301.0 1298.7L1302.6 1298.6L1304.2 1298.8L1305.5 1299.3L1306.9 1300.1L1308.2 1301.2L1309.5 1302.5L1310.8 1303.8L1312.0 1305.1L1313.3 1306.2L1314.6 1307.1L1315.9 1307.6" fill="none" stroke="#FF0000" stroke-width="7.3" stroke-linecap="round" stroke-linejoin="round" stroke-dasharray="0 14.55" stroke-dashoffset="0.00" pathLength="29.10"/>
<path d="M1315.9 1307.6L1317.2 1307.8L1318.7 1307.6L1320.2 1307.1L1321.6 1306.3L1323.1 1305.5L1324.5 1304.5L1325.9 1303.5L1327.3 1302.5L1328.6 1301.7L1329.8 1300.7L1331.1 1299.7L1332.3 1298.6L1333.5 1297.5L1334.8 1296.4L1336.0 1295.3L1337.2 1294.1L1338.3 1293.0L1338.9 1292.5" fill="none" stroke="#FF0000" stroke-width="7.3" stroke-linecap="round" stroke-linejoin="round" stroke-dasharray="0 14.55" stroke-dashoffset="0.00" pathLength="29.10"/>
<path d="M1338.9 1292.5L1340.1 1291.4L1341.3 1290.3L1342.5 1289.2L1343.7 1288.0L1344.8 1286.9L1346.0 1285.8L1347.1 1284.6L1348.2 1283.5L1349.2 1282.3L1350.3 1281.0L1351.3 1279.8L1352.3 1278.5L1353.3 1277.3L1354.3 1276.0L1355.2 1274.7L1356.1 1273.3L1357.0 1272.0L1357.9 1270.7" fill="none" stroke="#FF0000" stroke-width="7.3" stroke-linecap="round" stroke-linejoin="round" stroke-dasharray="0 14.55" stroke-dashoffset="0.00" pathLength="29.10"/>
<path d="M1357.9 1270.7L1358.7 1269.3L1359.5 1267.9L1360.3 1266.5L1361.1 1265.1L1361.8 1263.7L1362.5 1262.3L1363.2 1260.9L1363.9 1259.4L1364.6 1258.0L1365.2 1256.5L1365.9 1255.0L1366.5 1253.6L1367.1 1252.1L1367.6 1250.6L1368.2 1249.0L1368.7 1247.5L1369.2 1246.0L1369.7 1244.5" fill="none" stroke="#FF0000" stroke-width="7.3" stroke-linecap="round" stroke-linejoin="round" stroke-dasharray="0 14.55" stroke-dashoffset="0.00" pathLength="29.10"/>
<path d="M1369.7 1244.5L1370.2 1243.0L1370.7 1241.5L1371.1 1239.9L1371.6 1238.4L1372.0 1236.9L1372.4 1235.3L1372.8 1233.8L1373.2 1232.2L1373.6 1230.7L1373.9 1229.1L1374.3 1227.5L1374.7 1225.8L1375.0 1224.2L1375.4 1222.6L1375.7 1220.9L1376.0 1219.3L1376.3 1217.7L1376.6 1216.0" fill="none" stroke="#FF0000" stroke-width="7.3" stroke-linecap="round" stroke-linejoin="round" stroke-dasharray="0 14.55" stroke-dashoffset="0.00" pathLength="29.10"/>
<path d="M1376.6 1216.0L1376.9 1214.4L1377.2 1212.8L1377.5 1211.1L1377.8 1209.5L1378.1 1207.9L1378.3 1206.2L1378.6 1204.6L1378.9 1203.0L1379.1 1201.3L1379.4 1199.7L1379.7 1198.1L1379.9 1196.5L1380.2 1194.9L1380.4 1193.3L1380.6 1191.7L1380.9 1190.2L1381.1 1188.6L1381.4 1187.0" fill="none" stroke="#FF0000" stroke-width="7.3" stroke-linecap="round" stroke-linejoin="round" stroke-dasharray="0 14.55" stroke-dashoffset="0.00" pathLength="29.10"/>
<path d="M1381.4 1187.0L1381.6 1185.4L1381.8 1183.8L1382.1 1182.2L1382.3 1180.7L1382.6 1179.1L1382.8 1177.5L1383.0 1175.9L1383.3 1174.3L1383.5 1172.8L1383.7 1171.2L1384.0 1169.6L1384.2 1168.0L1384.4 1166.4L1384.7 1164.8L1384.9 1163.2L1385.2 1161.6L1385.4 1160.0L1385.7 1158.4" fill="none" stroke="#FF0000" stroke-width="7.3" stroke-linecap="round" stroke-linejoin="round" stroke-dasharray="0 14.55" stroke-dashoffset="0.00" pathLength="29.10"/>
<path d="M1385.7 1158.4L1386.0 1156.8L1386.3 1155.1L1386.5 1153.4L1386.8 1151.7L1387.1 1150.0L1387.5 1148.4L1387.8 1146.8L1388.2 1145.2L1388.6 1143.8L1389.2 1142.1L1389.8 1140.5L1390.4 1138.9L1391.1 1137.4L1391.8 1136.2L1392.6 1135.3L1394.1 1134.5L1395.7 1134.2L1396.4 1134.2" fill="none" stroke="#FF0000" stroke-width="7.3" stroke-linecap="round" stroke-linejoin="round" stroke-dasharray="0 14.55" stroke-dashoffset="0.00" pathLength="29.10"/>
<path d="M1396.4 1134.2L1397.8 1134.6L1399.1 1135.4L1400.2 1136.6L1400.9 1137.7L1401.4 1139.1L1401.9 1140.6L1402.3 1142.3L1402.6 1144.0L1403.0 1145.5L1403.3 1147.0L1403.6 1148.5L1403.8 1150.1L1404.1 1151.8L1404.3 1153.5L1404.6 1155.2L1404.8 1156.9L1405.0 1158.5L1405.2 1160.1" fill="none" stroke="#FF0000" stroke-width="7.3" stroke-linecap="round" stroke-linejoin="round" stroke-dasharray="0 14.55" stroke-dashoffset="0.00" pathLength="29.10"/>
<path d="M1405.2 1160.1L1405.4 1161.8L1405.7 1163.4L1405.9 1165.0L1406.1 1166.6L1406.3 1168.2L1406.5 1169.8L1406.7 1171.4L1406.9 1173.0L1407.1 1174.6L1407.2 1176.2L1407.4 1177.8L1407.6 1179.4L1407.8 1181.0L1408.0 1182.5L1408.1 1184.1L1408.3 1185.7L1408.5 1187.3L1408.7 1188.9" fill="none" stroke="#FF0000" stroke-width="7.3" stroke-linecap="round" stroke-linejoin="round" stroke-dasharray="0 14.55" stroke-dashoffset="0.00" pathLength="29.10"/>
<path d="M1408.7 1188.9L1408.8 1190.5L1409.0 1192.0L1409.2 1193.6L1409.4 1195.2L1409.5 1196.8L1409.7 1198.4L1409.9 1199.9L1410.1 1201.5L1410.2 1203.1L1410.4 1204.7L1410.6 1206.3L1410.8 1207.9L1411.0 1209.5L1411.1 1211.0L1411.3 1212.6L1411.5 1214.2L1411.7 1215.8L1411.9 1217.4" fill="none" stroke="#FF0000" stroke-width="7.3" stroke-linecap="round" stroke-linejoin="round" stroke-dasharray="0 14.55" stroke-dashoffset="0.00" pathLength="29.10"/>
<path d="M1411.9 1217.4L1412.1 1219.0L1412.2 1220.6L1412.4 1222.1L1412.6 1223.7L1412.8 1225.3L1413.0 1226.9L1413.2 1228.5L1413.4 1230.0L1413.6 1231.6L1413.8 1233.2L1414.0 1234.9L1414.2 1236.5L1414.4 1238.2L1414.6 1239.8L1414.8 1241.4L1415.0 1243.1L1415.2 1244.7L1415.4 1246.3L1415.5 1247.1" fill="none" stroke="#FF0000" stroke-width="7.3" stroke-linecap="round" stroke-linejoin="round" stroke-dasharray="0 14.55" stroke-dashoffset="0.00" pathLength="29.10"/>
<path d="M1415.5 1247.1L1415.7 1248.8L1415.9 1250.3L1416.2 1251.9L1416.4 1253.5L1416.6 1255.1L1416.8 1256.7L1417.0 1258.3L1417.2 1259.9L1417.5 1261.5L1417.7 1263.0L1417.9 1264.6L1418.1 1266.2L1418.4 1267.7L1418.6 1269.3L1418.8 1270.9L1419.1 1272.4L1419.3 1274.0L1419.5 1275.6" fill="none" stroke="#FF0000" stroke-width="7.3" stroke-linecap="round" stroke-linejoin="round" stroke-dasharray="0 14.55" stroke-dashoffset="0.00" pathLength="29.10"/>
<path d="M1419.5 1275.6L1419.8 1277.2L1420.0 1278.8L1420.2 1280.4L1420.5 1282.0L1420.7 1283.6L1421.0 1285.2L1421.2 1286.8L1421.4 1288.4L1421.7 1290.0L1421.9 1291.6L1422.1 1293.2L1422.3 1294.8L1422.5 1296.4L1422.7 1298.0L1422.9 1299.5L1423.1 1301.1L1423.4 1302.7L1423.6 1304.2" fill="none" stroke="#FF0000" stroke-width="7.3" stroke-linecap="round" stroke-linejoin="round" stroke-dasharray="0 14.55" stroke-dashoffset="0.00" pathLength="29.10"/>
<path d="M1423.6 1304.2L1423.9 1305.8L1424.2 1307.5L1424.5 1309.3L1424.9 1311.1L1425.2 1312.8L1425.6 1314.5L1426.0 1316.1L1426.5 1317.5L1427.1 1318.6L1428.0 1319.8L1429.2 1320.9L1430.5 1321.6L1431.9 1322.0L1433.5 1322.2L1435.2 1322.0L1436.8 1321.2L1437.2 1320.8" fill="none" stroke="#FF0000" stroke-width="7.3" stroke-linecap="round" stroke-linejoin="round" stroke-dasharray="0 14.55" stroke-dashoffset="0.00" pathLength="29.10"/>
<path d="M1437.2 1320.8L1438.0 1319.9L1438.8 1318.6L1439.6 1317.2L1440.3 1315.6L1441.0 1313.8L1441.7 1312.1L1442.3 1310.3L1442.9 1308.7L1443.4 1307.1L1443.8 1305.6L1444.1 1304.0L1444.4 1302.4L1444.7 1300.9L1444.9 1299.3L1445.2 1297.7L1445.4 1296.1L1445.7 1294.5L1446.0 1293.0" fill="none" stroke="#FF0000" stroke-width="7.3" stroke-linecap="round" stroke-linejoin="round" stroke-dasharray="0 14.55" stroke-dashoffset="0.00" pathLength="29.10"/>
<path d="M1446.0 1293.0L1446.4 1291.4L1446.8 1289.9L1447.2 1288.3L1447.6 1286.8L1448.0 1285.3L1448.4 1283.8L1448.8 1282.3L1449.2 1280.8L1449.6 1279.2L1450.0 1277.7L1450.5 1276.1L1450.9 1274.6L1451.3 1273.0L1451.7 1271.5L1452.1 1269.9L1452.5 1268.4L1452.9 1266.8L1453.2 1265.2" fill="none" stroke="#FF0000" stroke-width="7.3" stroke-linecap="round" stroke-linejoin="round" stroke-dasharray="0 14.55" stroke-dashoffset="0.00" pathLength="29.10"/>
<path d="M1453.2 1265.2L1453.6 1263.6L1453.9 1262.0L1454.1 1260.4L1454.4 1258.7L1454.7 1257.1L1454.9 1255.5L1455.2 1253.8L1455.4 1252.2L1455.7 1250.6L1455.9 1249.0L1456.2 1247.4L1456.4 1245.9L1456.6 1244.3L1456.9 1242.7L1457.1 1241.1L1457.4 1239.6L1457.7 1238.0L1458.0 1236.5" fill="none" stroke="#FF0000" stroke-width="7.3" stroke-linecap="round" stroke-linejoin="round" stroke-dasharray="0 14.55" stroke-dashoffset="0.00" pathLength="29.10"/>
<path d="M1458.0 1236.5L1458.4 1235.0L1458.8 1233.4L1459.2 1231.8L1459.7 1230.2L1460.1 1228.7L1460.6 1227.1L1461.1 1225.6L1461.7 1224.1L1462.3 1222.6L1463.0 1221.2L1463.7 1219.7L1464.5 1218.3L1465.4 1216.9L1466.2 1215.5L1467.2 1214.2L1468.1 1212.8L1469.0 1211.5L1469.9 1210.1" fill="none" stroke="#FF0000" stroke-width="7.3" stroke-linecap="round" stroke-linejoin="round" stroke-dasharray="0 14.55" stroke-dashoffset="0.00" pathLength="29.10"/>
<path d="M1469.9 1210.1L1470.9 1208.8L1471.9 1207.5L1472.9 1206.2L1473.9 1204.9L1474.9 1203.6L1475.9 1202.4L1476.9 1201.1L1477.9 1199.7L1478.9 1198.4L1479.8 1197.0L1480.7 1195.6L1481.6 1194.3L1482.5 1192.8L1483.4 1191.4L1484.2 1190.0L1485.1 1188.6L1486.0 1187.2L1486.4 1186.5" fill="none" stroke="#FF0000" stroke-width="7.3" stroke-linecap="round" stroke-linejoin="round" stroke-dasharray="0 14.55" stroke-dashoffset="0.00" pathLength="29.10"/>
<path d="M1486.4 1186.5L1487.2 1185.0L1488.1 1183.5L1488.9 1181.8L1489.7 1180.1L1490.5 1178.5L1491.3 1176.9L1492.1 1175.5L1492.9 1174.2L1493.7 1173.2L1494.8 1172.3L1496.2 1171.5L1497.7 1171.3L1499.2 1171.4L1500.7 1171.8L1502.0 1172.7L1502.4 1173.1" fill="none" stroke="#FF0000" stroke-width="7.3" stroke-linecap="round" stroke-linejoin="round" stroke-dasharray="0 14.55" stroke-dashoffset="0.00" pathLength="29.10"/>
<path d="M1502.4 1173.1L1503.1 1174.1L1503.7 1175.4L1504.3 1176.9L1504.8 1178.5L1505.3 1180.2L1505.7 1182.0L1506.2 1183.7L1506.6 1185.4L1507.0 1187.0L1507.3 1188.7L1507.6 1190.3L1507.9 1191.9L1508.1 1193.6L1508.3 1195.2L1508.5 1196.9L1508.7 1198.5L1508.9 1200.1L1509.1 1201.8L1509.4 1203.3L1509.7 1204.9L1510.0 1206.5L1510.3 1208.0L1510.6 1209.6L1510.9 1211.2L1511.2 1212.7L1511.5 1214.3L1511.8 1215.8L1512.1 1217.4L1512.4 1218.9L1512.8 1220.5L1513.1 1222.0L1513.4 1223.6L1513.8 1225.2L1514.1 1226.7L1514.4 1228.3L1514.7 1229.9L1514.9 1230.7" fill="none" stroke="#FF0000" stroke-width="7.3" stroke-linecap="round" stroke-linejoin="round" stroke-dasharray="0 14.55" stroke-dashoffset="0.00" pathLength="58.20"/>
<path d="M1514.9 1230.7L1515.2 1232.3L1515.5 1233.9L1515.8 1235.5L1516.1 1237.1L1516.4 1238.8L1516.7 1240.4L1517.0 1242.0L1517.3 1243.7L1517.6 1245.3L1517.9 1246.9L1518.1 1248.6L1518.4 1250.3L1518.6 1251.9L1518.9 1253.6L1519.2 1255.2L1519.5 1256.8L1519.9 1258.4L1520.2 1259.2" fill="none" stroke="#FF0000" stroke-width="7.3" stroke-linecap="round" stroke-linejoin="round" stroke-dasharray="0 14.55" stroke-dashoffset="0.00" pathLength="29.10"/>
<path d="M1520.2 1259.2L1520.7 1260.7L1521.3 1262.3L1521.9 1263.9L1522.6 1265.5L1523.4 1267.0L1524.2 1268.5L1525.0 1269.8L1525.9 1271.0L1526.8 1272.0L1528.1 1273.1L1529.5 1274.0L1530.9 1274.7L1532.3 1275.2L1533.7 1275.7L1535.2 1276.1L1536.7 1276.3L1538.2 1276.3L1539.7 1276.2" fill="none" stroke="#FF0000" stroke-width="7.3" stroke-linecap="round" stroke-linejoin="round" stroke-dasharray="0 14.55" stroke-dashoffset="0.00" pathLength="29.10"/>
<path d="M1539.7 1276.2L1541.0 1275.9L1542.5 1275.6L1544.0 1275.2L1545.6 1274.8L1547.3 1274.2L1548.9 1273.6L1550.5 1272.9L1552.0 1272.2L1553.4 1271.4L1554.7 1270.4L1556.0 1269.4L1557.3 1268.2L1558.6 1267.0L1559.9 1265.7L1561.1 1264.5L1562.3 1263.4L1563.4 1262.4L1564.0 1262.0" fill="none" stroke="#FF0000" stroke-width="7.3" stroke-linecap="round" stroke-linejoin="round" stroke-dasharray="0 14.55" stroke-dashoffset="0.00" pathLength="29.10"/>
<path d="M1564.0 1262.0L1565.1 1261.3L1566.6 1260.4L1568.0 1259.7L1569.3 1259.2L1570.6 1259.1L1572.1 1259.2L1573.6 1259.8L1575.1 1260.8L1576.0 1261.6L1577.0 1262.6L1578.0 1263.8L1579.0 1265.1L1580.0 1266.5L1580.9 1268.0L1581.9 1269.6L1582.7 1271.1L1583.5 1272.6L1583.9 1273.3" fill="none" stroke="#FF0000" stroke-width="7.3" stroke-linecap="round" stroke-linejoin="round" stroke-dasharray="0 14.55" stroke-dashoffset="0.00" pathLength="29.10"/>
<path d="M1583.9 1273.3L1584.6 1274.8L1585.1 1276.3L1585.7 1277.9L1586.1 1279.5L1586.5 1281.1L1586.9 1282.7L1587.3 1284.3L1587.8 1285.9L1588.2 1287.5" fill="none" stroke="#FF0000" stroke-width="7.3" stroke-linecap="round" stroke-linejoin="round" stroke-dasharray="0 14.55" stroke-dashoffset="0.00" pathLength="14.55"/>
<path d="M1588.2 1287.5L1588.7 1289.1L1589.1 1290.7L1589.5 1292.4L1590.0 1294.0L1590.4 1295.6L1590.9 1297.2L1591.3 1298.8L1591.8 1300.3L1592.3 1301.9L1592.8 1303.4L1593.4 1304.9L1593.9 1306.4L1594.4 1307.9L1595.0 1309.4L1595.6 1310.9L1596.2 1312.4L1596.8 1313.9L1597.1 1314.7" fill="none" stroke="#FF0000" stroke-width="7.3" stroke-linecap="round" stroke-linejoin="round" stroke-dasharray="0 14.55" stroke-dashoffset="0.00" pathLength="29.10"/>
<path d="M1597.1 1314.7L1597.7 1316.2L1598.4 1317.7L1599.0 1319.2L1599.7 1320.8L1600.3 1322.3L1601.1 1323.8L1601.8 1325.3L1602.6 1326.7L1603.5 1328.0L1604.4 1329.4L1605.4 1330.8L1606.4 1332.2L1607.4 1333.5L1608.5 1334.8L1609.7 1336.0L1610.9 1337.1L1612.2 1338.0L1612.8 1338.4" fill="none" stroke="#FF0000" stroke-width="7.3" stroke-linecap="round" stroke-linejoin="round" stroke-dasharray="0 14.55" stroke-dashoffset="0.00" pathLength="29.10"/>
<path d="M1612.8 1338.4L1614.3 1339.0L1615.9 1339.4L1617.6 1339.6L1619.3 1339.8L1621.1 1339.8L1622.8 1340.0L1624.5 1340.2L1626.1 1340.6L1627.5 1341.2L1628.8 1342.1L1630.0 1343.1L1631.1 1344.3L1632.1 1345.6L1633.1 1346.9L1634.0 1348.3L1635.1 1349.6L1636.1 1350.9L1636.7 1351.5" fill="none" stroke="#FF0000" stroke-width="7.3" stroke-linecap="round" stroke-linejoin="round" stroke-dasharray="0 14.55" stroke-dashoffset="0.00" pathLength="29.10"/>
<path d="M1636.7 1351.5L1637.8 1352.7L1639.0 1354.0L1640.2 1355.3L1641.4 1356.6L1642.6 1357.9L1643.8 1359.1L1645.0 1360.2L1646.1 1361.2L1647.2 1362.1L1648.5 1362.8L1649.9 1363.5L1651.3 1364.0L1652.7 1364.2L1654.1 1364.2L1655.5 1364.0L1656.9 1363.6L1658.4 1362.9L1659.6 1362.1L1660.2 1361.7" fill="none" stroke="#FF0000" stroke-width="7.3" stroke-linecap="round" stroke-linejoin="round" stroke-dasharray="0 14.55" stroke-dashoffset="0.00" pathLength="29.10"/>
<path d="M1660.2 1361.7L1661.3 1360.8L1662.4 1359.7L1663.5 1358.5L1664.7 1357.2L1665.9 1355.9L1667.1 1354.6L1668.3 1353.3L1669.5 1352.1L1670.6 1351.0L1671.7 1349.8L1672.8 1348.6L1673.9 1347.4L1675.0 1346.2L1676.1 1345.1L1677.3 1343.9L1678.5 1342.9L1679.7 1342.0L1680.3 1341.6" fill="none" stroke="#FF0000" stroke-width="7.3" stroke-linecap="round" stroke-linejoin="round" stroke-dasharray="0 14.55" stroke-dashoffset="0.00" pathLength="29.10"/>
<path d="M1680.3 1341.6L1681.7 1340.8L1683.1 1340.1L1684.6 1339.6L1686.1 1339.1L1687.7 1338.7L1689.2 1338.4L1690.8 1338.1L1692.4 1337.8L1694.0 1337.5L1695.6 1337.3L1697.2 1337.0L1698.8 1336.9L1700.4 1336.8L1702.1 1336.7L1703.7 1336.6L1705.4 1336.4L1707.0 1336.2L1708.5 1335.9L1709.3 1335.8" fill="none" stroke="#FF0000" stroke-width="7.3" stroke-linecap="round" stroke-linejoin="round" stroke-dasharray="0 14.55" stroke-dashoffset="0.00" pathLength="29.10"/>
<path d="M1709.3 1335.8L1710.9 1335.3L1712.4 1334.8L1714.0 1334.2L1715.5 1333.5L1717.0 1332.8L1718.5 1332.1L1719.9 1331.3L1721.4 1330.5L1722.8 1329.7L1724.2 1328.9L1725.5 1328.0L1726.8 1327.0L1728.2 1326.0L1729.5 1325.1L1730.8 1324.1L1732.1 1323.1L1733.4 1322.1L1734.1 1321.7" fill="none" stroke="#FF0000" stroke-width="7.3" stroke-linecap="round" stroke-linejoin="round" stroke-dasharray="0 14.55" stroke-dashoffset="0.00" pathLength="29.10"/>
<path d="M1734.1 1321.7L1735.4 1320.8L1736.7 1319.8L1738.0 1318.9L1739.3 1318.0L1740.6 1317.0L1741.9 1316.1L1743.3 1315.3L1744.6 1314.4L1746.0 1313.7L1747.4 1312.9L1748.9 1312.2L1750.4 1311.5L1751.9 1310.8L1753.5 1310.2L1755.0 1309.7L1756.6 1309.2L1758.2 1308.7L1759.8 1308.3" fill="none" stroke="#FF0000" stroke-width="7.3" stroke-linecap="round" stroke-linejoin="round" stroke-dasharray="0 14.55" stroke-dashoffset="0.00" pathLength="29.10"/>
<path d="M1759.8 1308.3L1761.4 1308.0L1763.0 1307.8L1764.6 1307.7L1766.2 1307.6L1767.9 1307.5L1769.5 1307.4L1771.2 1307.4L1772.8 1307.3L1774.4 1307.2" fill="none" stroke="#FF0000" stroke-width="7.3" stroke-linecap="round" stroke-linejoin="round" stroke-dasharray="0 14.55" stroke-dashoffset="0.00"/>
<g fill="#FF0000"><circle cx="1204.9" cy="1311.1" r="3.63"/><circle cx="1234.0" cy="1310.5" r="3.63"/><circle cx="1262.9" cy="1308.9" r="3.63"/><circle cx="1291.2" cy="1301.5" r="3.63"/><circle cx="1315.9" cy="1307.6" r="3.63"/><circle cx="1338.9" cy="1292.5" r="3.63"/><circle cx="1357.9" cy="1270.7" r="3.63"/><circle cx="1369.7" cy="1244.5" r="3.63"/><circle cx="1376.6" cy="1216.0" r="3.63"/><circle cx="1381.4" cy="1187.0" r="3.63"/><circle cx="1385.7" cy="1158.4" r="3.63"/><circle cx="1396.4" cy="1134.2" r="3.63"/><circle cx="1405.2" cy="1160.1" r="3.63"/><circle cx="1408.7" cy="1188.9" r="3.63"/><circle cx="1411.9" cy="1217.4" r="3.63"/><circle cx="1415.5" cy="1247.1" r="3.63"/><circle cx="1419.5" cy="1275.6" r="3.63"/><circle cx="1423.6" cy="1304.2" r="3.63"/><circle cx="1437.2" cy="1320.8" r="3.63"/><circle cx="1446.0" cy="1293.0" r="3.63"/><circle cx="1453.2" cy="1265.2" r="3.63"/><circle cx="1458.0" cy="1236.5" r="3.63"/><circle cx="1469.9" cy="1210.1" r="3.63"/><circle cx="1486.4" cy="1186.5" r="3.63"/><circle cx="1502.4" cy="1173.1" r="3.63"/><circle cx="1514.9" cy="1230.7" r="3.63"/><circle cx="1520.2" cy="1259.2" r="3.63"/><circle cx="1539.7" cy="1276.2" r="3.63"/><circle cx="1564.0" cy="1262.0" r="3.63"/><circle cx="1583.9" cy="1273.3" r="3.63"/><circle cx="1588.2" cy="1287.5" r="3.63"/><circle cx="1597.1" cy="1314.7" r="3.63"/><circle cx="1612.8" cy="1338.4" r="3.63"/><circle cx="1636.7" cy="1351.5" r="3.63"/><circle cx="1660.2" cy="1361.7" r="3.63"/><circle cx="1680.3" cy="1341.6" r="3.63"/><circle cx="1709.3" cy="1335.8" r="3.63"/><circle cx="1734.1" cy="1321.7" r="3.63"/><circle cx="1759.8" cy="1308.3" r="3.63"/></g>
</g>
<line x1="1185.25" y1="917.50" x2="1198.75" y2="917.50" stroke="#000" stroke-width="2.10" />
<text x="1159.60" y="931.50" font-size="43.50" text-anchor="end" >0.35</text>
<line x1="1185.25" y1="973.95" x2="1198.75" y2="973.95" stroke="#000" stroke-width="2.10" />
<text x="1159.60" y="987.95" font-size="43.50" text-anchor="end" >0.30</text>
<line x1="1185.25" y1="1030.40" x2="1198.75" y2="1030.40" stroke="#000" stroke-width="2.10" />
<text x="1159.60" y="1044.40" font-size="43.50" text-anchor="end" >0.25</text>
<line x1="1185.25" y1="1086.85" x2="1198.75" y2="1086.85" stroke="#000" stroke-width="2.10" />
<text x="1159.60" y="1100.85" font-size="43.50" text-anchor="end" >0.20</text>
<line x1="1185.25" y1="1143.30" x2="1198.75" y2="1143.30" stroke="#000" stroke-width="2.10" />
<text x="1159.60" y="1157.30" font-size="43.50" text-anchor="end" >0.15</text>
<line x1="1185.25" y1="1199.75" x2="1198.75" y2="1199.75" stroke="#000" stroke-width="2.10" />
<text x="1159.60" y="1213.75" font-size="43.50" text-anchor="end" >0.10</text>
<line x1="1185.25" y1="1256.20" x2="1198.75" y2="1256.20" stroke="#000" stroke-width="2.10" />
<text x="1159.60" y="1270.20" font-size="43.50" text-anchor="end" >0.05</text>
<line x1="1185.25" y1="1312.65" x2="1198.75" y2="1312.65" stroke="#000" stroke-width="2.10" />
<text x="1159.60" y="1326.65" font-size="43.50" text-anchor="end" >0.00</text>
<line x1="1185.25" y1="1369.10" x2="1198.75" y2="1369.10" stroke="#000" stroke-width="2.10" />
<text x="1159.60" y="1383.10" font-size="43.50" text-anchor="end" >-0.05</text>
<line x1="1185.25" y1="1425.55" x2="1198.75" y2="1425.55" stroke="#000" stroke-width="2.10" />
<text x="1159.60" y="1439.55" font-size="43.50" text-anchor="end" >-0.10</text>
<line x1="1185.25" y1="1482.00" x2="1198.75" y2="1482.00" stroke="#000" stroke-width="2.10" />
<text x="1159.60" y="1496.00" font-size="43.50" text-anchor="end" >-0.15</text>
<path d="M1348.45 943.0V1482.5" stroke="#7f7f7f" stroke-width="6.9" stroke-dasharray="21.5 7.7" stroke-dashoffset="6.7" fill="none"/>
<path d="M1428.45 943.0V1482.5" stroke="#7f7f7f" stroke-width="6.9" stroke-dasharray="21.5 7.7" stroke-dashoffset="6.7" fill="none"/>
<path d="M1511.85 943.0V1482.5" stroke="#7f7f7f" stroke-width="6.9" stroke-dasharray="21.5 7.7" stroke-dashoffset="6.7" fill="none"/>
<rect x="1315.7" y="895.0" width="60.0" height="48.0" fill="#fff"/>
<rect x="1390.3" y="895.0" width="59.0" height="48.0" fill="#fff"/>
<rect x="1486.9" y="895.0" width="59.5" height="48.0" fill="#fff"/>
<text x="1345.60" y="926.00" font-size="43.50" text-anchor="middle" >A</text>
<text x="1418.00" y="926.00" font-size="43.50" text-anchor="middle" >B</text>
<text x="1515.70" y="926.00" font-size="43.50" text-anchor="middle" >C</text>
<text x="1198.75" y="1547.50" font-size="43.50" text-anchor="middle" >8970</text>
<text x="1343.75" y="1547.50" font-size="43.50" text-anchor="middle" >8980</text>
<text x="1488.75" y="1547.50" font-size="43.50" text-anchor="middle" >8990</text>
<text x="1633.75" y="1547.50" font-size="43.50" text-anchor="middle" >9000</text>
<text x="1778.75" y="1547.50" font-size="43.50" text-anchor="middle" >9010</text>
<text x="1489.00" y="1603.30" font-size="43.50" text-anchor="middle" >Energy (eV)</text>
<text transform="translate(1055.50 1199.60) rotate(-90)" font-size="43.50" text-anchor="middle">1st Derivative of Absorption</text>
</svg>
</body></html>
